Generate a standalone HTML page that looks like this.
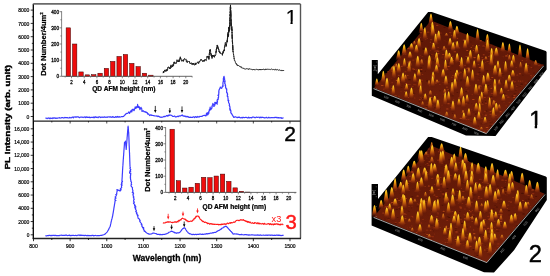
<!DOCTYPE html>
<html><head><meta charset="utf-8"><style>
html,body{margin:0;padding:0;background:#fff;}
svg{display:block;font-family:'Liberation Sans', Arial, sans-serif;}
</style></head><body>
<svg width="550" height="276" viewBox="0 0 550 276">
<rect x="0" y="0" width="550" height="276" fill="#fff"/>
<polyline points="162.90,73.11 163.16,72.96 163.43,71.25 163.69,72.94 163.95,71.06 164.21,71.36 164.47,71.06 164.74,69.90 165.00,71.46 165.50,71.29 166.00,69.70 166.50,71.24 166.68,69.42 166.87,70.21 167.05,70.91 167.23,70.66 167.42,69.99 167.60,69.98 167.78,67.45 167.97,67.40 168.15,67.61 168.33,66.90 168.52,66.76 168.70,66.92 169.02,68.08 169.35,68.47 169.68,68.95 170.00,67.12 170.20,68.81 170.40,67.38 170.60,66.05 170.80,66.59 171.00,64.86 171.50,67.44 172.00,67.11 172.50,65.59 172.68,66.82 172.86,64.55 173.05,64.17 173.23,64.53 173.41,65.84 173.59,65.51 173.77,62.73 173.95,62.23 174.14,62.82 174.32,61.79 174.50,63.26 174.88,63.79 175.25,62.58 175.62,63.25 176.00,63.75 176.17,63.40 176.33,62.68 176.50,62.82 176.67,61.32 176.83,61.47 177.00,59.73 177.38,61.46 177.75,61.80 178.12,60.61 178.50,61.91 178.68,61.22 178.86,61.82 179.04,59.66 179.22,61.60 179.40,59.89 179.58,59.13 179.76,58.71 179.94,59.05 180.12,58.08 180.30,56.77 180.45,58.99 180.60,58.03 180.75,58.45 180.90,59.33 181.05,58.84 181.20,59.82 181.35,60.46 181.50,60.14 181.93,61.37 182.35,60.82 182.77,59.94 183.20,60.10 183.46,61.40 183.72,59.56 183.98,60.13 184.24,58.98 184.50,58.46 184.90,58.66 185.30,59.28 185.70,59.51 186.10,59.11 186.33,61.49 186.57,61.93 186.80,62.17 187.03,60.61 187.27,62.54 187.50,62.05 188.00,61.69 188.50,61.08 189.00,61.75 189.38,61.27 189.75,63.10 190.12,63.78 190.50,63.10 190.88,63.69 191.25,62.68 191.62,63.41 192.00,64.64 192.40,63.20 192.80,64.67 193.20,64.58 193.60,63.17 194.00,64.90 194.40,64.94 194.80,65.10 195.24,62.86 195.68,64.92 196.12,63.23 196.56,63.73 197.00,63.43 197.40,62.00 197.80,62.13 198.20,61.78 198.60,63.62 199.00,62.51 199.25,61.64 199.50,62.13 199.75,61.01 200.00,60.55 200.32,60.79 200.65,59.99 200.98,59.11 201.30,59.87 201.60,59.64 201.90,60.62 202.20,60.32 202.50,61.53 202.93,61.50 203.37,60.34 203.80,61.51 204.10,60.43 204.40,61.24 204.70,59.55 205.00,60.26 205.43,59.44 205.87,60.38 206.30,60.61 206.43,59.64 206.57,58.97 206.70,58.63 206.83,57.07 206.97,56.42 207.10,56.16 207.23,55.97 207.37,57.29 207.50,56.89 207.73,57.27 207.97,57.01 208.20,55.99 208.43,57.63 208.67,56.98 208.90,59.53 208.94,57.54 208.99,58.45 209.03,56.37 209.07,57.10 209.12,56.12 209.16,55.73 209.21,55.39 209.25,55.20 209.29,54.57 209.34,53.52 209.38,54.67 209.43,53.64 209.47,53.57 209.51,51.89 209.56,53.05 209.60,52.04 209.70,52.15 209.80,50.56 209.90,50.97 210.00,49.64 210.10,51.10 210.20,50.03 210.27,50.83 210.35,49.71 210.42,49.49 210.49,50.83 210.56,51.18 210.64,52.67 210.71,53.64 210.78,53.03 210.85,54.05 210.93,53.74 211.00,54.57 211.11,54.13 211.22,55.97 211.33,54.46 211.44,56.12 211.56,57.14 211.67,55.66 211.78,56.09 211.89,57.64 212.00,58.54 212.20,58.03 212.40,56.47 212.60,55.17 212.80,56.70 213.00,55.04 213.20,55.46 213.36,54.99 213.52,55.80 213.68,56.48 213.84,56.40 214.00,56.11 214.25,57.13 214.50,57.31 214.75,54.85 215.00,55.17 215.35,55.72 215.70,55.06 215.76,55.00 215.81,54.46 215.87,53.85 215.93,51.99 215.99,52.22 216.04,52.66 216.10,50.97 216.16,51.74 216.21,52.01 216.27,49.62 216.33,49.27 216.39,50.37 216.44,49.54 216.50,48.89 216.59,47.74 216.68,48.72 216.77,47.85 216.86,46.95 216.94,46.59 217.03,45.28 217.12,45.39 217.21,45.24 217.30,44.95 217.40,46.31 217.50,46.90 217.60,45.80 217.70,45.79 217.80,47.79 217.90,46.79 218.00,48.63 218.14,49.05 218.29,47.88 218.43,48.40 218.57,49.78 218.71,49.35 218.86,49.18 219.00,51.82 219.25,50.86 219.50,51.75 219.75,53.14 220.00,51.75 220.25,52.59 220.50,53.59 220.80,53.97 221.10,53.51 221.40,53.70 221.70,54.14 222.00,54.33 222.30,54.45 222.45,55.36 222.60,52.79 222.75,53.62 222.90,52.50 223.05,51.34 223.20,53.12 223.50,52.56 223.80,50.25 224.10,51.06 224.16,50.96 224.22,49.59 224.28,50.72 224.33,49.04 224.39,48.76 224.45,47.21 224.51,47.22 224.57,47.59 224.62,47.30 224.68,47.19 224.74,46.31 224.80,45.74 224.89,46.62 224.97,44.83 225.06,44.83 225.14,43.62 225.23,43.17 225.31,42.59 225.40,42.31 225.49,42.66 225.57,43.07 225.66,43.33 225.74,44.73 225.83,43.93 225.91,45.35 226.00,44.83 226.15,45.33 226.30,46.41 226.45,43.75 226.60,43.53 226.67,43.60 226.75,42.43 226.82,42.62 226.89,42.71 226.96,41.88 227.04,41.39 227.11,41.94 227.18,40.14 227.25,42.02 227.33,39.11 227.40,38.94 227.43,38.38 227.46,39.58 227.49,37.99 227.52,38.29 227.55,39.03 227.58,36.32 227.61,37.40 227.64,35.63 227.66,37.20 227.69,35.60 227.72,35.94 227.75,34.21 227.78,35.26 227.81,34.37 227.84,33.47 227.87,32.71 227.90,32.95 227.99,32.57 228.07,34.13 228.16,33.99 228.24,33.81 228.33,33.90 228.41,36.24 228.50,34.95 228.52,36.48 228.55,36.17 228.57,34.64 228.59,34.97 228.61,33.62 228.64,33.28 228.66,32.11 228.68,31.71 228.70,32.71 228.73,30.74 228.75,31.88 228.77,29.82 228.80,31.90 228.82,30.44 228.84,30.59 228.86,30.21 228.89,28.23 228.91,27.54 228.93,27.22 228.95,29.03 228.98,28.43 229.00,26.91 229.04,28.26 229.08,28.17 229.12,29.17 229.16,28.87 229.20,27.99 229.24,29.65 229.28,29.04 229.32,30.11 229.36,29.50 229.40,30.96 229.42,30.73 229.43,29.98 229.45,30.04 229.46,28.97 229.48,28.51 229.49,27.45 229.51,27.25 229.52,28.30 229.54,28.56 229.55,28.01 229.57,26.26 229.58,27.11 229.60,25.61 229.62,25.00 229.63,25.92 229.65,25.54 229.66,22.95 229.68,23.06 229.69,23.54 229.71,23.41 229.72,22.18 229.74,22.58 229.75,20.98 229.77,20.60 229.78,19.61 229.80,20.98 229.82,21.12 229.84,20.45 229.86,18.17 229.88,18.54 229.90,18.33 229.92,18.73 229.94,17.30 229.96,17.78 229.98,15.90 230.00,14.88 230.02,15.82 230.04,14.45 230.06,14.14 230.08,14.40 230.10,14.82 230.12,12.45 230.14,11.98 230.16,12.41 230.18,12.53 230.20,11.51 230.22,12.37 230.24,10.55 230.25,10.58 230.27,10.81 230.29,10.74 230.31,8.58 230.32,9.87 230.34,9.57 230.36,7.72 230.38,6.63 230.39,8.50 230.41,6.97 230.43,7.76 230.45,6.50 230.46,5.87 230.48,4.59 230.50,6.28 230.51,5.17 230.53,5.70 230.54,6.10 230.55,5.74 230.57,7.10 230.58,8.37 230.60,8.99 230.61,7.05 230.62,8.81 230.64,8.52 230.65,10.57 230.66,10.35 230.68,10.36 230.69,11.92 230.70,10.34 230.72,10.72 230.73,12.81 230.75,11.77 230.76,13.93 230.77,12.90 230.79,12.63 230.80,15.25 230.81,13.70 230.82,13.72 230.83,15.85 230.84,15.97 230.86,14.75 230.87,17.64 230.88,16.25 230.89,16.66 230.90,16.49 230.91,19.26 230.92,19.54 230.93,20.17 230.94,19.68 230.96,18.55 230.97,19.27 230.98,21.36 230.99,19.75 231.00,21.42 231.01,20.72 231.02,23.42 231.03,21.60 231.04,21.99 231.06,24.45 231.07,22.98 231.08,25.48 231.09,23.93 231.10,26.17 231.13,25.95 231.17,24.59 231.20,26.90 231.23,26.85 231.27,27.18 231.30,27.59 231.33,27.14 231.37,29.46 231.40,27.92 231.43,30.05 231.47,28.97 231.50,28.84 231.56,29.34 231.61,28.14 231.67,29.68 231.73,29.56 231.79,27.92 231.84,26.37 231.90,26.85 231.91,27.67 231.92,27.83 231.93,27.75 231.94,28.89 231.96,30.17 231.97,30.32 231.98,31.09 231.99,29.28 232.00,31.27 232.01,31.45 232.02,32.70 232.03,31.83 232.04,33.27 232.06,32.78 232.07,33.42 232.08,33.32 232.09,34.65 232.10,35.25 232.11,35.99 232.12,34.41 232.13,36.55 232.14,36.92 232.16,36.01 232.17,36.79 232.18,36.85 232.19,38.57 232.20,37.08 232.22,38.06 232.25,37.86 232.27,38.73 232.30,38.38 232.32,41.10 232.35,41.02 232.38,41.68 232.40,41.05 232.42,40.61 232.45,41.68 232.47,43.41 232.50,41.99 232.53,43.46 232.55,42.37 232.57,42.72 232.60,43.58 232.62,44.51 232.65,45.02 232.67,46.02 232.70,44.95 232.72,46.90 232.75,46.65 232.78,48.48 232.80,46.32 232.82,47.80 232.85,49.25 232.88,48.59 232.90,50.20 232.93,49.32 232.95,50.37 232.97,51.53 233.00,50.88 233.06,50.91 233.12,51.99 233.18,51.76 233.24,52.58 233.30,52.47 233.35,53.64 233.41,53.63 233.47,53.84 233.53,54.85 233.59,55.06 233.65,54.72 233.71,55.39 233.77,56.41 233.83,56.76 233.89,56.38 233.95,57.09 234.00,57.26 234.06,58.00 234.12,58.79 234.18,58.31 234.24,59.08 234.30,59.33 234.47,60.23 234.64,60.00 234.81,60.78 234.99,60.98 235.16,61.36 235.33,62.21 235.50,62.78 235.72,62.91 235.93,63.37 236.15,63.11 236.37,64.36 236.58,64.42 236.80,65.14 237.16,64.59 237.51,65.63 237.87,65.85 238.22,65.15 238.58,65.52 238.93,65.99 239.29,66.13 239.64,66.28 240.00,66.90 240.36,66.69 240.73,67.26 241.09,66.65 241.45,67.36 241.82,67.93 242.18,67.75 242.55,68.27 242.91,67.87 243.27,68.50 243.64,68.34 244.00,68.77 244.40,68.95 244.80,68.64 245.20,68.86 245.60,69.09 246.00,68.76 246.40,68.81 246.80,68.51 247.20,68.96 247.60,69.02 248.00,68.61 248.40,69.55 248.80,69.14 249.20,68.68 249.60,68.99 250.00,68.80 250.40,69.23 250.80,69.03 251.20,68.98 251.60,69.38 252.00,69.10 252.41,69.73 252.82,69.86 253.23,69.65 253.63,69.13 254.04,69.97 254.45,69.74 254.86,69.64 255.27,69.48 255.68,69.89 256.09,69.49 256.50,69.42 256.90,69.24 257.31,69.61 257.72,69.02 258.13,69.68 258.54,69.82 258.95,70.05 259.36,69.81 259.77,69.06 260.17,69.84 260.58,69.26 260.99,70.12 261.40,69.58 261.81,69.21 262.22,69.77 262.64,69.21 263.05,69.71 263.46,69.17 263.88,69.10 264.29,69.44 264.70,70.09 265.11,69.28 265.52,68.99 265.94,69.75 266.35,69.01 266.76,69.33 267.18,69.07 267.59,69.38 268.00,69.44 268.42,69.31 268.83,69.46 269.25,69.35 269.66,69.43 270.08,69.32 270.49,69.58 270.91,69.31 271.33,69.02 271.74,69.21 272.16,69.29 272.57,69.67 272.99,69.82 273.41,69.49 273.82,69.09 274.24,69.58 274.65,70.05 275.07,69.73 275.48,69.18 275.90,69.23 276.31,70.19 276.72,69.68 277.13,69.44 277.54,69.67 277.95,69.77 278.36,70.07 278.77,70.33 279.18,70.11 279.59,69.93 280.00,69.79 280.40,70.24 280.80,70.71 281.20,70.81 281.60,69.94 282.00,70.53 282.40,70.61 282.80,70.24 283.20,70.81 283.60,70.36 284.00,71.00" fill="none" stroke="#1a1a1a" stroke-width="1.0" stroke-linejoin="round" />
<polyline points="45.40,118.04 46.01,118.07 46.62,118.28 47.23,118.62 47.83,118.08 48.44,118.12 49.05,117.95 49.66,118.67 50.27,118.54 50.88,117.97 51.48,118.35 52.09,118.54 52.70,117.83 53.31,118.34 53.92,117.88 54.52,117.78 55.13,118.46 55.74,117.94 56.35,118.17 56.96,118.40 57.57,117.99 58.17,117.99 58.78,117.86 59.39,117.61 60.00,118.11 60.61,118.00 61.21,117.80 61.82,117.64 62.43,117.62 63.04,117.66 63.64,118.05 64.25,117.85 64.86,117.41 65.46,117.50 66.07,117.82 66.68,117.53 67.29,117.62 67.89,117.81 68.50,118.01 69.11,117.99 69.71,117.35 70.32,117.76 70.93,117.88 71.54,117.74 72.14,117.15 72.75,117.07 73.36,117.79 73.96,116.90 74.57,117.02 75.18,117.16 75.79,116.89 76.39,117.16 77.00,116.80 77.61,116.90 78.21,116.89 78.82,117.20 79.42,117.66 80.03,117.24 80.63,117.13 81.24,117.20 81.84,117.14 82.45,117.15 83.05,117.58 83.66,117.23 84.26,117.01 84.87,116.97 85.47,117.57 86.08,116.84 86.68,117.30 87.29,117.16 87.89,117.39 88.50,117.47 89.11,116.89 89.71,117.59 90.32,117.64 90.92,117.40 91.53,117.39 92.13,117.29 92.74,117.44 93.34,117.65 93.95,116.89 94.55,117.69 95.16,116.87 95.76,116.95 96.37,117.43 96.97,116.99 97.58,117.35 98.18,117.68 98.79,116.85 99.39,116.86 100.00,116.95 100.60,117.54 101.20,117.32 101.80,117.00 102.40,117.10 103.00,117.49 103.60,117.25 104.20,116.80 104.80,117.19 105.40,117.29 106.00,117.06 106.60,117.19 107.20,117.46 107.80,116.77 108.40,117.02 109.00,116.95 109.60,117.09 110.20,116.73 110.80,117.19 111.40,117.08 112.00,117.38 112.60,116.66 113.20,116.76 113.80,117.32 114.40,117.28 115.00,117.33 115.60,116.67 116.20,116.83 116.80,117.32 117.40,116.50 118.00,116.98 118.60,117.12 119.20,116.53 119.80,117.21 120.40,117.00 121.00,116.73 121.60,116.57 122.20,116.70 122.80,116.56 123.40,116.37 124.00,116.00 124.60,115.20 125.20,114.84 125.80,113.95 126.40,113.60 127.00,113.29 127.62,113.32 128.25,112.87 128.88,111.91 129.50,113.36 130.05,112.44 130.60,111.36 131.15,110.44 131.70,111.93 131.96,111.32 132.22,109.33 132.48,109.51 132.74,109.92 133.00,109.43 133.33,109.23 133.67,109.94 134.00,110.63 134.30,110.24 134.60,108.92 134.90,108.55 135.20,106.91 135.50,107.18 135.83,108.28 136.17,107.68 136.50,107.92 136.72,106.69 136.94,107.21 137.16,106.73 137.38,106.83 137.60,104.44 137.83,106.98 138.07,107.59 138.30,106.99 138.65,106.37 139.00,107.34 139.25,107.64 139.50,107.07 139.75,109.26 140.00,109.54 140.50,108.50 141.00,107.38 141.25,107.77 141.50,108.12 141.75,108.94 142.00,111.48 143.00,110.76 143.47,110.83 143.93,111.73 144.40,111.63 144.87,111.99 145.33,112.10 145.80,111.64 146.33,112.73 146.87,112.40 147.40,112.96 147.93,114.27 148.47,113.86 149.00,114.43 149.65,115.55 150.30,115.25 150.95,114.64 151.60,115.36 152.25,115.23 152.90,115.50 153.55,115.69 154.20,115.69 154.85,115.99 155.50,116.01 156.10,115.93 156.70,116.12 157.30,115.99 157.90,116.68 158.50,116.06 159.10,116.41 159.70,116.93 160.30,117.30 160.90,116.96 161.58,117.34 162.27,117.21 162.95,116.93 163.63,116.66 164.32,116.38 165.00,116.59 165.60,116.29 166.20,115.87 166.80,115.56 167.40,116.17 168.00,115.31 168.60,115.79 169.20,114.90 169.80,115.31 170.53,115.03 171.27,115.31 172.00,115.68 172.67,116.45 173.33,116.48 174.00,116.20 174.67,115.98 175.33,116.93 176.00,116.93 176.60,116.69 177.20,116.62 177.80,116.07 178.40,116.63 179.00,116.00 179.64,115.92 180.28,116.11 180.92,115.71 181.56,115.41 182.20,114.99 182.90,115.82 183.60,115.93 184.30,116.39 185.00,115.83 185.64,116.75 186.28,116.87 186.92,116.33 187.56,116.80 188.20,116.70 188.84,117.32 189.49,117.45 190.13,117.09 190.78,117.41 191.42,117.37 192.07,117.26 192.71,117.32 193.36,116.82 194.00,116.94 194.64,117.50 195.28,116.90 195.91,116.69 196.55,117.36 197.19,117.08 197.82,116.48 198.46,117.02 199.10,117.11 199.75,116.38 200.40,116.48 201.05,116.39 201.70,116.42 202.35,116.28 203.00,115.59 203.60,115.52 204.20,115.35 204.80,115.34 205.29,115.80 206.36,114.52 206.23,115.76 206.47,113.16 206.80,114.42 207.59,114.16 207.60,112.86 207.64,115.02 207.91,114.41 208.07,114.49 208.22,113.82 208.21,112.27 208.89,113.18 208.77,111.19 208.84,111.53 209.52,110.72 209.78,110.18 209.34,109.73 209.88,109.06 210.18,107.15 210.28,109.53 210.38,108.53 210.75,109.73 211.11,109.16 211.44,108.21 211.38,108.69 211.70,108.68 212.18,106.50 211.87,106.48 212.34,105.37 212.89,104.27 212.88,103.36 213.54,105.08 213.96,104.75 214.07,106.41 213.76,106.34 214.64,104.16 214.91,105.15 214.86,104.06 214.81,102.43 215.43,103.66 215.67,102.24 216.23,103.17 217.27,104.05 216.86,102.38 216.77,102.00 217.58,102.06 217.09,100.52 217.23,99.87 218.03,98.92 218.11,99.72 218.22,97.38 218.43,98.28 218.63,95.59 217.97,95.52 218.51,95.13 218.25,95.01 218.79,94.39 218.75,93.61 218.97,91.94 218.85,91.50 218.66,92.28 218.92,90.75 218.96,90.69 218.91,90.21 218.96,90.30 219.43,89.22 220.14,87.80 220.34,86.99 221.11,88.15 221.33,88.34 221.70,87.53 221.89,87.93 222.19,87.20 222.46,85.78 223.02,86.28 223.08,86.30 222.94,84.28 222.90,83.58 222.97,82.93 222.98,82.64 223.12,81.73 223.50,80.96 223.74,81.37 223.39,80.79 223.34,78.51 224.10,77.77 223.40,79.01 223.50,77.94 224.04,76.39 223.90,77.43 224.08,76.50 224.19,78.24 224.13,77.50 224.60,78.18 224.08,78.64 224.89,80.26 224.79,81.25 225.08,81.50 224.68,82.98 224.50,83.00 225.27,84.13 225.23,85.59 225.35,85.81 225.48,85.06 225.64,86.00 225.52,86.83 225.77,87.87 226.42,89.20 226.71,88.90 226.70,90.82 226.65,91.54 226.58,92.23 227.31,92.97 227.38,92.99 227.17,93.62 227.63,93.93 227.54,95.31 227.37,94.63 227.28,96.44 227.87,96.60 227.66,96.14 227.96,98.28 227.97,97.90 228.13,99.44 228.00,100.10 228.02,100.33 228.72,100.42 228.81,100.60 228.44,101.37 228.65,102.74 228.99,103.21 229.43,104.05 229.39,105.08 229.60,105.17 229.24,105.25 229.68,106.46 229.90,106.95 229.82,106.47 229.89,106.92 230.02,107.49 229.67,109.21 230.52,109.22 230.02,110.29 230.76,110.29 230.95,111.50 230.92,111.60 230.67,112.01 231.13,113.20 231.45,113.35 231.74,113.81 231.97,114.41 232.27,114.92 232.65,115.45 233.03,116.18 233.42,116.77 233.80,117.39 234.50,117.09 235.20,116.94 235.90,116.96 236.60,117.21 237.30,117.74 237.94,117.15 238.58,117.42 239.23,117.06 239.87,117.59 240.51,117.79 241.15,117.79 241.79,117.45 242.43,117.91 243.07,117.23 243.72,117.53 244.36,117.61 245.00,117.48 245.61,117.36 246.23,117.38 246.84,117.48 247.45,117.91 248.07,117.94 248.68,117.24 249.29,117.93 249.90,117.70 250.52,117.56 251.13,117.61 251.74,117.85 252.36,117.11 252.97,117.11 253.58,117.11 254.20,117.27 254.81,117.70 255.42,117.73 256.03,117.24 256.65,116.99 257.26,117.51 257.87,117.41 258.49,117.27 259.10,117.12 259.71,117.83 260.31,117.67 260.92,117.03 261.52,117.67 262.13,117.51 262.73,117.20 263.34,117.53 263.94,117.49 264.55,117.92 265.16,117.80 265.76,117.57 266.37,117.25 266.97,117.84 267.58,118.01 268.18,117.64 268.79,117.29 269.39,117.72 270.00,117.80 270.62,117.72 271.24,117.62 271.85,117.58 272.47,117.66 273.09,117.74 273.71,117.60 274.33,117.74 274.95,117.39 275.56,117.42 276.18,117.56 276.80,117.43 277.42,117.64 278.04,118.12 278.65,117.49 279.27,117.83 279.89,117.78 280.51,118.00 281.13,117.61 281.75,118.40 282.36,118.17 282.98,117.94 283.60,118.00" fill="none" stroke="#3c3cff" stroke-width="1.2" stroke-linejoin="round" />
<polyline points="45.40,235.72 46.13,235.81 46.86,235.79 47.59,235.55 48.32,235.63 49.05,235.36 49.78,235.41 50.51,235.57 51.24,235.38 51.97,235.72 52.70,235.33 53.43,235.31 54.16,235.29 54.89,235.66 55.62,235.32 56.35,235.64 57.08,235.67 57.81,235.52 58.54,235.64 59.27,235.64 60.00,235.30 60.71,235.23 61.43,235.18 62.14,235.44 62.86,235.47 63.57,235.29 64.29,235.37 65.00,235.37 65.71,235.15 66.43,235.13 67.14,235.54 67.86,235.50 68.57,235.40 69.29,235.13 70.00,235.58 70.71,235.47 71.43,235.56 72.14,235.27 72.86,235.47 73.57,235.46 74.29,235.51 75.00,235.55 75.71,235.24 76.43,235.53 77.14,235.53 77.86,235.22 78.57,235.15 79.29,235.13 80.00,235.55 80.71,235.09 81.43,235.35 82.14,235.21 82.86,235.52 83.57,235.33 84.29,235.59 85.00,235.40 85.71,235.23 86.43,235.65 87.14,235.59 87.86,235.42 88.57,235.64 89.29,235.46 90.00,235.68 90.71,235.49 91.43,235.64 92.14,235.44 92.86,235.38 93.57,235.82 94.29,235.65 95.00,235.52 95.71,235.47 96.43,235.76 97.14,235.70 97.86,235.64 98.57,235.66 99.29,235.62 100.00,235.49 100.75,235.47 101.50,235.47 102.25,235.17 103.00,235.02 103.67,234.75 104.33,234.49 105.00,234.15 105.50,233.57 106.00,233.16 106.50,232.67 107.00,232.09 107.40,231.60 107.80,230.76 108.20,230.29 108.60,229.49 108.97,228.86 109.35,227.84 109.72,227.29 110.10,226.46 110.26,225.96 110.42,225.25 110.59,224.29 110.75,223.85 110.91,223.19 111.08,222.18 111.24,221.59 111.40,220.87 111.56,220.21 111.72,219.46 111.89,218.95 112.05,218.37 112.21,217.85 112.38,216.92 112.54,216.24 112.70,215.77 112.81,214.68 112.93,214.02 113.04,213.45 113.15,213.07 113.27,212.11 113.38,211.53 113.50,210.58 113.61,210.10 113.72,209.62 113.84,208.62 113.95,207.75 114.06,207.34 114.18,206.44 114.29,206.12 114.40,205.20 114.52,204.44 114.63,203.79 114.75,203.37 114.86,202.35 114.97,201.78 114.97,200.87 115.88,200.39 115.02,199.68 114.91,199.16 115.48,198.08 116.07,198.03 115.11,196.98 115.59,196.78 116.42,195.26 115.82,194.46 116.95,193.93 116.53,193.46 116.70,192.92 117.02,191.54 117.21,190.96 117.07,190.20 116.92,189.64 118.15,190.13 119.49,190.76 119.45,190.70 120.29,190.78 121.14,189.62 120.17,189.18 121.00,188.22 121.64,187.58 121.57,187.19 121.48,185.87 122.18,184.93 121.44,184.99 121.16,184.29 122.08,183.10 121.56,182.82 122.47,181.35 121.91,181.13 121.98,180.17 122.02,179.77 122.07,178.45 122.11,178.65 122.15,177.76 122.19,177.12 122.24,176.75 122.28,174.91 122.32,174.41 122.36,174.59 122.41,172.90 122.45,173.14 122.49,172.07 122.53,170.83 122.58,169.98 122.62,169.68 122.66,168.59 122.70,168.71 122.75,167.28 122.79,166.79 122.83,166.30 122.87,165.46 122.92,165.14 122.96,164.36 123.00,163.99 123.05,162.95 123.10,162.16 123.16,161.70 123.21,160.26 123.26,159.85 123.31,158.92 123.36,158.79 123.41,158.10 123.47,156.75 123.52,156.19 123.57,155.78 123.62,155.46 123.67,154.67 123.72,153.28 123.78,153.22 123.83,151.84 123.88,151.80 123.93,150.47 123.98,150.03 124.03,149.30 124.09,148.62 124.14,147.66 124.19,147.58 124.24,146.62 124.29,146.02 124.34,145.39 124.40,144.47 124.45,143.34 124.50,142.65 124.95,142.43 125.40,141.10 125.48,142.90 125.56,143.07 125.64,143.41 125.72,144.21 125.80,145.21 125.88,145.66 125.96,146.54 126.04,147.28 126.12,148.25 126.20,149.51 126.26,148.80 126.32,147.76 126.38,147.36 126.44,146.30 126.50,145.58 126.56,144.25 126.62,143.35 126.68,142.69 126.74,143.04 126.80,141.52 126.86,140.76 126.92,140.56 126.98,139.26 127.04,139.38 127.10,138.04 127.16,136.81 127.22,137.01 127.28,135.40 127.34,135.81 127.40,134.32 127.46,133.25 127.53,133.02 127.59,131.76 127.65,131.02 127.72,130.29 127.78,129.97 127.85,128.81 127.91,129.18 127.97,127.88 128.04,127.17 128.10,126.18 128.17,127.18 128.23,127.98 128.30,128.26 128.37,129.38 128.43,130.15 128.50,130.95 128.57,132.03 128.63,132.21 128.70,132.67 128.73,133.50 128.76,134.78 128.79,134.96 128.81,135.41 128.84,136.14 128.87,137.46 128.90,137.57 128.93,138.29 128.96,139.30 128.99,139.80 129.01,140.79 129.04,141.81 129.07,142.66 129.10,143.29 129.13,144.31 129.16,145.20 129.19,145.62 129.22,146.47 129.25,146.38 129.28,147.15 129.31,148.49 129.34,148.48 129.37,149.79 129.40,149.91 129.43,151.00 129.46,152.44 129.49,152.30 129.52,153.18 129.55,153.49 129.58,155.19 129.61,155.04 129.64,155.86 129.67,156.91 129.70,158.05 129.72,158.20 129.75,159.09 129.77,159.79 129.80,161.11 129.82,161.87 129.85,161.55 129.88,162.65 129.90,164.04 129.93,164.28 129.95,165.37 129.97,165.29 130.00,165.99 130.11,166.90 130.40,167.48 129.87,168.21 130.78,169.64 130.61,170.10 130.01,170.25 130.64,171.38 129.55,171.72 129.66,173.10 130.81,173.20 130.69,174.07 130.56,175.44 130.56,176.09 130.30,175.87 130.58,177.30 130.21,177.79 130.48,178.09 130.56,179.25 130.88,180.36 130.86,181.43 131.53,182.09 131.44,182.52 131.31,183.40 131.16,183.89 131.69,184.53 131.22,184.73 131.03,185.80 131.81,187.01 132.13,187.19 132.55,187.88 132.38,188.36 132.55,189.80 132.96,190.80 132.71,191.46 132.91,191.91 132.29,192.52 133.38,192.91 133.61,194.00 132.93,194.08 133.05,195.01 133.50,196.60 133.94,196.97 133.29,197.08 133.80,198.33 133.92,198.83 134.24,199.36 133.51,200.14 134.04,201.61 133.48,202.01 134.41,202.24 133.50,203.36 134.66,204.45 134.74,204.57 134.53,205.37 135.42,205.76 134.76,206.79 135.94,206.96 134.84,207.54 135.76,208.84 135.40,209.06 136.15,210.32 136.45,211.13 135.74,211.55 137.00,212.83 136.45,213.42 137.23,214.26 136.97,214.74 138.15,215.22 137.44,215.63 137.76,216.19 137.99,217.50 138.17,218.35 139.29,219.10 139.63,219.66 140.12,220.60 140.03,221.26 139.62,220.87 139.89,221.65 140.76,222.75 141.62,223.89 141.22,224.28 142.10,224.97 141.74,225.96 142.34,226.78 142.75,227.84 143.62,227.49 143.69,228.97 143.36,228.94 143.95,229.92 144.30,231.30 144.93,231.10 145.55,232.00 146.18,232.49 146.80,232.92 147.45,233.33 148.10,233.61 148.75,234.06 149.40,234.19 150.10,234.12 150.80,233.99 151.50,234.02 152.23,233.49 152.97,233.09 153.70,233.03 154.47,233.21 155.23,233.51 156.00,233.58 157.00,234.34 158.00,234.39 158.73,234.34 159.47,234.59 160.20,234.33 160.93,234.74 161.67,234.70 162.40,234.77 163.10,234.30 163.80,234.50 164.50,234.39 165.27,234.14 166.03,233.92 166.80,233.60 167.53,233.21 168.27,232.97 169.00,232.26 169.70,231.99 170.40,231.69 171.10,231.31 171.80,231.18 172.65,231.54 173.50,232.19 174.15,232.11 174.80,232.93 175.65,232.72 176.50,233.31 177.45,232.82 178.40,232.96 179.20,232.63 180.00,232.14 180.65,231.26 181.30,230.60 181.80,229.67 182.30,229.17 182.80,228.59 183.50,228.33 184.20,227.63 184.75,228.12 185.30,228.42 185.67,229.34 186.03,230.00 186.40,230.50 186.93,231.32 187.45,231.85 187.97,232.47 188.50,232.96 189.23,233.41 189.97,233.88 190.70,233.92 191.43,234.35 192.17,234.61 192.90,234.43 193.62,234.36 194.35,234.67 195.08,234.47 195.80,234.40 196.53,234.64 197.25,234.38 197.97,234.46 198.70,234.38 199.43,234.17 200.15,234.17 200.88,234.21 201.60,234.44 202.32,234.16 203.05,234.31 203.78,234.29 204.50,234.08 205.29,234.07 206.07,233.84 206.86,233.68 207.64,233.83 208.43,233.47 209.21,233.60 210.00,233.27 210.69,233.16 211.38,233.26 212.06,232.91 212.75,232.71 213.44,232.84 214.12,232.38 214.81,232.52 215.50,232.41 216.20,232.01 216.90,231.39 217.60,231.10 218.30,230.61 219.00,230.51 219.66,230.02 220.32,229.44 220.98,229.34 221.64,228.45 222.30,227.99 223.00,227.82 223.70,227.16 224.40,226.88 225.10,226.41 225.80,226.21 226.37,226.38 226.93,227.02 227.50,227.53 228.03,228.13 228.57,229.00 229.10,229.30 229.61,229.97 230.12,230.46 230.64,231.18 231.15,231.46 231.66,232.11 232.17,232.79 232.69,233.30 233.20,234.04 233.96,233.96 234.71,233.86 235.47,233.98 236.22,233.94 236.98,234.20 237.73,234.11 238.49,234.26 239.24,234.66 240.00,234.60 240.79,234.59 241.57,234.42 242.36,234.58 243.14,234.72 243.93,234.97 244.71,234.57 245.50,234.61 246.22,234.61 246.95,234.85 247.68,234.73 248.40,235.10 249.12,234.73 249.85,235.10 250.57,234.97 251.30,234.83 252.03,234.95 252.75,234.73 253.47,234.95 254.20,235.19 254.93,235.00 255.65,235.13 256.38,235.01 257.10,235.09 257.82,234.91 258.55,235.18 259.27,235.33 260.00,234.93 260.72,235.08 261.43,235.30 262.15,235.23 262.86,235.18 263.58,235.07 264.29,235.26 265.01,235.30 265.72,235.22 266.44,235.18 267.15,235.40 267.87,235.12 268.58,235.03 269.30,235.18 270.01,235.04 270.73,235.36 271.44,235.00 272.16,235.16 272.87,235.34 273.59,235.44 274.30,235.20 275.02,235.29 275.73,235.36 276.45,235.14 277.16,235.07 277.88,235.46 278.59,235.11 279.31,235.33 280.02,235.21 280.74,235.54 281.45,235.54 282.17,235.32 282.88,235.26 283.60,235.40" fill="none" stroke="#3c3cff" stroke-width="1.2" stroke-linejoin="round" />
<polyline points="163.10,223.59 163.58,222.75 164.07,223.06 164.55,223.01 165.03,222.86 165.52,222.73 166.00,222.10 166.50,222.37 167.00,222.16 167.50,221.77 168.00,222.22 168.50,221.75 169.00,222.26 169.56,221.93 170.12,221.74 170.68,221.95 171.24,222.41 171.80,222.59 172.35,222.79 172.90,222.17 173.45,222.26 174.00,222.47 174.50,221.83 175.00,221.87 175.50,221.71 176.00,222.33 176.50,222.32 177.00,221.59 177.50,221.34 178.00,222.04 178.50,220.67 179.00,220.32 179.50,221.04 180.00,219.97 180.50,219.63 181.00,219.93 181.50,218.81 182.00,218.51 182.50,218.06 183.00,218.57 183.50,218.83 184.00,219.03 184.50,218.92 184.88,219.50 185.25,219.10 185.62,219.67 186.00,220.64 186.50,219.99 187.00,220.94 187.50,220.81 188.00,221.74 188.50,221.24 189.00,221.61 189.50,221.57 190.13,221.07 190.77,221.17 191.40,221.09 191.93,221.50 192.47,220.42 193.00,219.98 193.36,219.81 193.72,219.96 194.08,218.47 194.44,218.15 194.80,218.63 195.15,218.09 195.50,217.88 195.85,216.35 196.20,216.94 196.75,215.96 197.30,216.08 197.90,216.06 198.50,216.33 198.80,217.07 199.10,216.91 199.40,217.28 199.70,218.35 200.00,219.08 200.38,219.21 200.77,219.73 201.15,219.84 201.53,220.56 201.92,220.38 202.30,221.15 202.75,221.60 203.20,221.26 203.65,221.54 204.10,222.12 204.55,222.49 205.00,222.14 205.50,222.10 206.00,222.54 206.50,222.92 207.00,222.64 207.50,223.78 208.00,223.56 208.50,223.25 209.00,223.22 209.50,224.20 210.00,224.24 210.50,223.54 211.00,223.64 211.50,224.11 212.00,223.69 212.50,224.27 213.00,224.33 213.50,224.09 214.00,224.48 214.53,224.07 215.06,224.48 215.59,224.30 216.12,224.18 216.65,224.49 217.18,224.48 217.72,224.19 218.25,224.33 218.78,225.00 219.31,224.59 219.84,224.57 220.37,224.25 220.90,224.97 221.41,224.50 221.92,223.77 222.43,224.56 222.94,224.45 223.45,223.99 223.96,224.15 224.47,223.72 224.98,224.51 225.49,223.92 226.00,224.34 226.53,223.98 227.05,223.22 227.58,223.03 228.11,223.76 228.64,223.63 229.16,222.99 229.69,222.78 230.22,223.36 230.75,222.57 231.27,222.52 231.80,222.99 232.33,222.77 232.85,222.68 233.38,222.29 233.90,221.84 234.43,222.36 234.95,222.16 235.47,221.40 236.00,220.76 236.50,220.53 237.00,220.34 237.50,220.26 238.00,220.29 238.50,220.29 239.00,220.77 239.60,220.19 240.20,220.10 240.80,219.55 241.40,220.17 241.92,219.74 242.44,219.99 242.96,220.37 243.48,219.64 244.00,220.17 244.47,220.46 244.93,221.02 245.40,221.28 245.87,220.67 246.33,221.75 246.80,221.34 247.27,221.31 247.73,222.40 248.20,221.61 248.73,221.78 249.27,222.68 249.80,221.94 250.33,222.06 250.87,222.99 251.40,223.21 251.93,223.08 252.47,222.66 253.00,223.31 253.51,223.38 254.02,223.34 254.53,222.58 255.03,223.19 255.54,222.69 256.05,222.69 256.56,223.53 257.07,223.81 257.58,222.82 258.08,222.91 258.59,223.86 259.10,223.02 259.64,223.87 260.17,223.42 260.71,223.65 261.25,223.91 261.78,223.86 262.32,223.77 262.85,223.38 263.39,224.15 263.93,224.32 264.46,223.24 265.00,224.07 265.50,223.98 266.00,224.26 266.50,224.29 267.00,224.12 267.50,223.84 268.00,224.02 268.50,223.53 269.00,223.45 269.50,224.63 270.00,224.08 270.50,223.67 271.00,224.50 271.50,224.61 272.00,223.91 272.50,224.04 273.00,224.71 273.50,224.85 274.00,223.75 274.50,224.52 275.00,223.75 275.50,224.37 276.00,224.00 276.53,223.82 277.06,224.18 277.59,223.89 278.11,224.67 278.64,224.10 279.17,224.56 279.70,224.90 280.23,224.08 280.76,224.97 281.29,224.33 281.81,224.31 282.34,223.99 282.87,224.59 283.40,224.50" fill="none" stroke="#ff1a1a" stroke-width="1.1" stroke-linejoin="round" />
<line x1="155.30" y1="105.90" x2="155.30" y2="110.90" stroke="#000" stroke-width="0.8"/>
<path d="M154.05,109.90 L156.55,109.90 L155.30,112.90Z" fill="#000"/>
<line x1="169.80" y1="108.00" x2="169.80" y2="111.50" stroke="#000" stroke-width="0.8"/>
<path d="M168.55,110.50 L171.05,110.50 L169.80,113.50Z" fill="#000"/>
<line x1="182.00" y1="106.40" x2="182.00" y2="110.90" stroke="#000" stroke-width="0.8"/>
<path d="M180.75,109.90 L183.25,109.90 L182.00,112.90Z" fill="#000"/>
<line x1="154.00" y1="226.10" x2="154.00" y2="229.20" stroke="#000" stroke-width="0.8"/>
<path d="M152.75,228.20 L155.25,228.20 L154.00,231.20Z" fill="#000"/>
<line x1="171.60" y1="224.70" x2="171.60" y2="227.80" stroke="#000" stroke-width="0.8"/>
<path d="M170.35,226.80 L172.85,226.80 L171.60,229.80Z" fill="#000"/>
<line x1="184.20" y1="221.50" x2="184.20" y2="225.30" stroke="#000" stroke-width="0.8"/>
<path d="M182.95,224.30 L185.45,224.30 L184.20,227.30Z" fill="#000"/>
<line x1="168.20" y1="213.80" x2="168.20" y2="217.60" stroke="#ff1a1a" stroke-width="0.8"/>
<path d="M166.95,216.60 L169.45,216.60 L168.20,219.60Z" fill="#ff1a1a"/>
<line x1="183.00" y1="211.60" x2="183.00" y2="214.60" stroke="#ff1a1a" stroke-width="0.8"/>
<path d="M181.75,213.60 L184.25,213.60 L183.00,216.60Z" fill="#ff1a1a"/>
<line x1="197.50" y1="208.40" x2="197.50" y2="211.60" stroke="#ff1a1a" stroke-width="0.8"/>
<path d="M196.25,210.60 L198.75,210.60 L197.50,213.60Z" fill="#ff1a1a"/>
<line x1="33.30" y1="3.80" x2="33.30" y2="239.00" stroke="#000" stroke-width="1.3"/>
<line x1="33.30" y1="3.90" x2="300.40" y2="3.90" stroke="#6a6a6a" stroke-width="1.7"/>
<line x1="300.50" y1="3.90" x2="300.50" y2="238.40" stroke="#555" stroke-width="1.4"/>
<line x1="33.30" y1="121.10" x2="300.40" y2="121.10" stroke="#222" stroke-width="1.2"/>
<line x1="32.70" y1="238.40" x2="301.00" y2="238.40" stroke="#222" stroke-width="1.5"/>
<line x1="30.70" y1="116.50" x2="33.30" y2="116.50" stroke="#000" stroke-width="0.8"/>
<line x1="31.80" y1="109.85" x2="33.30" y2="109.85" stroke="#000" stroke-width="0.8"/>
<line x1="30.70" y1="103.20" x2="33.30" y2="103.20" stroke="#000" stroke-width="0.8"/>
<line x1="31.80" y1="96.55" x2="33.30" y2="96.55" stroke="#000" stroke-width="0.8"/>
<line x1="30.70" y1="89.90" x2="33.30" y2="89.90" stroke="#000" stroke-width="0.8"/>
<line x1="31.80" y1="83.25" x2="33.30" y2="83.25" stroke="#000" stroke-width="0.8"/>
<line x1="30.70" y1="76.60" x2="33.30" y2="76.60" stroke="#000" stroke-width="0.8"/>
<line x1="31.80" y1="69.95" x2="33.30" y2="69.95" stroke="#000" stroke-width="0.8"/>
<line x1="30.70" y1="63.30" x2="33.30" y2="63.30" stroke="#000" stroke-width="0.8"/>
<line x1="31.80" y1="56.65" x2="33.30" y2="56.65" stroke="#000" stroke-width="0.8"/>
<line x1="30.70" y1="50.00" x2="33.30" y2="50.00" stroke="#000" stroke-width="0.8"/>
<line x1="31.80" y1="43.35" x2="33.30" y2="43.35" stroke="#000" stroke-width="0.8"/>
<line x1="30.70" y1="36.70" x2="33.30" y2="36.70" stroke="#000" stroke-width="0.8"/>
<line x1="31.80" y1="30.05" x2="33.30" y2="30.05" stroke="#000" stroke-width="0.8"/>
<line x1="30.70" y1="23.40" x2="33.30" y2="23.40" stroke="#000" stroke-width="0.8"/>
<line x1="31.80" y1="16.75" x2="33.30" y2="16.75" stroke="#000" stroke-width="0.8"/>
<line x1="30.70" y1="10.10" x2="33.30" y2="10.10" stroke="#000" stroke-width="0.8"/>
<text x="29.40" y="118.60" font-size="6.0" text-anchor="end" textLength="2.8" lengthAdjust="spacingAndGlyphs" stroke="#000" stroke-width="0.22">0</text>
<text x="29.40" y="105.30" font-size="6.0" text-anchor="end" textLength="11.2" lengthAdjust="spacingAndGlyphs" stroke="#000" stroke-width="0.22">1000</text>
<text x="29.40" y="92.00" font-size="6.0" text-anchor="end" textLength="11.2" lengthAdjust="spacingAndGlyphs" stroke="#000" stroke-width="0.22">2000</text>
<text x="29.40" y="78.70" font-size="6.0" text-anchor="end" textLength="11.2" lengthAdjust="spacingAndGlyphs" stroke="#000" stroke-width="0.22">3000</text>
<text x="29.40" y="65.40" font-size="6.0" text-anchor="end" textLength="11.2" lengthAdjust="spacingAndGlyphs" stroke="#000" stroke-width="0.22">4000</text>
<text x="29.40" y="52.10" font-size="6.0" text-anchor="end" textLength="11.2" lengthAdjust="spacingAndGlyphs" stroke="#000" stroke-width="0.22">5000</text>
<text x="29.40" y="38.80" font-size="6.0" text-anchor="end" textLength="11.2" lengthAdjust="spacingAndGlyphs" stroke="#000" stroke-width="0.22">6000</text>
<text x="29.40" y="25.50" font-size="6.0" text-anchor="end" textLength="11.2" lengthAdjust="spacingAndGlyphs" stroke="#000" stroke-width="0.22">7000</text>
<text x="29.40" y="12.20" font-size="6.0" text-anchor="end" textLength="11.2" lengthAdjust="spacingAndGlyphs" stroke="#000" stroke-width="0.22">8000</text>
<line x1="30.70" y1="234.80" x2="33.30" y2="234.80" stroke="#000" stroke-width="0.8"/>
<line x1="31.80" y1="228.18" x2="33.30" y2="228.18" stroke="#000" stroke-width="0.8"/>
<line x1="30.70" y1="221.55" x2="33.30" y2="221.55" stroke="#000" stroke-width="0.8"/>
<line x1="31.80" y1="214.93" x2="33.30" y2="214.93" stroke="#000" stroke-width="0.8"/>
<line x1="30.70" y1="208.30" x2="33.30" y2="208.30" stroke="#000" stroke-width="0.8"/>
<line x1="31.80" y1="201.68" x2="33.30" y2="201.68" stroke="#000" stroke-width="0.8"/>
<line x1="30.70" y1="195.05" x2="33.30" y2="195.05" stroke="#000" stroke-width="0.8"/>
<line x1="31.80" y1="188.43" x2="33.30" y2="188.43" stroke="#000" stroke-width="0.8"/>
<line x1="30.70" y1="181.80" x2="33.30" y2="181.80" stroke="#000" stroke-width="0.8"/>
<line x1="31.80" y1="175.18" x2="33.30" y2="175.18" stroke="#000" stroke-width="0.8"/>
<line x1="30.70" y1="168.55" x2="33.30" y2="168.55" stroke="#000" stroke-width="0.8"/>
<line x1="31.80" y1="161.93" x2="33.30" y2="161.93" stroke="#000" stroke-width="0.8"/>
<line x1="30.70" y1="155.30" x2="33.30" y2="155.30" stroke="#000" stroke-width="0.8"/>
<line x1="31.80" y1="148.68" x2="33.30" y2="148.68" stroke="#000" stroke-width="0.8"/>
<line x1="30.70" y1="142.05" x2="33.30" y2="142.05" stroke="#000" stroke-width="0.8"/>
<line x1="31.80" y1="135.43" x2="33.30" y2="135.43" stroke="#000" stroke-width="0.8"/>
<line x1="30.70" y1="128.80" x2="33.30" y2="128.80" stroke="#000" stroke-width="0.8"/>
<text x="29.40" y="236.90" font-size="6.0" text-anchor="end" textLength="2.65" lengthAdjust="spacingAndGlyphs" stroke="#000" stroke-width="0.22">0</text>
<text x="29.40" y="223.65" font-size="6.0" text-anchor="end" textLength="11.200000000000001" lengthAdjust="spacingAndGlyphs" stroke="#000" stroke-width="0.22">2000</text>
<text x="29.40" y="210.40" font-size="6.0" text-anchor="end" textLength="11.200000000000001" lengthAdjust="spacingAndGlyphs" stroke="#000" stroke-width="0.22">4000</text>
<text x="29.40" y="197.15" font-size="6.0" text-anchor="end" textLength="11.200000000000001" lengthAdjust="spacingAndGlyphs" stroke="#000" stroke-width="0.22">6000</text>
<text x="29.40" y="183.90" font-size="6.0" text-anchor="end" textLength="11.200000000000001" lengthAdjust="spacingAndGlyphs" stroke="#000" stroke-width="0.22">8000</text>
<text x="29.40" y="170.65" font-size="6.0" text-anchor="end" textLength="15.25" lengthAdjust="spacingAndGlyphs" stroke="#000" stroke-width="0.22">10,000</text>
<text x="29.40" y="157.40" font-size="6.0" text-anchor="end" textLength="15.25" lengthAdjust="spacingAndGlyphs" stroke="#000" stroke-width="0.22">12,000</text>
<text x="29.40" y="144.15" font-size="6.0" text-anchor="end" textLength="15.25" lengthAdjust="spacingAndGlyphs" stroke="#000" stroke-width="0.22">14,000</text>
<text x="29.40" y="130.90" font-size="6.0" text-anchor="end" textLength="15.25" lengthAdjust="spacingAndGlyphs" stroke="#000" stroke-width="0.22">16,000</text>
<line x1="33.50" y1="238.40" x2="33.50" y2="241.20" stroke="#000" stroke-width="0.8"/>
<line x1="33.50" y1="121.10" x2="33.50" y2="123.50" stroke="#000" stroke-width="0.7"/>
<line x1="51.82" y1="238.40" x2="51.82" y2="240.00" stroke="#000" stroke-width="0.8"/>
<line x1="51.82" y1="121.10" x2="51.82" y2="122.50" stroke="#000" stroke-width="0.7"/>
<line x1="70.14" y1="238.40" x2="70.14" y2="241.20" stroke="#000" stroke-width="0.8"/>
<line x1="70.14" y1="121.10" x2="70.14" y2="123.50" stroke="#000" stroke-width="0.7"/>
<line x1="88.46" y1="238.40" x2="88.46" y2="240.00" stroke="#000" stroke-width="0.8"/>
<line x1="88.46" y1="121.10" x2="88.46" y2="122.50" stroke="#000" stroke-width="0.7"/>
<line x1="106.78" y1="238.40" x2="106.78" y2="241.20" stroke="#000" stroke-width="0.8"/>
<line x1="106.78" y1="121.10" x2="106.78" y2="123.50" stroke="#000" stroke-width="0.7"/>
<line x1="125.10" y1="238.40" x2="125.10" y2="240.00" stroke="#000" stroke-width="0.8"/>
<line x1="125.10" y1="121.10" x2="125.10" y2="122.50" stroke="#000" stroke-width="0.7"/>
<line x1="143.42" y1="238.40" x2="143.42" y2="241.20" stroke="#000" stroke-width="0.8"/>
<line x1="143.42" y1="121.10" x2="143.42" y2="123.50" stroke="#000" stroke-width="0.7"/>
<line x1="161.74" y1="238.40" x2="161.74" y2="240.00" stroke="#000" stroke-width="0.8"/>
<line x1="161.74" y1="121.10" x2="161.74" y2="122.50" stroke="#000" stroke-width="0.7"/>
<line x1="180.06" y1="238.40" x2="180.06" y2="241.20" stroke="#000" stroke-width="0.8"/>
<line x1="180.06" y1="121.10" x2="180.06" y2="123.50" stroke="#000" stroke-width="0.7"/>
<line x1="198.38" y1="238.40" x2="198.38" y2="240.00" stroke="#000" stroke-width="0.8"/>
<line x1="198.38" y1="121.10" x2="198.38" y2="122.50" stroke="#000" stroke-width="0.7"/>
<line x1="216.70" y1="238.40" x2="216.70" y2="241.20" stroke="#000" stroke-width="0.8"/>
<line x1="216.70" y1="121.10" x2="216.70" y2="123.50" stroke="#000" stroke-width="0.7"/>
<line x1="235.02" y1="238.40" x2="235.02" y2="240.00" stroke="#000" stroke-width="0.8"/>
<line x1="235.02" y1="121.10" x2="235.02" y2="122.50" stroke="#000" stroke-width="0.7"/>
<line x1="253.34" y1="238.40" x2="253.34" y2="241.20" stroke="#000" stroke-width="0.8"/>
<line x1="253.34" y1="121.10" x2="253.34" y2="123.50" stroke="#000" stroke-width="0.7"/>
<line x1="271.66" y1="238.40" x2="271.66" y2="240.00" stroke="#000" stroke-width="0.8"/>
<line x1="271.66" y1="121.10" x2="271.66" y2="122.50" stroke="#000" stroke-width="0.7"/>
<line x1="289.98" y1="238.40" x2="289.98" y2="241.20" stroke="#000" stroke-width="0.8"/>
<line x1="289.98" y1="121.10" x2="289.98" y2="123.50" stroke="#000" stroke-width="0.7"/>
<text x="33.50" y="247.60" font-size="6.0" text-anchor="middle" textLength="8.399999999999999" lengthAdjust="spacingAndGlyphs" stroke="#000" stroke-width="0.22">800</text>
<text x="70.14" y="247.60" font-size="6.0" text-anchor="middle" textLength="8.399999999999999" lengthAdjust="spacingAndGlyphs" stroke="#000" stroke-width="0.22">900</text>
<text x="106.78" y="247.60" font-size="6.0" text-anchor="middle" textLength="11.2" lengthAdjust="spacingAndGlyphs" stroke="#000" stroke-width="0.22">1000</text>
<text x="143.42" y="247.60" font-size="6.0" text-anchor="middle" textLength="11.2" lengthAdjust="spacingAndGlyphs" stroke="#000" stroke-width="0.22">1100</text>
<text x="180.06" y="247.60" font-size="6.0" text-anchor="middle" textLength="11.2" lengthAdjust="spacingAndGlyphs" stroke="#000" stroke-width="0.22">1200</text>
<text x="216.70" y="247.60" font-size="6.0" text-anchor="middle" textLength="11.2" lengthAdjust="spacingAndGlyphs" stroke="#000" stroke-width="0.22">1300</text>
<text x="253.34" y="247.60" font-size="6.0" text-anchor="middle" textLength="11.2" lengthAdjust="spacingAndGlyphs" stroke="#000" stroke-width="0.22">1400</text>
<text x="289.98" y="247.60" font-size="6.0" text-anchor="middle" textLength="11.2" lengthAdjust="spacingAndGlyphs" stroke="#000" stroke-width="0.22">1500</text>
<text x="167.00" y="260.80" font-size="9.3" text-anchor="middle" font-weight="bold" textLength="68.6" lengthAdjust="spacingAndGlyphs" stroke="#000" stroke-width="0.3">Wavelength (nm)</text>
<text transform="translate(9.7,117.3) rotate(-90)" font-size="8.1" font-weight="bold" stroke="#000" stroke-width="0.42" text-anchor="middle" textLength="104.5" lengthAdjust="spacingAndGlyphs">PL Intensity (arb. unit)</text>
<text x="291.30" y="23.60" font-size="20.3" text-anchor="middle" stroke="#000" stroke-width="0.2">1</text>
<rect x="285.21" y="21.37" width="5.24" height="3.93" fill="#fff"/>
<rect x="292.66" y="21.37" width="4.73" height="3.93" fill="#fff"/>
<text x="290.10" y="141.40" font-size="21.0" text-anchor="middle" stroke="#000" stroke-width="0.45">2</text>
<text x="291.20" y="229.10" font-size="20.3" text-anchor="middle" fill="#ff1a1a" stroke="#ff1a1a" stroke-width="0.45">3</text>
<text x="276.40" y="221.60" font-size="9.2" text-anchor="middle" fill="#ff1a1a" >x3</text>
<rect x="66.12" y="27.85" width="4.4" height="48.45" fill="#ee0c0c" stroke="#3a0000" stroke-width="0.5"/>
<rect x="72.47" y="44.00" width="4.4" height="32.30" fill="#ee0c0c" stroke="#3a0000" stroke-width="0.5"/>
<rect x="78.82" y="71.94" width="4.4" height="4.36" fill="#ee0c0c" stroke="#3a0000" stroke-width="0.5"/>
<rect x="85.17" y="74.85" width="4.4" height="1.45" fill="#ee0c0c" stroke="#3a0000" stroke-width="0.5"/>
<rect x="91.52" y="74.69" width="4.4" height="1.61" fill="#ee0c0c" stroke="#3a0000" stroke-width="0.5"/>
<rect x="97.87" y="73.23" width="4.4" height="3.07" fill="#ee0c0c" stroke="#3a0000" stroke-width="0.5"/>
<rect x="104.22" y="68.39" width="4.4" height="7.91" fill="#ee0c0c" stroke="#3a0000" stroke-width="0.5"/>
<rect x="110.57" y="61.44" width="4.4" height="14.86" fill="#ee0c0c" stroke="#3a0000" stroke-width="0.5"/>
<rect x="116.92" y="56.44" width="4.4" height="19.86" fill="#ee0c0c" stroke="#3a0000" stroke-width="0.5"/>
<rect x="123.27" y="54.50" width="4.4" height="21.80" fill="#ee0c0c" stroke="#3a0000" stroke-width="0.5"/>
<rect x="129.62" y="63.38" width="4.4" height="12.92" fill="#ee0c0c" stroke="#3a0000" stroke-width="0.5"/>
<rect x="135.98" y="66.61" width="4.4" height="9.69" fill="#ee0c0c" stroke="#3a0000" stroke-width="0.5"/>
<rect x="142.32" y="73.23" width="4.4" height="3.07" fill="#ee0c0c" stroke="#3a0000" stroke-width="0.5"/>
<rect x="148.68" y="75.17" width="4.4" height="1.13" fill="#ee0c0c" stroke="#3a0000" stroke-width="0.5"/>
<line x1="61.60" y1="76.30" x2="61.60" y2="11.20" stroke="#777" stroke-width="0.9"/>
<line x1="61.60" y1="76.30" x2="192.20" y2="76.30" stroke="#555" stroke-width="0.9"/>
<line x1="59.40" y1="76.30" x2="61.60" y2="76.30" stroke="#555" stroke-width="0.7"/>
<line x1="60.40" y1="68.22" x2="61.60" y2="68.22" stroke="#555" stroke-width="0.7"/>
<line x1="59.40" y1="60.15" x2="61.60" y2="60.15" stroke="#555" stroke-width="0.7"/>
<line x1="60.40" y1="52.07" x2="61.60" y2="52.07" stroke="#555" stroke-width="0.7"/>
<line x1="59.40" y1="44.00" x2="61.60" y2="44.00" stroke="#555" stroke-width="0.7"/>
<line x1="60.40" y1="35.92" x2="61.60" y2="35.92" stroke="#555" stroke-width="0.7"/>
<line x1="59.40" y1="27.85" x2="61.60" y2="27.85" stroke="#555" stroke-width="0.7"/>
<line x1="60.40" y1="19.77" x2="61.60" y2="19.77" stroke="#555" stroke-width="0.7"/>
<line x1="59.40" y1="11.70" x2="61.60" y2="11.70" stroke="#555" stroke-width="0.7"/>
<text x="59.00" y="78.30" font-size="5.8" text-anchor="end" textLength="2.6" lengthAdjust="spacingAndGlyphs" stroke="#000" stroke-width="0.3">0</text>
<text x="59.00" y="62.15" font-size="5.8" text-anchor="end" textLength="7.800000000000001" lengthAdjust="spacingAndGlyphs" stroke="#000" stroke-width="0.3">100</text>
<text x="59.00" y="46.00" font-size="5.8" text-anchor="end" textLength="7.800000000000001" lengthAdjust="spacingAndGlyphs" stroke="#000" stroke-width="0.3">200</text>
<text x="59.00" y="29.85" font-size="5.8" text-anchor="end" textLength="7.800000000000001" lengthAdjust="spacingAndGlyphs" stroke="#000" stroke-width="0.3">300</text>
<text x="59.00" y="13.70" font-size="5.8" text-anchor="end" textLength="7.800000000000001" lengthAdjust="spacingAndGlyphs" stroke="#000" stroke-width="0.3">400</text>
<line x1="65.15" y1="76.30" x2="65.15" y2="77.50" stroke="#555" stroke-width="0.7"/>
<line x1="71.50" y1="76.30" x2="71.50" y2="78.30" stroke="#555" stroke-width="0.7"/>
<line x1="77.85" y1="76.30" x2="77.85" y2="77.50" stroke="#555" stroke-width="0.7"/>
<line x1="84.20" y1="76.30" x2="84.20" y2="78.30" stroke="#555" stroke-width="0.7"/>
<line x1="90.55" y1="76.30" x2="90.55" y2="77.50" stroke="#555" stroke-width="0.7"/>
<line x1="96.90" y1="76.30" x2="96.90" y2="78.30" stroke="#555" stroke-width="0.7"/>
<line x1="103.25" y1="76.30" x2="103.25" y2="77.50" stroke="#555" stroke-width="0.7"/>
<line x1="109.60" y1="76.30" x2="109.60" y2="78.30" stroke="#555" stroke-width="0.7"/>
<line x1="115.95" y1="76.30" x2="115.95" y2="77.50" stroke="#555" stroke-width="0.7"/>
<line x1="122.30" y1="76.30" x2="122.30" y2="78.30" stroke="#555" stroke-width="0.7"/>
<line x1="128.65" y1="76.30" x2="128.65" y2="77.50" stroke="#555" stroke-width="0.7"/>
<line x1="135.00" y1="76.30" x2="135.00" y2="78.30" stroke="#555" stroke-width="0.7"/>
<line x1="141.35" y1="76.30" x2="141.35" y2="77.50" stroke="#555" stroke-width="0.7"/>
<line x1="147.70" y1="76.30" x2="147.70" y2="78.30" stroke="#555" stroke-width="0.7"/>
<line x1="154.05" y1="76.30" x2="154.05" y2="77.50" stroke="#555" stroke-width="0.7"/>
<line x1="160.40" y1="76.30" x2="160.40" y2="78.30" stroke="#555" stroke-width="0.7"/>
<line x1="166.75" y1="76.30" x2="166.75" y2="77.50" stroke="#555" stroke-width="0.7"/>
<line x1="173.10" y1="76.30" x2="173.10" y2="78.30" stroke="#555" stroke-width="0.7"/>
<line x1="179.45" y1="76.30" x2="179.45" y2="77.50" stroke="#555" stroke-width="0.7"/>
<line x1="185.80" y1="76.30" x2="185.80" y2="78.30" stroke="#555" stroke-width="0.7"/>
<line x1="192.15" y1="76.30" x2="192.15" y2="77.50" stroke="#555" stroke-width="0.7"/>
<text x="71.50" y="84.00" font-size="5.8" text-anchor="middle" textLength="2.5" lengthAdjust="spacingAndGlyphs" stroke="#000" stroke-width="0.3">2</text>
<text x="84.20" y="84.00" font-size="5.8" text-anchor="middle" textLength="2.5" lengthAdjust="spacingAndGlyphs" stroke="#000" stroke-width="0.3">4</text>
<text x="96.90" y="84.00" font-size="5.8" text-anchor="middle" textLength="2.5" lengthAdjust="spacingAndGlyphs" stroke="#000" stroke-width="0.3">6</text>
<text x="109.60" y="84.00" font-size="5.8" text-anchor="middle" textLength="2.5" lengthAdjust="spacingAndGlyphs" stroke="#000" stroke-width="0.3">8</text>
<text x="122.30" y="84.00" font-size="5.8" text-anchor="middle" textLength="5.0" lengthAdjust="spacingAndGlyphs" stroke="#000" stroke-width="0.3">10</text>
<text x="135.00" y="84.00" font-size="5.8" text-anchor="middle" textLength="5.0" lengthAdjust="spacingAndGlyphs" stroke="#000" stroke-width="0.3">12</text>
<text x="147.70" y="84.00" font-size="5.8" text-anchor="middle" textLength="5.0" lengthAdjust="spacingAndGlyphs" stroke="#000" stroke-width="0.3">14</text>
<text x="160.40" y="84.00" font-size="5.8" text-anchor="middle" textLength="5.0" lengthAdjust="spacingAndGlyphs" stroke="#000" stroke-width="0.3">16</text>
<text x="173.10" y="84.00" font-size="5.8" text-anchor="middle" textLength="5.0" lengthAdjust="spacingAndGlyphs" stroke="#000" stroke-width="0.3">18</text>
<text x="185.80" y="84.00" font-size="5.8" text-anchor="middle" textLength="5.0" lengthAdjust="spacingAndGlyphs" stroke="#000" stroke-width="0.3">20</text>
<text x="123.90" y="91.40" font-size="6.6" text-anchor="middle" font-weight="bold" textLength="63.3" lengthAdjust="spacingAndGlyphs" stroke="#000" stroke-width="0.22">QD AFM height (nm)</text>
<text transform="translate(46.1,44.0) rotate(-90)" font-size="7.6" font-weight="bold" stroke="#000" stroke-width="0.25" text-anchor="middle">Dot Number/4um<tspan font-size="4.4" dy="-2.7">2</tspan></text>
<rect x="169.95" y="129.22" width="4.4" height="63.18" fill="#ee0c0c" stroke="#3a0000" stroke-width="0.5"/>
<rect x="176.25" y="180.74" width="4.4" height="11.66" fill="#ee0c0c" stroke="#3a0000" stroke-width="0.5"/>
<rect x="182.55" y="188.03" width="4.4" height="4.37" fill="#ee0c0c" stroke="#3a0000" stroke-width="0.5"/>
<rect x="188.85" y="187.22" width="4.4" height="5.18" fill="#ee0c0c" stroke="#3a0000" stroke-width="0.5"/>
<rect x="195.15" y="183.33" width="4.4" height="9.07" fill="#ee0c0c" stroke="#3a0000" stroke-width="0.5"/>
<rect x="201.45" y="177.33" width="4.4" height="15.07" fill="#ee0c0c" stroke="#3a0000" stroke-width="0.5"/>
<rect x="207.75" y="177.66" width="4.4" height="14.74" fill="#ee0c0c" stroke="#3a0000" stroke-width="0.5"/>
<rect x="214.05" y="176.04" width="4.4" height="16.36" fill="#ee0c0c" stroke="#3a0000" stroke-width="0.5"/>
<rect x="220.35" y="174.09" width="4.4" height="18.31" fill="#ee0c0c" stroke="#3a0000" stroke-width="0.5"/>
<rect x="226.65" y="181.38" width="4.4" height="11.02" fill="#ee0c0c" stroke="#3a0000" stroke-width="0.5"/>
<rect x="232.95" y="187.86" width="4.4" height="4.54" fill="#ee0c0c" stroke="#3a0000" stroke-width="0.5"/>
<rect x="239.25" y="191.27" width="4.4" height="1.13" fill="#ee0c0c" stroke="#3a0000" stroke-width="0.5"/>
<rect x="245.55" y="192.08" width="4.4" height="0.32" fill="#ee0c0c" stroke="#3a0000" stroke-width="0.5"/>
<line x1="165.60" y1="192.40" x2="165.60" y2="127.10" stroke="#777" stroke-width="0.9"/>
<line x1="165.60" y1="192.40" x2="296.40" y2="192.40" stroke="#555" stroke-width="0.9"/>
<line x1="163.40" y1="192.40" x2="165.60" y2="192.40" stroke="#555" stroke-width="0.7"/>
<line x1="164.40" y1="184.30" x2="165.60" y2="184.30" stroke="#555" stroke-width="0.7"/>
<line x1="163.40" y1="176.20" x2="165.60" y2="176.20" stroke="#555" stroke-width="0.7"/>
<line x1="164.40" y1="168.10" x2="165.60" y2="168.10" stroke="#555" stroke-width="0.7"/>
<line x1="163.40" y1="160.00" x2="165.60" y2="160.00" stroke="#555" stroke-width="0.7"/>
<line x1="164.40" y1="151.90" x2="165.60" y2="151.90" stroke="#555" stroke-width="0.7"/>
<line x1="163.40" y1="143.80" x2="165.60" y2="143.80" stroke="#555" stroke-width="0.7"/>
<line x1="164.40" y1="135.70" x2="165.60" y2="135.70" stroke="#555" stroke-width="0.7"/>
<line x1="163.40" y1="127.60" x2="165.60" y2="127.60" stroke="#555" stroke-width="0.7"/>
<text x="163.00" y="194.40" font-size="5.8" text-anchor="end" textLength="2.6" lengthAdjust="spacingAndGlyphs" stroke="#000" stroke-width="0.3">0</text>
<text x="163.00" y="178.20" font-size="5.8" text-anchor="end" textLength="7.800000000000001" lengthAdjust="spacingAndGlyphs" stroke="#000" stroke-width="0.3">100</text>
<text x="163.00" y="162.00" font-size="5.8" text-anchor="end" textLength="7.800000000000001" lengthAdjust="spacingAndGlyphs" stroke="#000" stroke-width="0.3">200</text>
<text x="163.00" y="145.80" font-size="5.8" text-anchor="end" textLength="7.800000000000001" lengthAdjust="spacingAndGlyphs" stroke="#000" stroke-width="0.3">300</text>
<text x="163.00" y="129.60" font-size="5.8" text-anchor="end" textLength="7.800000000000001" lengthAdjust="spacingAndGlyphs" stroke="#000" stroke-width="0.3">400</text>
<line x1="169.00" y1="192.40" x2="169.00" y2="193.60" stroke="#555" stroke-width="0.7"/>
<line x1="175.30" y1="192.40" x2="175.30" y2="194.40" stroke="#555" stroke-width="0.7"/>
<line x1="181.60" y1="192.40" x2="181.60" y2="193.60" stroke="#555" stroke-width="0.7"/>
<line x1="187.90" y1="192.40" x2="187.90" y2="194.40" stroke="#555" stroke-width="0.7"/>
<line x1="194.20" y1="192.40" x2="194.20" y2="193.60" stroke="#555" stroke-width="0.7"/>
<line x1="200.50" y1="192.40" x2="200.50" y2="194.40" stroke="#555" stroke-width="0.7"/>
<line x1="206.80" y1="192.40" x2="206.80" y2="193.60" stroke="#555" stroke-width="0.7"/>
<line x1="213.10" y1="192.40" x2="213.10" y2="194.40" stroke="#555" stroke-width="0.7"/>
<line x1="219.40" y1="192.40" x2="219.40" y2="193.60" stroke="#555" stroke-width="0.7"/>
<line x1="225.70" y1="192.40" x2="225.70" y2="194.40" stroke="#555" stroke-width="0.7"/>
<line x1="232.00" y1="192.40" x2="232.00" y2="193.60" stroke="#555" stroke-width="0.7"/>
<line x1="238.30" y1="192.40" x2="238.30" y2="194.40" stroke="#555" stroke-width="0.7"/>
<line x1="244.60" y1="192.40" x2="244.60" y2="193.60" stroke="#555" stroke-width="0.7"/>
<line x1="250.90" y1="192.40" x2="250.90" y2="194.40" stroke="#555" stroke-width="0.7"/>
<line x1="257.20" y1="192.40" x2="257.20" y2="193.60" stroke="#555" stroke-width="0.7"/>
<line x1="263.50" y1="192.40" x2="263.50" y2="194.40" stroke="#555" stroke-width="0.7"/>
<line x1="269.80" y1="192.40" x2="269.80" y2="193.60" stroke="#555" stroke-width="0.7"/>
<line x1="276.10" y1="192.40" x2="276.10" y2="194.40" stroke="#555" stroke-width="0.7"/>
<line x1="282.40" y1="192.40" x2="282.40" y2="193.60" stroke="#555" stroke-width="0.7"/>
<line x1="288.70" y1="192.40" x2="288.70" y2="194.40" stroke="#555" stroke-width="0.7"/>
<line x1="295.00" y1="192.40" x2="295.00" y2="193.60" stroke="#555" stroke-width="0.7"/>
<text x="175.30" y="200.40" font-size="5.8" text-anchor="middle" textLength="2.5" lengthAdjust="spacingAndGlyphs" stroke="#000" stroke-width="0.3">2</text>
<text x="187.90" y="200.40" font-size="5.8" text-anchor="middle" textLength="2.5" lengthAdjust="spacingAndGlyphs" stroke="#000" stroke-width="0.3">4</text>
<text x="200.50" y="200.40" font-size="5.8" text-anchor="middle" textLength="2.5" lengthAdjust="spacingAndGlyphs" stroke="#000" stroke-width="0.3">6</text>
<text x="213.10" y="200.40" font-size="5.8" text-anchor="middle" textLength="2.5" lengthAdjust="spacingAndGlyphs" stroke="#000" stroke-width="0.3">8</text>
<text x="225.70" y="200.40" font-size="5.8" text-anchor="middle" textLength="5.0" lengthAdjust="spacingAndGlyphs" stroke="#000" stroke-width="0.3">10</text>
<text x="238.30" y="200.40" font-size="5.8" text-anchor="middle" textLength="5.0" lengthAdjust="spacingAndGlyphs" stroke="#000" stroke-width="0.3">12</text>
<text x="250.90" y="200.40" font-size="5.8" text-anchor="middle" textLength="5.0" lengthAdjust="spacingAndGlyphs" stroke="#000" stroke-width="0.3">14</text>
<text x="263.50" y="200.40" font-size="5.8" text-anchor="middle" textLength="5.0" lengthAdjust="spacingAndGlyphs" stroke="#000" stroke-width="0.3">16</text>
<text x="276.10" y="200.40" font-size="5.8" text-anchor="middle" textLength="5.0" lengthAdjust="spacingAndGlyphs" stroke="#000" stroke-width="0.3">18</text>
<text x="288.70" y="200.40" font-size="5.8" text-anchor="middle" textLength="5.0" lengthAdjust="spacingAndGlyphs" stroke="#000" stroke-width="0.3">20</text>
<text x="234.30" y="209.30" font-size="6.6" text-anchor="middle" font-weight="bold" textLength="63.6" lengthAdjust="spacingAndGlyphs" stroke="#000" stroke-width="0.22">QD AFM height (nm)</text>
<text transform="translate(150.0,159.9) rotate(-90)" font-size="7.6" font-weight="bold" stroke="#000" stroke-width="0.25" text-anchor="middle">Dot Number/4um<tspan font-size="4.4" dy="-2.7">2</tspan></text>
<polygon points="371.80,60.00 377.80,60.00 377.80,74.30 428.10,11.90 431.70,11.90 545.80,50.90 546.60,52.00 546.60,69.50 495.50,135.90 466.00,135.60 371.80,95.80" fill="#000"/>
<defs><linearGradient id="g11s" x1="0" y1="0" x2="0" y2="1"><stop offset="0" stop-color="#5c1606"/><stop offset="1" stop-color="#72200a"/></linearGradient><radialGradient id="g11p" cx="0.5" cy="0.12" r="0.95" fx="0.46" fy="0.08"><stop offset="0" stop-color="#ffd432"/><stop offset="0.18" stop-color="#f2aa12"/><stop offset="0.37" stop-color="#cc6c0c"/><stop offset="0.56" stop-color="#98380c"/><stop offset="0.78" stop-color="#661a08" stop-opacity="0.6"/><stop offset="1" stop-color="#661a08" stop-opacity="0"/></radialGradient><radialGradient id="g11q" cx="0.5" cy="0.15" r="0.95"><stop offset="0" stop-color="#d8801a"/><stop offset="0.45" stop-color="#a8440e"/><stop offset="0.85" stop-color="#6e1e08" stop-opacity="0.4"/><stop offset="1" stop-color="#6e1e08" stop-opacity="0"/></radialGradient><clipPath id="g11c"><polygon points="371.80,60.00 377.80,60.00 377.80,74.30 428.10,11.90 431.70,11.90 545.80,50.90 546.60,52.00 546.60,69.50 495.50,135.90 466.00,135.60 371.80,95.80"/></clipPath></defs>
<polygon points="374.00,88.00 431.00,20.50 543.30,65.00 486.30,133.20" fill="url(#g11s)"/>
<g clip-path="url(#g11c)">
<ellipse cx="456.7" cy="70.5" rx="1.4" ry="0.6" fill="#5a1606"/>
<ellipse cx="473.5" cy="50.4" rx="0.8" ry="0.3" fill="#b04416"/>
<ellipse cx="467.4" cy="68.4" rx="1.3" ry="0.6" fill="#8e2c10"/>
<ellipse cx="432.2" cy="98.6" rx="1.1" ry="0.5" fill="#661a08"/>
<ellipse cx="479.2" cy="76.2" rx="1.0" ry="0.4" fill="#5a1606"/>
<ellipse cx="482.5" cy="75.7" rx="0.8" ry="0.3" fill="#8e2c10"/>
<ellipse cx="471.0" cy="121.3" rx="0.7" ry="0.3" fill="#4a1004"/>
<ellipse cx="485.7" cy="62.3" rx="0.9" ry="0.4" fill="#862a0c"/>
<ellipse cx="498.2" cy="90.7" rx="1.2" ry="0.5" fill="#5a1606"/>
<ellipse cx="379.4" cy="82.5" rx="1.2" ry="0.5" fill="#5a1606"/>
<ellipse cx="542.8" cy="65.2" rx="1.3" ry="0.6" fill="#661a08"/>
<ellipse cx="445.7" cy="48.2" rx="1.1" ry="0.5" fill="#8e2c10"/>
<ellipse cx="425.6" cy="39.4" rx="1.0" ry="0.4" fill="#b04416"/>
<ellipse cx="410.5" cy="96.6" rx="0.7" ry="0.3" fill="#661a08"/>
<ellipse cx="386.0" cy="73.9" rx="1.4" ry="0.6" fill="#5a1606"/>
<ellipse cx="456.6" cy="56.9" rx="1.0" ry="0.4" fill="#862a0c"/>
<ellipse cx="489.1" cy="63.6" rx="0.9" ry="0.4" fill="#8e2c10"/>
<ellipse cx="409.8" cy="101.0" rx="1.0" ry="0.4" fill="#8e2c10"/>
<ellipse cx="429.4" cy="46.3" rx="0.6" ry="0.3" fill="#5a1606"/>
<ellipse cx="473.6" cy="111.9" rx="1.1" ry="0.5" fill="#5a1606"/>
<ellipse cx="487.3" cy="44.1" rx="1.3" ry="0.5" fill="#5a1606"/>
<ellipse cx="452.9" cy="109.2" rx="1.0" ry="0.4" fill="#4a1004"/>
<ellipse cx="423.3" cy="29.7" rx="1.4" ry="0.6" fill="#862a0c"/>
<ellipse cx="458.6" cy="41.8" rx="0.8" ry="0.4" fill="#5a1606"/>
<ellipse cx="520.1" cy="92.0" rx="1.1" ry="0.5" fill="#8e2c10"/>
<ellipse cx="497.3" cy="118.2" rx="0.8" ry="0.4" fill="#b04416"/>
<ellipse cx="489.9" cy="59.2" rx="0.9" ry="0.4" fill="#8e2c10"/>
<ellipse cx="417.3" cy="52.7" rx="0.8" ry="0.4" fill="#862a0c"/>
<ellipse cx="450.9" cy="62.5" rx="0.7" ry="0.3" fill="#862a0c"/>
<ellipse cx="461.1" cy="70.9" rx="1.3" ry="0.6" fill="#4a1004"/>
<ellipse cx="462.2" cy="95.2" rx="0.8" ry="0.4" fill="#862a0c"/>
<ellipse cx="412.8" cy="86.4" rx="1.2" ry="0.5" fill="#862a0c"/>
<ellipse cx="450.2" cy="32.6" rx="1.3" ry="0.6" fill="#862a0c"/>
<ellipse cx="385.5" cy="88.3" rx="0.7" ry="0.3" fill="#862a0c"/>
<ellipse cx="495.7" cy="115.3" rx="1.2" ry="0.5" fill="#a03816"/>
<ellipse cx="472.8" cy="45.7" rx="1.0" ry="0.5" fill="#862a0c"/>
<ellipse cx="434.8" cy="47.2" rx="0.7" ry="0.3" fill="#4a1004"/>
<ellipse cx="465.1" cy="65.3" rx="1.1" ry="0.5" fill="#8e2c10"/>
<ellipse cx="457.8" cy="38.6" rx="0.8" ry="0.4" fill="#8e2c10"/>
<ellipse cx="405.2" cy="63.3" rx="0.8" ry="0.4" fill="#8e2c10"/>
<ellipse cx="414.8" cy="71.0" rx="1.1" ry="0.5" fill="#4a1004"/>
<ellipse cx="392.2" cy="82.8" rx="1.0" ry="0.4" fill="#a03816"/>
<ellipse cx="487.2" cy="70.7" rx="1.1" ry="0.5" fill="#4a1004"/>
<ellipse cx="492.9" cy="51.9" rx="1.0" ry="0.4" fill="#a03816"/>
<ellipse cx="507.6" cy="54.2" rx="0.7" ry="0.3" fill="#661a08"/>
<ellipse cx="386.2" cy="86.8" rx="0.9" ry="0.4" fill="#4a1004"/>
<ellipse cx="490.5" cy="128.0" rx="1.1" ry="0.5" fill="#661a08"/>
<ellipse cx="432.4" cy="26.8" rx="1.2" ry="0.5" fill="#4a1004"/>
<ellipse cx="515.2" cy="61.6" rx="0.9" ry="0.4" fill="#661a08"/>
<ellipse cx="431.6" cy="104.1" rx="1.3" ry="0.6" fill="#b04416"/>
<ellipse cx="405.9" cy="55.6" rx="0.7" ry="0.3" fill="#661a08"/>
<ellipse cx="450.1" cy="65.8" rx="1.1" ry="0.5" fill="#8e2c10"/>
<ellipse cx="390.8" cy="84.3" rx="0.8" ry="0.4" fill="#5a1606"/>
<ellipse cx="477.9" cy="94.5" rx="1.2" ry="0.5" fill="#862a0c"/>
<ellipse cx="451.8" cy="77.3" rx="1.1" ry="0.5" fill="#862a0c"/>
<ellipse cx="459.9" cy="119.9" rx="1.1" ry="0.5" fill="#5a1606"/>
<ellipse cx="431.1" cy="24.4" rx="0.7" ry="0.3" fill="#b04416"/>
<ellipse cx="495.5" cy="53.2" rx="0.8" ry="0.4" fill="#8e2c10"/>
<ellipse cx="423.5" cy="94.9" rx="1.1" ry="0.5" fill="#862a0c"/>
<ellipse cx="444.7" cy="34.4" rx="1.2" ry="0.5" fill="#5a1606"/>
<ellipse cx="443.7" cy="94.1" rx="1.0" ry="0.4" fill="#a03816"/>
<ellipse cx="420.9" cy="67.8" rx="1.3" ry="0.6" fill="#4a1004"/>
<ellipse cx="494.8" cy="101.6" rx="1.1" ry="0.5" fill="#a03816"/>
<ellipse cx="405.2" cy="88.4" rx="0.9" ry="0.4" fill="#b04416"/>
<ellipse cx="382.2" cy="85.5" rx="1.4" ry="0.6" fill="#b04416"/>
<ellipse cx="418.7" cy="65.2" rx="0.9" ry="0.4" fill="#4a1004"/>
<ellipse cx="489.1" cy="99.5" rx="1.1" ry="0.5" fill="#661a08"/>
<ellipse cx="457.2" cy="45.4" rx="1.4" ry="0.6" fill="#5a1606"/>
<ellipse cx="457.2" cy="46.4" rx="0.9" ry="0.4" fill="#862a0c"/>
<ellipse cx="419.1" cy="42.0" rx="1.1" ry="0.5" fill="#a03816"/>
<ellipse cx="479.1" cy="79.0" rx="1.2" ry="0.5" fill="#5a1606"/>
<ellipse cx="426.5" cy="106.9" rx="1.3" ry="0.6" fill="#4a1004"/>
<ellipse cx="506.9" cy="69.0" rx="1.4" ry="0.6" fill="#8e2c10"/>
<ellipse cx="460.0" cy="65.5" rx="1.2" ry="0.5" fill="#b04416"/>
<ellipse cx="419.8" cy="99.4" rx="0.8" ry="0.3" fill="#b04416"/>
<ellipse cx="437.5" cy="97.4" rx="0.6" ry="0.3" fill="#5a1606"/>
<ellipse cx="436.1" cy="109.7" rx="0.8" ry="0.4" fill="#b04416"/>
<ellipse cx="452.6" cy="56.4" rx="1.1" ry="0.5" fill="#862a0c"/>
<ellipse cx="495.0" cy="122.2" rx="1.3" ry="0.6" fill="#661a08"/>
<ellipse cx="480.7" cy="123.0" rx="1.4" ry="0.6" fill="#661a08"/>
<ellipse cx="443.2" cy="75.0" rx="0.8" ry="0.3" fill="#8e2c10"/>
<ellipse cx="448.7" cy="66.5" rx="1.3" ry="0.6" fill="#b04416"/>
<ellipse cx="485.6" cy="101.7" rx="0.9" ry="0.4" fill="#4a1004"/>
<ellipse cx="434.5" cy="33.9" rx="1.3" ry="0.6" fill="#661a08"/>
<ellipse cx="401.7" cy="77.2" rx="1.0" ry="0.4" fill="#8e2c10"/>
<ellipse cx="514.4" cy="95.6" rx="1.3" ry="0.6" fill="#a03816"/>
<ellipse cx="444.4" cy="51.2" rx="0.7" ry="0.3" fill="#862a0c"/>
<ellipse cx="408.4" cy="62.0" rx="1.1" ry="0.5" fill="#b04416"/>
<ellipse cx="457.3" cy="38.2" rx="0.8" ry="0.4" fill="#b04416"/>
<ellipse cx="426.8" cy="36.9" rx="0.8" ry="0.3" fill="#a03816"/>
<ellipse cx="503.3" cy="56.8" rx="1.0" ry="0.4" fill="#862a0c"/>
<ellipse cx="504.7" cy="93.4" rx="1.2" ry="0.5" fill="#5a1606"/>
<ellipse cx="508.3" cy="97.2" rx="1.4" ry="0.6" fill="#8e2c10"/>
<ellipse cx="484.2" cy="92.4" rx="1.1" ry="0.5" fill="#b04416"/>
<ellipse cx="492.3" cy="77.5" rx="1.1" ry="0.5" fill="#b04416"/>
<ellipse cx="490.5" cy="111.5" rx="1.2" ry="0.5" fill="#b04416"/>
<ellipse cx="506.4" cy="85.8" rx="0.9" ry="0.4" fill="#4a1004"/>
<ellipse cx="512.6" cy="96.0" rx="1.1" ry="0.5" fill="#4a1004"/>
<ellipse cx="426.7" cy="98.8" rx="0.6" ry="0.3" fill="#5a1606"/>
<ellipse cx="432.4" cy="23.8" rx="1.1" ry="0.5" fill="#5a1606"/>
<ellipse cx="491.5" cy="45.4" rx="0.7" ry="0.3" fill="#8e2c10"/>
<ellipse cx="455.4" cy="114.8" rx="1.1" ry="0.5" fill="#5a1606"/>
<ellipse cx="523.0" cy="75.1" rx="1.0" ry="0.4" fill="#4a1004"/>
<ellipse cx="434.4" cy="100.8" rx="1.0" ry="0.4" fill="#b04416"/>
<ellipse cx="531.5" cy="67.6" rx="1.1" ry="0.5" fill="#8e2c10"/>
<ellipse cx="430.7" cy="54.9" rx="1.4" ry="0.6" fill="#4a1004"/>
<ellipse cx="508.6" cy="53.3" rx="0.7" ry="0.3" fill="#4a1004"/>
<ellipse cx="438.7" cy="51.8" rx="0.9" ry="0.4" fill="#a03816"/>
<ellipse cx="429.9" cy="65.3" rx="1.0" ry="0.5" fill="#862a0c"/>
<ellipse cx="416.9" cy="59.0" rx="0.8" ry="0.4" fill="#4a1004"/>
<ellipse cx="502.9" cy="60.0" rx="0.7" ry="0.3" fill="#661a08"/>
<ellipse cx="450.6" cy="70.8" rx="0.8" ry="0.3" fill="#4a1004"/>
<ellipse cx="501.4" cy="90.7" rx="0.8" ry="0.4" fill="#4a1004"/>
<ellipse cx="504.5" cy="84.8" rx="1.3" ry="0.6" fill="#4a1004"/>
<ellipse cx="512.5" cy="86.6" rx="0.9" ry="0.4" fill="#4a1004"/>
<ellipse cx="427.4" cy="80.9" rx="1.4" ry="0.6" fill="#4a1004"/>
<ellipse cx="472.5" cy="109.9" rx="0.7" ry="0.3" fill="#4a1004"/>
<ellipse cx="393.9" cy="88.0" rx="1.0" ry="0.4" fill="#5a1606"/>
<ellipse cx="491.5" cy="96.9" rx="1.3" ry="0.6" fill="#4a1004"/>
<ellipse cx="432.3" cy="54.6" rx="1.3" ry="0.6" fill="#8e2c10"/>
<ellipse cx="435.5" cy="50.9" rx="1.4" ry="0.6" fill="#a03816"/>
<ellipse cx="415.8" cy="59.0" rx="1.2" ry="0.5" fill="#862a0c"/>
<ellipse cx="533.6" cy="76.3" rx="1.3" ry="0.6" fill="#5a1606"/>
<ellipse cx="388.1" cy="90.3" rx="1.1" ry="0.5" fill="#862a0c"/>
<ellipse cx="503.1" cy="96.1" rx="0.8" ry="0.3" fill="#8e2c10"/>
<ellipse cx="444.8" cy="40.4" rx="1.4" ry="0.6" fill="#661a08"/>
<ellipse cx="388.2" cy="88.1" rx="1.4" ry="0.6" fill="#5a1606"/>
<ellipse cx="388.2" cy="85.0" rx="1.0" ry="0.4" fill="#5a1606"/>
<ellipse cx="456.4" cy="82.1" rx="1.1" ry="0.5" fill="#8e2c10"/>
<ellipse cx="447.5" cy="113.9" rx="0.8" ry="0.4" fill="#5a1606"/>
<ellipse cx="467.1" cy="58.4" rx="1.0" ry="0.4" fill="#4a1004"/>
<ellipse cx="447.3" cy="108.9" rx="1.3" ry="0.6" fill="#a03816"/>
<ellipse cx="520.0" cy="73.8" rx="1.2" ry="0.5" fill="#b04416"/>
<ellipse cx="529.6" cy="65.1" rx="1.1" ry="0.5" fill="#4a1004"/>
<ellipse cx="486.6" cy="44.1" rx="1.3" ry="0.6" fill="#a03816"/>
<ellipse cx="412.0" cy="92.8" rx="1.2" ry="0.5" fill="#4a1004"/>
<ellipse cx="488.6" cy="97.2" rx="1.4" ry="0.6" fill="#862a0c"/>
<ellipse cx="495.8" cy="67.2" rx="1.3" ry="0.5" fill="#5a1606"/>
<ellipse cx="407.8" cy="84.8" rx="1.3" ry="0.6" fill="#a03816"/>
<ellipse cx="427.3" cy="108.5" rx="0.9" ry="0.4" fill="#661a08"/>
<ellipse cx="478.2" cy="125.4" rx="0.9" ry="0.4" fill="#661a08"/>
<ellipse cx="419.9" cy="86.9" rx="1.0" ry="0.4" fill="#4a1004"/>
<ellipse cx="456.1" cy="85.7" rx="1.4" ry="0.6" fill="#661a08"/>
<ellipse cx="404.8" cy="89.5" rx="1.0" ry="0.4" fill="#862a0c"/>
<ellipse cx="411.6" cy="47.5" rx="1.2" ry="0.5" fill="#a03816"/>
<ellipse cx="452.6" cy="73.8" rx="1.2" ry="0.5" fill="#661a08"/>
<ellipse cx="421.8" cy="98.3" rx="0.8" ry="0.4" fill="#a03816"/>
<ellipse cx="464.7" cy="78.4" rx="1.4" ry="0.6" fill="#862a0c"/>
<ellipse cx="474.7" cy="119.5" rx="1.0" ry="0.4" fill="#661a08"/>
<ellipse cx="416.6" cy="51.1" rx="1.2" ry="0.5" fill="#8e2c10"/>
<ellipse cx="470.9" cy="41.9" rx="0.9" ry="0.4" fill="#4a1004"/>
<ellipse cx="501.0" cy="89.8" rx="1.1" ry="0.5" fill="#5a1606"/>
<ellipse cx="504.1" cy="102.1" rx="1.1" ry="0.5" fill="#862a0c"/>
<ellipse cx="439.3" cy="66.2" rx="1.0" ry="0.4" fill="#a03816"/>
<ellipse cx="453.1" cy="94.1" rx="1.2" ry="0.5" fill="#a03816"/>
<ellipse cx="421.0" cy="37.1" rx="1.1" ry="0.5" fill="#661a08"/>
<ellipse cx="434.6" cy="44.1" rx="1.0" ry="0.4" fill="#a03816"/>
<ellipse cx="460.9" cy="118.4" rx="1.4" ry="0.6" fill="#a03816"/>
<ellipse cx="433.9" cy="30.2" rx="1.0" ry="0.4" fill="#5a1606"/>
<ellipse cx="445.2" cy="48.2" rx="0.7" ry="0.3" fill="#8e2c10"/>
<ellipse cx="520.5" cy="81.1" rx="1.0" ry="0.4" fill="#b04416"/>
<ellipse cx="441.8" cy="51.3" rx="0.7" ry="0.3" fill="#5a1606"/>
<ellipse cx="436.8" cy="94.8" rx="0.7" ry="0.3" fill="#862a0c"/>
<ellipse cx="412.1" cy="70.4" rx="0.8" ry="0.3" fill="#5a1606"/>
<ellipse cx="440.1" cy="90.8" rx="1.1" ry="0.5" fill="#5a1606"/>
<ellipse cx="457.3" cy="54.1" rx="1.3" ry="0.6" fill="#4a1004"/>
<ellipse cx="522.8" cy="81.0" rx="0.8" ry="0.4" fill="#8e2c10"/>
<ellipse cx="448.1" cy="89.8" rx="1.0" ry="0.5" fill="#b04416"/>
<ellipse cx="429.8" cy="85.8" rx="1.2" ry="0.5" fill="#862a0c"/>
<ellipse cx="463.3" cy="106.7" rx="0.9" ry="0.4" fill="#4a1004"/>
<ellipse cx="409.5" cy="79.7" rx="1.4" ry="0.6" fill="#4a1004"/>
<ellipse cx="474.9" cy="125.0" rx="0.7" ry="0.3" fill="#a03816"/>
<ellipse cx="404.7" cy="97.9" rx="0.7" ry="0.3" fill="#4a1004"/>
<ellipse cx="439.0" cy="107.6" rx="0.7" ry="0.3" fill="#661a08"/>
<ellipse cx="405.4" cy="79.4" rx="1.4" ry="0.6" fill="#5a1606"/>
<ellipse cx="439.7" cy="95.3" rx="0.9" ry="0.4" fill="#661a08"/>
<ellipse cx="438.5" cy="35.2" rx="1.3" ry="0.6" fill="#5a1606"/>
<ellipse cx="500.4" cy="82.1" rx="1.3" ry="0.5" fill="#4a1004"/>
<ellipse cx="466.5" cy="57.4" rx="1.0" ry="0.4" fill="#4a1004"/>
<ellipse cx="452.7" cy="60.4" rx="1.4" ry="0.6" fill="#a03816"/>
<ellipse cx="449.9" cy="49.8" rx="1.3" ry="0.6" fill="#4a1004"/>
<ellipse cx="443.1" cy="82.3" rx="0.7" ry="0.3" fill="#a03816"/>
<ellipse cx="387.5" cy="85.9" rx="1.1" ry="0.5" fill="#5a1606"/>
<ellipse cx="492.0" cy="93.3" rx="1.3" ry="0.6" fill="#8e2c10"/>
<ellipse cx="394.7" cy="77.0" rx="1.2" ry="0.5" fill="#8e2c10"/>
<ellipse cx="480.3" cy="85.8" rx="1.3" ry="0.5" fill="#a03816"/>
<ellipse cx="413.9" cy="91.1" rx="0.9" ry="0.4" fill="#661a08"/>
<ellipse cx="462.4" cy="41.4" rx="0.9" ry="0.4" fill="#5a1606"/>
<ellipse cx="490.3" cy="51.4" rx="1.4" ry="0.6" fill="#a03816"/>
<ellipse cx="469.0" cy="53.3" rx="0.9" ry="0.4" fill="#a03816"/>
<ellipse cx="454.0" cy="32.5" rx="1.2" ry="0.5" fill="#862a0c"/>
<ellipse cx="422.5" cy="74.7" rx="0.9" ry="0.4" fill="#a03816"/>
<ellipse cx="483.4" cy="78.8" rx="1.3" ry="0.6" fill="#661a08"/>
<ellipse cx="482.7" cy="59.4" rx="1.1" ry="0.5" fill="#b04416"/>
<ellipse cx="450.5" cy="102.7" rx="0.7" ry="0.3" fill="#5a1606"/>
<ellipse cx="489.0" cy="108.6" rx="0.7" ry="0.3" fill="#862a0c"/>
<ellipse cx="389.5" cy="79.9" rx="0.9" ry="0.4" fill="#8e2c10"/>
<ellipse cx="493.0" cy="62.8" rx="0.7" ry="0.3" fill="#862a0c"/>
<ellipse cx="439.4" cy="64.9" rx="0.9" ry="0.4" fill="#a03816"/>
<ellipse cx="508.0" cy="60.2" rx="0.7" ry="0.3" fill="#661a08"/>
<ellipse cx="452.9" cy="110.9" rx="1.3" ry="0.6" fill="#5a1606"/>
<ellipse cx="414.1" cy="84.2" rx="1.3" ry="0.5" fill="#862a0c"/>
<ellipse cx="438.1" cy="72.2" rx="0.9" ry="0.4" fill="#b04416"/>
<ellipse cx="521.1" cy="85.9" rx="1.0" ry="0.5" fill="#862a0c"/>
<ellipse cx="468.5" cy="119.4" rx="1.1" ry="0.5" fill="#8e2c10"/>
<ellipse cx="467.2" cy="50.6" rx="1.2" ry="0.5" fill="#b04416"/>
<ellipse cx="396.0" cy="62.7" rx="0.7" ry="0.3" fill="#5a1606"/>
<ellipse cx="518.1" cy="87.6" rx="1.1" ry="0.5" fill="#661a08"/>
<ellipse cx="381.4" cy="81.0" rx="1.4" ry="0.6" fill="#4a1004"/>
<ellipse cx="410.8" cy="88.1" rx="1.1" ry="0.5" fill="#661a08"/>
<ellipse cx="404.5" cy="81.8" rx="1.0" ry="0.4" fill="#a03816"/>
<ellipse cx="455.3" cy="40.4" rx="1.0" ry="0.4" fill="#661a08"/>
<ellipse cx="423.8" cy="49.4" rx="1.3" ry="0.6" fill="#4a1004"/>
<ellipse cx="519.4" cy="77.9" rx="0.7" ry="0.3" fill="#5a1606"/>
<ellipse cx="478.2" cy="126.6" rx="0.7" ry="0.3" fill="#4a1004"/>
<ellipse cx="447.9" cy="64.4" rx="1.1" ry="0.5" fill="#5a1606"/>
<ellipse cx="453.6" cy="99.7" rx="0.8" ry="0.3" fill="#a03816"/>
<ellipse cx="471.1" cy="44.5" rx="1.4" ry="0.6" fill="#661a08"/>
<ellipse cx="482.1" cy="57.3" rx="1.0" ry="0.4" fill="#a03816"/>
<ellipse cx="451.4" cy="82.6" rx="1.4" ry="0.6" fill="#661a08"/>
<ellipse cx="490.0" cy="47.8" rx="1.0" ry="0.4" fill="#4a1004"/>
<ellipse cx="431.2" cy="91.3" rx="0.7" ry="0.3" fill="#b04416"/>
<ellipse cx="447.3" cy="69.6" rx="1.1" ry="0.5" fill="#a03816"/>
<ellipse cx="465.8" cy="119.7" rx="1.4" ry="0.6" fill="#8e2c10"/>
<ellipse cx="523.8" cy="65.9" rx="1.0" ry="0.4" fill="#4a1004"/>
<ellipse cx="488.6" cy="79.0" rx="0.8" ry="0.3" fill="#4a1004"/>
<ellipse cx="468.9" cy="113.0" rx="1.4" ry="0.6" fill="#b04416"/>
<ellipse cx="468.3" cy="68.1" rx="1.4" ry="0.6" fill="#a03816"/>
<ellipse cx="435.0" cy="107.7" rx="1.1" ry="0.5" fill="#4a1004"/>
<ellipse cx="421.0" cy="32.6" rx="1.3" ry="0.6" fill="#b04416"/>
<ellipse cx="408.5" cy="70.0" rx="1.1" ry="0.5" fill="#862a0c"/>
<ellipse cx="412.3" cy="60.0" rx="1.0" ry="0.4" fill="#661a08"/>
<ellipse cx="488.7" cy="56.3" rx="0.9" ry="0.4" fill="#b04416"/>
<ellipse cx="406.1" cy="83.4" rx="1.2" ry="0.5" fill="#b04416"/>
<ellipse cx="478.7" cy="111.2" rx="1.1" ry="0.5" fill="#862a0c"/>
<ellipse cx="483.5" cy="46.1" rx="1.4" ry="0.6" fill="#a03816"/>
<ellipse cx="413.2" cy="96.9" rx="0.9" ry="0.4" fill="#5a1606"/>
<ellipse cx="452.7" cy="113.6" rx="0.7" ry="0.3" fill="#4a1004"/>
<ellipse cx="408.3" cy="66.1" rx="1.0" ry="0.4" fill="#b04416"/>
<ellipse cx="504.5" cy="81.0" rx="0.6" ry="0.3" fill="#5a1606"/>
<ellipse cx="481.0" cy="87.9" rx="0.9" ry="0.4" fill="#8e2c10"/>
<ellipse cx="426.0" cy="108.0" rx="1.4" ry="0.6" fill="#b04416"/>
<ellipse cx="506.2" cy="59.2" rx="0.8" ry="0.3" fill="#661a08"/>
<ellipse cx="447.0" cy="68.4" rx="0.9" ry="0.4" fill="#a03816"/>
<ellipse cx="490.4" cy="84.3" rx="0.7" ry="0.3" fill="#4a1004"/>
<ellipse cx="438.1" cy="47.6" rx="0.9" ry="0.4" fill="#a03816"/>
<ellipse cx="478.5" cy="64.3" rx="0.9" ry="0.4" fill="#b04416"/>
<ellipse cx="422.8" cy="98.4" rx="1.1" ry="0.5" fill="#4a1004"/>
<ellipse cx="490.5" cy="70.5" rx="0.8" ry="0.3" fill="#5a1606"/>
<ellipse cx="404.5" cy="58.4" rx="1.2" ry="0.5" fill="#8e2c10"/>
<ellipse cx="408.4" cy="87.6" rx="0.7" ry="0.3" fill="#5a1606"/>
<ellipse cx="480.1" cy="99.6" rx="1.3" ry="0.6" fill="#862a0c"/>
<ellipse cx="401.3" cy="80.4" rx="0.8" ry="0.3" fill="#661a08"/>
<ellipse cx="436.2" cy="83.0" rx="1.0" ry="0.4" fill="#8e2c10"/>
<ellipse cx="490.6" cy="79.2" rx="0.9" ry="0.4" fill="#b04416"/>
<ellipse cx="500.3" cy="78.8" rx="1.1" ry="0.5" fill="#8e2c10"/>
<ellipse cx="414.0" cy="87.0" rx="0.9" ry="0.4" fill="#5a1606"/>
<ellipse cx="407.5" cy="67.3" rx="1.0" ry="0.5" fill="#b04416"/>
<ellipse cx="412.8" cy="94.3" rx="1.2" ry="0.5" fill="#a03816"/>
<ellipse cx="511.6" cy="61.2" rx="1.1" ry="0.5" fill="#a03816"/>
<ellipse cx="472.0" cy="80.8" rx="1.1" ry="0.5" fill="#4a1004"/>
<ellipse cx="514.2" cy="97.4" rx="1.2" ry="0.5" fill="#b04416"/>
<ellipse cx="511.4" cy="91.6" rx="0.7" ry="0.3" fill="#661a08"/>
<ellipse cx="401.0" cy="91.3" rx="0.8" ry="0.4" fill="#862a0c"/>
<ellipse cx="439.9" cy="84.3" rx="0.7" ry="0.3" fill="#b04416"/>
<ellipse cx="441.0" cy="73.0" rx="0.7" ry="0.3" fill="#661a08"/>
<ellipse cx="440.8" cy="33.0" rx="1.1" ry="0.5" fill="#862a0c"/>
<ellipse cx="433.3" cy="29.1" rx="0.8" ry="0.3" fill="#661a08"/>
<ellipse cx="532.0" cy="77.1" rx="1.1" ry="0.5" fill="#8e2c10"/>
<ellipse cx="479.1" cy="130.0" rx="1.2" ry="0.5" fill="#a03816"/>
<ellipse cx="433.7" cy="60.1" rx="1.3" ry="0.6" fill="#4a1004"/>
<ellipse cx="487.3" cy="59.9" rx="1.0" ry="0.4" fill="#5a1606"/>
<ellipse cx="450.5" cy="29.4" rx="1.4" ry="0.6" fill="#661a08"/>
<ellipse cx="432.6" cy="43.1" rx="1.3" ry="0.6" fill="#5a1606"/>
<ellipse cx="479.6" cy="72.3" rx="1.3" ry="0.5" fill="#4a1004"/>
<ellipse cx="423.1" cy="65.4" rx="0.8" ry="0.3" fill="#5a1606"/>
<ellipse cx="410.4" cy="65.9" rx="0.9" ry="0.4" fill="#4a1004"/>
<ellipse cx="436.0" cy="61.5" rx="0.9" ry="0.4" fill="#661a08"/>
<ellipse cx="503.2" cy="74.3" rx="1.3" ry="0.6" fill="#5a1606"/>
<ellipse cx="515.9" cy="90.5" rx="1.0" ry="0.4" fill="#5a1606"/>
<ellipse cx="526.7" cy="66.3" rx="1.1" ry="0.5" fill="#5a1606"/>
<ellipse cx="486.1" cy="88.9" rx="1.4" ry="0.6" fill="#b04416"/>
<ellipse cx="515.0" cy="81.9" rx="1.3" ry="0.6" fill="#8e2c10"/>
<ellipse cx="489.2" cy="52.1" rx="1.1" ry="0.5" fill="#862a0c"/>
<ellipse cx="456.4" cy="83.0" rx="0.7" ry="0.3" fill="#8e2c10"/>
<ellipse cx="442.4" cy="59.7" rx="1.0" ry="0.4" fill="#5a1606"/>
<ellipse cx="484.0" cy="63.9" rx="0.9" ry="0.4" fill="#862a0c"/>
<ellipse cx="486.4" cy="111.0" rx="1.3" ry="0.6" fill="#4a1004"/>
<ellipse cx="453.1" cy="83.8" rx="0.7" ry="0.3" fill="#661a08"/>
<ellipse cx="437.7" cy="31.3" rx="1.1" ry="0.5" fill="#661a08"/>
<ellipse cx="431.9" cy="89.9" rx="0.7" ry="0.3" fill="#661a08"/>
<ellipse cx="520.5" cy="86.3" rx="1.3" ry="0.6" fill="#5a1606"/>
<ellipse cx="446.7" cy="102.3" rx="1.2" ry="0.5" fill="#5a1606"/>
<ellipse cx="489.1" cy="52.3" rx="0.7" ry="0.3" fill="#b04416"/>
<ellipse cx="438.9" cy="34.2" rx="1.1" ry="0.5" fill="#5a1606"/>
<ellipse cx="388.0" cy="71.6" rx="0.9" ry="0.4" fill="#a03816"/>
<ellipse cx="418.4" cy="66.0" rx="1.0" ry="0.4" fill="#862a0c"/>
<ellipse cx="438.9" cy="81.8" rx="1.1" ry="0.5" fill="#8e2c10"/>
<ellipse cx="434.3" cy="71.0" rx="0.9" ry="0.4" fill="#a03816"/>
<ellipse cx="483.2" cy="47.2" rx="1.4" ry="0.6" fill="#5a1606"/>
<ellipse cx="484.2" cy="113.9" rx="1.3" ry="0.6" fill="#661a08"/>
<ellipse cx="485.9" cy="115.2" rx="1.3" ry="0.6" fill="#a03816"/>
<ellipse cx="475.9" cy="127.6" rx="1.1" ry="0.5" fill="#661a08"/>
<ellipse cx="497.3" cy="119.2" rx="1.1" ry="0.5" fill="#4a1004"/>
<ellipse cx="536.3" cy="64.4" rx="1.2" ry="0.5" fill="#a03816"/>
<ellipse cx="473.3" cy="99.5" rx="1.4" ry="0.6" fill="#b04416"/>
<ellipse cx="471.3" cy="47.4" rx="0.9" ry="0.4" fill="#b04416"/>
<ellipse cx="428.5" cy="102.8" rx="0.8" ry="0.4" fill="#a03816"/>
<ellipse cx="426.9" cy="46.7" rx="0.9" ry="0.4" fill="#661a08"/>
<ellipse cx="438.3" cy="53.7" rx="1.3" ry="0.6" fill="#a03816"/>
<ellipse cx="494.1" cy="88.6" rx="0.7" ry="0.3" fill="#862a0c"/>
<ellipse cx="416.9" cy="78.0" rx="1.4" ry="0.6" fill="#661a08"/>
<ellipse cx="406.9" cy="89.2" rx="1.2" ry="0.5" fill="#5a1606"/>
<ellipse cx="509.5" cy="102.4" rx="1.1" ry="0.5" fill="#862a0c"/>
<ellipse cx="476.3" cy="128.5" rx="1.1" ry="0.5" fill="#862a0c"/>
<ellipse cx="448.0" cy="45.0" rx="0.7" ry="0.3" fill="#a03816"/>
<ellipse cx="495.8" cy="119.7" rx="0.8" ry="0.3" fill="#661a08"/>
<ellipse cx="446.2" cy="100.1" rx="1.4" ry="0.6" fill="#8e2c10"/>
<ellipse cx="496.1" cy="53.9" rx="1.1" ry="0.5" fill="#8e2c10"/>
<ellipse cx="506.9" cy="95.9" rx="0.8" ry="0.3" fill="#862a0c"/>
<ellipse cx="513.1" cy="61.2" rx="0.9" ry="0.4" fill="#5a1606"/>
<ellipse cx="491.4" cy="88.2" rx="1.0" ry="0.5" fill="#b04416"/>
<ellipse cx="501.3" cy="49.9" rx="1.2" ry="0.5" fill="#862a0c"/>
<ellipse cx="438.0" cy="43.1" rx="0.8" ry="0.3" fill="#862a0c"/>
<ellipse cx="461.0" cy="62.4" rx="1.1" ry="0.5" fill="#a03816"/>
<ellipse cx="507.4" cy="69.7" rx="0.8" ry="0.4" fill="#5a1606"/>
<ellipse cx="483.7" cy="54.7" rx="1.1" ry="0.5" fill="#a03816"/>
<ellipse cx="412.0" cy="49.3" rx="1.2" ry="0.5" fill="#862a0c"/>
<ellipse cx="474.5" cy="48.5" rx="0.9" ry="0.4" fill="#862a0c"/>
<ellipse cx="404.3" cy="55.3" rx="1.0" ry="0.4" fill="#5a1606"/>
<ellipse cx="504.0" cy="62.4" rx="0.7" ry="0.3" fill="#8e2c10"/>
<ellipse cx="508.3" cy="90.2" rx="1.1" ry="0.5" fill="#b04416"/>
<ellipse cx="490.6" cy="78.3" rx="0.7" ry="0.3" fill="#5a1606"/>
<ellipse cx="396.7" cy="68.7" rx="1.1" ry="0.5" fill="#862a0c"/>
<ellipse cx="505.3" cy="71.2" rx="1.0" ry="0.5" fill="#661a08"/>
<ellipse cx="475.9" cy="113.4" rx="0.8" ry="0.4" fill="#4a1004"/>
<ellipse cx="467.4" cy="65.7" rx="1.1" ry="0.5" fill="#5a1606"/>
<ellipse cx="404.3" cy="63.0" rx="0.9" ry="0.4" fill="#4a1004"/>
<ellipse cx="507.6" cy="54.7" rx="0.7" ry="0.3" fill="#b04416"/>
<ellipse cx="515.7" cy="55.3" rx="0.8" ry="0.3" fill="#5a1606"/>
<ellipse cx="488.8" cy="44.7" rx="0.6" ry="0.3" fill="#5a1606"/>
<ellipse cx="482.0" cy="118.6" rx="1.0" ry="0.4" fill="#a03816"/>
<ellipse cx="480.3" cy="45.9" rx="1.4" ry="0.6" fill="#661a08"/>
<ellipse cx="529.4" cy="81.0" rx="1.2" ry="0.5" fill="#4a1004"/>
<ellipse cx="414.0" cy="93.3" rx="1.3" ry="0.6" fill="#5a1606"/>
<ellipse cx="479.0" cy="45.6" rx="0.9" ry="0.4" fill="#a03816"/>
<ellipse cx="532.9" cy="67.9" rx="0.8" ry="0.4" fill="#4a1004"/>
<ellipse cx="456.3" cy="62.2" rx="0.7" ry="0.3" fill="#a03816"/>
<ellipse cx="489.7" cy="51.7" rx="1.3" ry="0.6" fill="#4a1004"/>
<ellipse cx="448.3" cy="82.3" rx="1.3" ry="0.6" fill="#5a1606"/>
<ellipse cx="419.3" cy="101.8" rx="1.0" ry="0.4" fill="#4a1004"/>
<ellipse cx="425.9" cy="59.1" rx="0.8" ry="0.3" fill="#4a1004"/>
<ellipse cx="452.8" cy="65.8" rx="1.2" ry="0.5" fill="#5a1606"/>
<ellipse cx="480.8" cy="40.8" rx="1.2" ry="0.5" fill="#b04416"/>
<ellipse cx="459.5" cy="73.4" rx="1.0" ry="0.4" fill="#8e2c10"/>
<ellipse cx="472.3" cy="94.6" rx="0.9" ry="0.4" fill="#8e2c10"/>
<ellipse cx="474.5" cy="61.1" rx="1.0" ry="0.5" fill="#862a0c"/>
<ellipse cx="518.5" cy="81.0" rx="0.9" ry="0.4" fill="#a03816"/>
<ellipse cx="421.9" cy="41.4" rx="1.3" ry="0.6" fill="#4a1004"/>
<ellipse cx="501.2" cy="73.4" rx="1.4" ry="0.6" fill="#8e2c10"/>
<ellipse cx="533.9" cy="75.9" rx="1.0" ry="0.4" fill="#b04416"/>
<ellipse cx="491.6" cy="105.7" rx="1.3" ry="0.5" fill="#862a0c"/>
<ellipse cx="466.4" cy="97.7" rx="1.1" ry="0.5" fill="#5a1606"/>
<ellipse cx="387.2" cy="79.7" rx="1.1" ry="0.5" fill="#8e2c10"/>
<ellipse cx="420.8" cy="69.6" rx="1.0" ry="0.4" fill="#661a08"/>
<ellipse cx="429.6" cy="46.4" rx="0.8" ry="0.4" fill="#661a08"/>
<ellipse cx="446.2" cy="82.9" rx="1.3" ry="0.6" fill="#b04416"/>
<ellipse cx="446.1" cy="52.4" rx="1.0" ry="0.4" fill="#5a1606"/>
<ellipse cx="452.3" cy="87.2" rx="0.7" ry="0.3" fill="#a03816"/>
<ellipse cx="425.0" cy="89.0" rx="0.7" ry="0.3" fill="#8e2c10"/>
<ellipse cx="485.4" cy="88.9" rx="0.6" ry="0.3" fill="#b04416"/>
<ellipse cx="500.6" cy="111.8" rx="1.2" ry="0.5" fill="#b04416"/>
<ellipse cx="437.6" cy="51.1" rx="1.2" ry="0.5" fill="#b04416"/>
<ellipse cx="484.9" cy="111.3" rx="1.1" ry="0.5" fill="#8e2c10"/>
<ellipse cx="470.6" cy="116.0" rx="1.0" ry="0.5" fill="#5a1606"/>
<ellipse cx="435.8" cy="83.1" rx="1.0" ry="0.5" fill="#a03816"/>
<ellipse cx="451.6" cy="35.4" rx="0.8" ry="0.4" fill="#b04416"/>
<ellipse cx="430.6" cy="50.6" rx="0.8" ry="0.4" fill="#8e2c10"/>
<ellipse cx="509.1" cy="59.8" rx="1.3" ry="0.6" fill="#5a1606"/>
<ellipse cx="479.4" cy="66.7" rx="1.1" ry="0.5" fill="#661a08"/>
<ellipse cx="528.1" cy="67.8" rx="0.7" ry="0.3" fill="#8e2c10"/>
<ellipse cx="492.0" cy="110.7" rx="0.9" ry="0.4" fill="#b04416"/>
<ellipse cx="466.5" cy="82.6" rx="0.9" ry="0.4" fill="#a03816"/>
<ellipse cx="384.1" cy="88.9" rx="0.9" ry="0.4" fill="#a03816"/>
<ellipse cx="452.5" cy="95.8" rx="1.2" ry="0.5" fill="#4a1004"/>
<ellipse cx="468.0" cy="90.9" rx="0.9" ry="0.4" fill="#a03816"/>
<ellipse cx="417.8" cy="41.6" rx="0.8" ry="0.4" fill="#8e2c10"/>
<ellipse cx="479.8" cy="74.2" rx="1.0" ry="0.4" fill="#5a1606"/>
<ellipse cx="385.0" cy="86.3" rx="1.0" ry="0.4" fill="#5a1606"/>
<ellipse cx="468.7" cy="43.6" rx="0.7" ry="0.3" fill="#4a1004"/>
<ellipse cx="466.3" cy="100.3" rx="1.0" ry="0.5" fill="#5a1606"/>
<ellipse cx="492.3" cy="121.9" rx="0.8" ry="0.3" fill="#4a1004"/>
<ellipse cx="415.5" cy="84.8" rx="1.1" ry="0.5" fill="#862a0c"/>
<ellipse cx="484.2" cy="132.0" rx="1.1" ry="0.5" fill="#b04416"/>
<ellipse cx="478.3" cy="80.1" rx="1.1" ry="0.5" fill="#862a0c"/>
<ellipse cx="512.7" cy="80.9" rx="1.3" ry="0.6" fill="#a03816"/>
<ellipse cx="463.5" cy="43.6" rx="0.9" ry="0.4" fill="#661a08"/>
<ellipse cx="419.9" cy="70.6" rx="0.8" ry="0.3" fill="#4a1004"/>
<ellipse cx="475.7" cy="114.4" rx="1.1" ry="0.5" fill="#5a1606"/>
<ellipse cx="481.1" cy="104.4" rx="1.0" ry="0.4" fill="#a03816"/>
<ellipse cx="488.5" cy="85.5" rx="0.8" ry="0.4" fill="#4a1004"/>
<ellipse cx="454.9" cy="56.5" rx="1.4" ry="0.6" fill="#661a08"/>
<ellipse cx="391.8" cy="89.4" rx="0.7" ry="0.3" fill="#8e2c10"/>
<ellipse cx="491.1" cy="106.9" rx="1.3" ry="0.6" fill="#862a0c"/>
<ellipse cx="488.1" cy="90.2" rx="0.8" ry="0.3" fill="#b04416"/>
<ellipse cx="447.8" cy="74.0" rx="0.9" ry="0.4" fill="#5a1606"/>
<ellipse cx="476.4" cy="56.9" rx="1.0" ry="0.4" fill="#661a08"/>
<ellipse cx="466.2" cy="91.7" rx="1.2" ry="0.5" fill="#4a1004"/>
<ellipse cx="454.8" cy="51.7" rx="1.3" ry="0.6" fill="#b04416"/>
<ellipse cx="444.6" cy="27.4" rx="1.2" ry="0.5" fill="#4a1004"/>
<ellipse cx="491.3" cy="59.7" rx="1.3" ry="0.6" fill="#4a1004"/>
<ellipse cx="432.0" cy="55.1" rx="0.9" ry="0.4" fill="#661a08"/>
<ellipse cx="395.5" cy="95.4" rx="1.1" ry="0.5" fill="#b04416"/>
<ellipse cx="490.6" cy="122.7" rx="1.2" ry="0.5" fill="#5a1606"/>
<ellipse cx="440.2" cy="54.3" rx="0.9" ry="0.4" fill="#661a08"/>
<ellipse cx="487.8" cy="129.4" rx="1.2" ry="0.5" fill="#8e2c10"/>
<ellipse cx="482.8" cy="114.2" rx="0.9" ry="0.4" fill="#862a0c"/>
<ellipse cx="492.4" cy="124.7" rx="0.9" ry="0.4" fill="#8e2c10"/>
<ellipse cx="516.3" cy="67.4" rx="0.8" ry="0.3" fill="#8e2c10"/>
<ellipse cx="454.4" cy="47.8" rx="1.3" ry="0.6" fill="#a03816"/>
<ellipse cx="440.3" cy="49.3" rx="1.0" ry="0.4" fill="#4a1004"/>
<ellipse cx="506.4" cy="105.8" rx="1.2" ry="0.5" fill="#862a0c"/>
<ellipse cx="455.1" cy="42.1" rx="1.0" ry="0.4" fill="#b04416"/>
<ellipse cx="439.2" cy="29.8" rx="0.8" ry="0.4" fill="#5a1606"/>
<ellipse cx="431.2" cy="97.3" rx="1.3" ry="0.6" fill="#a03816"/>
<ellipse cx="445.7" cy="103.8" rx="1.1" ry="0.5" fill="#a03816"/>
<ellipse cx="414.8" cy="97.1" rx="0.8" ry="0.4" fill="#862a0c"/>
<ellipse cx="406.1" cy="96.3" rx="0.7" ry="0.3" fill="#b04416"/>
<ellipse cx="413.2" cy="96.7" rx="0.8" ry="0.3" fill="#5a1606"/>
<ellipse cx="434.7" cy="41.0" rx="1.4" ry="0.6" fill="#5a1606"/>
<ellipse cx="452.0" cy="81.8" rx="1.3" ry="0.6" fill="#5a1606"/>
<ellipse cx="448.8" cy="98.6" rx="1.1" ry="0.5" fill="#b04416"/>
<ellipse cx="459.8" cy="97.3" rx="1.4" ry="0.6" fill="#b04416"/>
<ellipse cx="447.9" cy="44.8" rx="1.1" ry="0.5" fill="#661a08"/>
<ellipse cx="428.1" cy="32.2" rx="1.4" ry="0.6" fill="#862a0c"/>
<ellipse cx="391.6" cy="88.3" rx="0.9" ry="0.4" fill="#b04416"/>
<ellipse cx="440.0" cy="108.8" rx="1.0" ry="0.4" fill="#4a1004"/>
<ellipse cx="401.9" cy="66.3" rx="1.3" ry="0.5" fill="#a03816"/>
<ellipse cx="510.1" cy="70.7" rx="1.2" ry="0.5" fill="#5a1606"/>
<ellipse cx="438.9" cy="65.9" rx="1.2" ry="0.5" fill="#b04416"/>
<ellipse cx="490.5" cy="125.7" rx="1.4" ry="0.6" fill="#5a1606"/>
<ellipse cx="491.6" cy="98.1" rx="1.4" ry="0.6" fill="#862a0c"/>
<ellipse cx="409.5" cy="50.1" rx="0.8" ry="0.4" fill="#5a1606"/>
<ellipse cx="484.2" cy="86.3" rx="0.9" ry="0.4" fill="#a03816"/>
<ellipse cx="470.0" cy="85.8" rx="0.9" ry="0.4" fill="#8e2c10"/>
<ellipse cx="494.0" cy="107.0" rx="0.7" ry="0.3" fill="#a03816"/>
<ellipse cx="408.3" cy="85.5" rx="0.7" ry="0.3" fill="#4a1004"/>
<ellipse cx="474.1" cy="66.5" rx="0.8" ry="0.3" fill="#8e2c10"/>
<ellipse cx="412.7" cy="69.8" rx="0.8" ry="0.3" fill="#8e2c10"/>
<ellipse cx="403.7" cy="54.5" rx="1.0" ry="0.4" fill="#a03816"/>
<ellipse cx="528.6" cy="73.7" rx="1.2" ry="0.5" fill="#8e2c10"/>
<ellipse cx="491.2" cy="105.9" rx="1.2" ry="0.5" fill="#8e2c10"/>
<ellipse cx="457.3" cy="92.3" rx="1.0" ry="0.4" fill="#4a1004"/>
<ellipse cx="474.6" cy="57.6" rx="1.4" ry="0.6" fill="#b04416"/>
<ellipse cx="443.3" cy="54.5" rx="1.4" ry="0.6" fill="#a03816"/>
<ellipse cx="517.3" cy="74.9" rx="1.1" ry="0.5" fill="#8e2c10"/>
<ellipse cx="426.8" cy="51.8" rx="0.9" ry="0.4" fill="#661a08"/>
<ellipse cx="415.3" cy="48.9" rx="0.9" ry="0.4" fill="#5a1606"/>
<ellipse cx="506.0" cy="83.9" rx="1.0" ry="0.5" fill="#862a0c"/>
<ellipse cx="484.8" cy="121.5" rx="1.2" ry="0.5" fill="#661a08"/>
<ellipse cx="462.8" cy="63.4" rx="1.0" ry="0.4" fill="#5a1606"/>
<ellipse cx="451.7" cy="85.2" rx="1.1" ry="0.5" fill="#8e2c10"/>
<ellipse cx="433.7" cy="109.1" rx="1.1" ry="0.5" fill="#5a1606"/>
<ellipse cx="408.5" cy="97.7" rx="0.7" ry="0.3" fill="#a03816"/>
<ellipse cx="417.8" cy="63.2" rx="1.4" ry="0.6" fill="#661a08"/>
<ellipse cx="454.7" cy="103.4" rx="1.0" ry="0.4" fill="#862a0c"/>
<ellipse cx="468.6" cy="47.4" rx="0.7" ry="0.3" fill="#5a1606"/>
<ellipse cx="397.1" cy="80.4" rx="1.4" ry="0.6" fill="#b04416"/>
<ellipse cx="526.6" cy="73.9" rx="1.3" ry="0.6" fill="#862a0c"/>
<ellipse cx="417.2" cy="81.7" rx="0.8" ry="0.3" fill="#8e2c10"/>
<ellipse cx="468.2" cy="103.1" rx="1.3" ry="0.6" fill="#5a1606"/>
<ellipse cx="398.1" cy="96.4" rx="1.0" ry="0.4" fill="#5a1606"/>
<ellipse cx="442.1" cy="57.1" rx="0.7" ry="0.3" fill="#862a0c"/>
<ellipse cx="466.6" cy="56.6" rx="1.3" ry="0.6" fill="#8e2c10"/>
<ellipse cx="512.6" cy="66.0" rx="1.3" ry="0.5" fill="#862a0c"/>
<ellipse cx="487.0" cy="127.5" rx="1.4" ry="0.6" fill="#b04416"/>
<ellipse cx="420.8" cy="97.7" rx="0.7" ry="0.3" fill="#a03816"/>
<ellipse cx="493.8" cy="116.2" rx="0.9" ry="0.4" fill="#5a1606"/>
<ellipse cx="416.6" cy="69.9" rx="1.3" ry="0.6" fill="#862a0c"/>
<ellipse cx="454.2" cy="75.9" rx="0.7" ry="0.3" fill="#661a08"/>
<ellipse cx="433.1" cy="54.8" rx="1.3" ry="0.6" fill="#661a08"/>
<ellipse cx="514.9" cy="93.7" rx="1.4" ry="0.6" fill="#5a1606"/>
<ellipse cx="395.1" cy="65.8" rx="0.9" ry="0.4" fill="#661a08"/>
<ellipse cx="517.7" cy="85.9" rx="0.8" ry="0.4" fill="#4a1004"/>
<ellipse cx="401.6" cy="87.5" rx="1.2" ry="0.5" fill="#5a1606"/>
<ellipse cx="394.5" cy="71.1" rx="0.8" ry="0.4" fill="#a03816"/>
<ellipse cx="462.9" cy="91.3" rx="0.8" ry="0.3" fill="#8e2c10"/>
<ellipse cx="493.6" cy="69.2" rx="0.9" ry="0.4" fill="#a03816"/>
<ellipse cx="471.9" cy="109.2" rx="0.7" ry="0.3" fill="#a03816"/>
<ellipse cx="468.4" cy="51.6" rx="1.0" ry="0.4" fill="#5a1606"/>
<ellipse cx="396.1" cy="85.7" rx="0.7" ry="0.3" fill="#862a0c"/>
<ellipse cx="466.4" cy="103.8" rx="1.1" ry="0.5" fill="#a03816"/>
<ellipse cx="437.8" cy="34.3" rx="1.4" ry="0.6" fill="#8e2c10"/>
<ellipse cx="475.9" cy="87.7" rx="1.4" ry="0.6" fill="#5a1606"/>
<ellipse cx="419.9" cy="69.0" rx="0.8" ry="0.4" fill="#661a08"/>
<ellipse cx="405.1" cy="62.6" rx="0.9" ry="0.4" fill="#5a1606"/>
<ellipse cx="463.2" cy="99.6" rx="1.2" ry="0.5" fill="#8e2c10"/>
<ellipse cx="463.4" cy="101.7" rx="1.0" ry="0.4" fill="#4a1004"/>
<ellipse cx="490.0" cy="56.0" rx="1.0" ry="0.4" fill="#a03816"/>
<ellipse cx="459.1" cy="47.9" rx="1.3" ry="0.6" fill="#862a0c"/>
<ellipse cx="423.2" cy="48.3" rx="1.0" ry="0.4" fill="#4a1004"/>
<ellipse cx="404.6" cy="67.4" rx="0.9" ry="0.4" fill="#661a08"/>
<ellipse cx="480.0" cy="67.3" rx="1.4" ry="0.6" fill="#b04416"/>
<ellipse cx="482.0" cy="129.3" rx="1.1" ry="0.5" fill="#5a1606"/>
<ellipse cx="391.9" cy="79.8" rx="1.0" ry="0.5" fill="#5a1606"/>
<ellipse cx="483.9" cy="77.2" rx="1.4" ry="0.6" fill="#8e2c10"/>
<ellipse cx="508.0" cy="105.9" rx="1.3" ry="0.6" fill="#661a08"/>
<ellipse cx="441.1" cy="105.0" rx="0.7" ry="0.3" fill="#5a1606"/>
<ellipse cx="492.7" cy="64.0" rx="1.4" ry="0.6" fill="#862a0c"/>
<ellipse cx="497.1" cy="118.5" rx="0.9" ry="0.4" fill="#4a1004"/>
<ellipse cx="437.4" cy="104.8" rx="1.3" ry="0.6" fill="#8e2c10"/>
<ellipse cx="429.7" cy="51.7" rx="1.1" ry="0.5" fill="#661a08"/>
<ellipse cx="513.6" cy="83.8" rx="1.4" ry="0.6" fill="#5a1606"/>
<ellipse cx="468.0" cy="114.9" rx="1.0" ry="0.4" fill="#8e2c10"/>
<ellipse cx="436.5" cy="80.0" rx="1.3" ry="0.6" fill="#8e2c10"/>
<ellipse cx="409.8" cy="65.0" rx="1.1" ry="0.5" fill="#8e2c10"/>
<ellipse cx="466.5" cy="116.7" rx="1.4" ry="0.6" fill="#862a0c"/>
<ellipse cx="420.4" cy="55.3" rx="0.7" ry="0.3" fill="#8e2c10"/>
<ellipse cx="448.8" cy="90.1" rx="0.9" ry="0.4" fill="#4a1004"/>
<ellipse cx="425.3" cy="71.1" rx="0.7" ry="0.3" fill="#4a1004"/>
<ellipse cx="449.8" cy="103.1" rx="0.7" ry="0.3" fill="#4a1004"/>
<ellipse cx="475.5" cy="119.3" rx="1.3" ry="0.6" fill="#4a1004"/>
<ellipse cx="422.3" cy="56.4" rx="0.8" ry="0.3" fill="#862a0c"/>
<ellipse cx="492.0" cy="57.0" rx="1.4" ry="0.6" fill="#5a1606"/>
<ellipse cx="479.4" cy="109.6" rx="1.3" ry="0.6" fill="#8e2c10"/>
<ellipse cx="497.1" cy="72.7" rx="0.8" ry="0.3" fill="#862a0c"/>
<ellipse cx="466.6" cy="88.5" rx="1.0" ry="0.5" fill="#862a0c"/>
<ellipse cx="494.5" cy="59.5" rx="0.7" ry="0.3" fill="#5a1606"/>
<ellipse cx="419.9" cy="87.0" rx="1.1" ry="0.5" fill="#661a08"/>
<ellipse cx="495.9" cy="107.1" rx="1.0" ry="0.5" fill="#661a08"/>
<ellipse cx="517.5" cy="94.7" rx="0.8" ry="0.3" fill="#862a0c"/>
<ellipse cx="483.6" cy="123.3" rx="1.1" ry="0.5" fill="#a03816"/>
<ellipse cx="471.7" cy="103.8" rx="0.9" ry="0.4" fill="#5a1606"/>
<ellipse cx="484.8" cy="97.6" rx="1.2" ry="0.5" fill="#a03816"/>
<ellipse cx="427.5" cy="105.0" rx="1.3" ry="0.6" fill="#8e2c10"/>
<ellipse cx="414.1" cy="69.5" rx="0.9" ry="0.4" fill="#b04416"/>
<ellipse cx="404.7" cy="91.4" rx="0.9" ry="0.4" fill="#a03816"/>
<ellipse cx="468.6" cy="39.8" rx="1.1" ry="0.5" fill="#862a0c"/>
<ellipse cx="429.2" cy="109.4" rx="1.0" ry="0.4" fill="#8e2c10"/>
<ellipse cx="408.6" cy="48.3" rx="1.4" ry="0.6" fill="#a03816"/>
<ellipse cx="521.7" cy="84.2" rx="1.3" ry="0.6" fill="#4a1004"/>
<ellipse cx="476.0" cy="75.5" rx="0.9" ry="0.4" fill="#5a1606"/>
<ellipse cx="430.5" cy="42.1" rx="0.9" ry="0.4" fill="#b04416"/>
<ellipse cx="398.8" cy="75.2" rx="0.9" ry="0.4" fill="#b04416"/>
<ellipse cx="516.9" cy="86.5" rx="0.9" ry="0.4" fill="#8e2c10"/>
<ellipse cx="444.8" cy="54.9" rx="0.7" ry="0.3" fill="#4a1004"/>
<ellipse cx="486.1" cy="103.2" rx="0.9" ry="0.4" fill="#b04416"/>
<ellipse cx="407.8" cy="75.7" rx="0.9" ry="0.4" fill="#b04416"/>
<ellipse cx="451.6" cy="83.4" rx="0.7" ry="0.3" fill="#4a1004"/>
<ellipse cx="514.5" cy="86.4" rx="0.7" ry="0.3" fill="#661a08"/>
<ellipse cx="491.6" cy="82.6" rx="0.6" ry="0.3" fill="#661a08"/>
<ellipse cx="446.9" cy="86.9" rx="1.1" ry="0.5" fill="#b04416"/>
<ellipse cx="427.0" cy="38.6" rx="1.0" ry="0.4" fill="#b04416"/>
<ellipse cx="432.9" cy="43.2" rx="1.2" ry="0.5" fill="#b04416"/>
<ellipse cx="405.5" cy="71.7" rx="1.2" ry="0.5" fill="#8e2c10"/>
<ellipse cx="522.3" cy="60.6" rx="0.9" ry="0.4" fill="#b04416"/>
<ellipse cx="442.0" cy="105.1" rx="0.7" ry="0.3" fill="#a03816"/>
<ellipse cx="488.8" cy="74.9" rx="0.7" ry="0.3" fill="#b04416"/>
<ellipse cx="421.4" cy="69.5" rx="1.1" ry="0.5" fill="#b04416"/>
<ellipse cx="489.2" cy="120.3" rx="0.9" ry="0.4" fill="#5a1606"/>
<ellipse cx="402.1" cy="60.3" rx="0.9" ry="0.4" fill="#661a08"/>
<ellipse cx="481.1" cy="86.2" rx="1.0" ry="0.4" fill="#b04416"/>
<ellipse cx="462.0" cy="52.8" rx="0.7" ry="0.3" fill="#661a08"/>
<ellipse cx="514.1" cy="74.0" rx="0.9" ry="0.4" fill="#8e2c10"/>
<ellipse cx="422.2" cy="92.6" rx="0.9" ry="0.4" fill="#862a0c"/>
<ellipse cx="503.1" cy="77.8" rx="1.0" ry="0.4" fill="#862a0c"/>
<ellipse cx="489.0" cy="101.7" rx="1.1" ry="0.5" fill="#5a1606"/>
<ellipse cx="475.6" cy="92.9" rx="0.7" ry="0.3" fill="#5a1606"/>
<ellipse cx="415.1" cy="80.9" rx="1.2" ry="0.5" fill="#862a0c"/>
<ellipse cx="431.6" cy="27.8" rx="1.3" ry="0.6" fill="#a03816"/>
<ellipse cx="457.2" cy="56.5" rx="1.0" ry="0.4" fill="#862a0c"/>
<ellipse cx="391.6" cy="78.8" rx="1.0" ry="0.4" fill="#862a0c"/>
<ellipse cx="452.9" cy="75.6" rx="0.8" ry="0.4" fill="#b04416"/>
<ellipse cx="482.3" cy="69.9" rx="1.0" ry="0.5" fill="#4a1004"/>
<ellipse cx="417.8" cy="42.4" rx="1.1" ry="0.5" fill="#862a0c"/>
<ellipse cx="457.0" cy="76.9" rx="1.0" ry="0.4" fill="#b04416"/>
<ellipse cx="431.3" cy="83.6" rx="0.8" ry="0.4" fill="#4a1004"/>
<ellipse cx="409.9" cy="84.4" rx="1.1" ry="0.5" fill="#862a0c"/>
<ellipse cx="421.9" cy="92.5" rx="0.8" ry="0.3" fill="#4a1004"/>
<ellipse cx="527.7" cy="65.7" rx="1.2" ry="0.5" fill="#a03816"/>
<ellipse cx="431.1" cy="39.7" rx="1.3" ry="0.6" fill="#862a0c"/>
<ellipse cx="511.7" cy="77.3" rx="0.9" ry="0.4" fill="#4a1004"/>
<ellipse cx="424.0" cy="92.5" rx="1.4" ry="0.6" fill="#661a08"/>
<ellipse cx="421.3" cy="84.1" rx="0.7" ry="0.3" fill="#5a1606"/>
<ellipse cx="384.2" cy="89.5" rx="1.3" ry="0.6" fill="#862a0c"/>
<ellipse cx="413.3" cy="68.5" rx="1.3" ry="0.6" fill="#862a0c"/>
<ellipse cx="504.7" cy="85.1" rx="1.1" ry="0.5" fill="#661a08"/>
<ellipse cx="435.1" cy="44.6" rx="1.2" ry="0.5" fill="#862a0c"/>
<ellipse cx="475.9" cy="105.4" rx="0.7" ry="0.3" fill="#b04416"/>
<ellipse cx="459.6" cy="51.1" rx="0.8" ry="0.4" fill="#5a1606"/>
<ellipse cx="470.8" cy="95.5" rx="0.8" ry="0.4" fill="#661a08"/>
<ellipse cx="463.0" cy="72.4" rx="0.9" ry="0.4" fill="#4a1004"/>
<ellipse cx="413.8" cy="54.3" rx="1.1" ry="0.5" fill="#661a08"/>
<ellipse cx="474.6" cy="101.0" rx="0.6" ry="0.3" fill="#862a0c"/>
<ellipse cx="493.1" cy="118.1" rx="0.9" ry="0.4" fill="#a03816"/>
<ellipse cx="475.4" cy="123.2" rx="1.2" ry="0.5" fill="#8e2c10"/>
<ellipse cx="413.4" cy="66.4" rx="0.8" ry="0.3" fill="#661a08"/>
<ellipse cx="539.0" cy="65.6" rx="1.4" ry="0.6" fill="#862a0c"/>
<ellipse cx="412.7" cy="55.9" rx="0.8" ry="0.3" fill="#862a0c"/>
<ellipse cx="486.9" cy="77.8" rx="1.4" ry="0.6" fill="#661a08"/>
<ellipse cx="393.4" cy="83.2" rx="0.8" ry="0.3" fill="#661a08"/>
<ellipse cx="460.5" cy="72.2" rx="1.4" ry="0.6" fill="#862a0c"/>
<ellipse cx="435.3" cy="31.3" rx="0.8" ry="0.4" fill="#4a1004"/>
<ellipse cx="506.4" cy="55.9" rx="1.4" ry="0.6" fill="#b04416"/>
<ellipse cx="526.9" cy="71.3" rx="1.4" ry="0.6" fill="#8e2c10"/>
<ellipse cx="487.7" cy="61.5" rx="1.4" ry="0.6" fill="#862a0c"/>
<ellipse cx="477.8" cy="74.0" rx="1.4" ry="0.6" fill="#8e2c10"/>
<ellipse cx="469.3" cy="112.1" rx="1.4" ry="0.6" fill="#8e2c10"/>
<ellipse cx="436.1" cy="34.3" rx="1.4" ry="0.6" fill="#8e2c10"/>
<ellipse cx="429.0" cy="96.6" rx="0.8" ry="0.3" fill="#862a0c"/>
<ellipse cx="465.4" cy="72.1" rx="1.2" ry="0.5" fill="#b04416"/>
<ellipse cx="404.5" cy="66.7" rx="1.4" ry="0.6" fill="#4a1004"/>
<ellipse cx="531.0" cy="75.3" rx="1.0" ry="0.4" fill="#a03816"/>
<ellipse cx="421.0" cy="71.4" rx="1.4" ry="0.6" fill="#4a1004"/>
<ellipse cx="436.8" cy="60.2" rx="1.1" ry="0.5" fill="#a03816"/>
<ellipse cx="452.6" cy="87.7" rx="1.2" ry="0.5" fill="#5a1606"/>
<ellipse cx="402.3" cy="85.8" rx="0.8" ry="0.4" fill="#5a1606"/>
<ellipse cx="451.2" cy="35.8" rx="0.8" ry="0.3" fill="#661a08"/>
<ellipse cx="462.3" cy="99.9" rx="1.1" ry="0.5" fill="#a03816"/>
<ellipse cx="439.7" cy="112.4" rx="0.9" ry="0.4" fill="#8e2c10"/>
<ellipse cx="426.6" cy="79.3" rx="1.2" ry="0.5" fill="#661a08"/>
<ellipse cx="392.0" cy="72.8" rx="0.7" ry="0.3" fill="#661a08"/>
<ellipse cx="473.7" cy="105.9" rx="0.8" ry="0.4" fill="#5a1606"/>
<ellipse cx="444.4" cy="103.8" rx="1.2" ry="0.5" fill="#8e2c10"/>
<ellipse cx="532.8" cy="61.7" rx="0.9" ry="0.4" fill="#4a1004"/>
<ellipse cx="459.3" cy="61.5" rx="0.8" ry="0.4" fill="#b04416"/>
<ellipse cx="448.9" cy="36.0" rx="1.1" ry="0.5" fill="#661a08"/>
<ellipse cx="437.2" cy="25.3" rx="1.4" ry="0.6" fill="#8e2c10"/>
<ellipse cx="451.7" cy="84.7" rx="0.7" ry="0.3" fill="#4a1004"/>
<ellipse cx="401.8" cy="80.6" rx="1.3" ry="0.6" fill="#4a1004"/>
<ellipse cx="498.1" cy="106.8" rx="1.4" ry="0.6" fill="#4a1004"/>
<ellipse cx="482.5" cy="102.6" rx="0.7" ry="0.3" fill="#4a1004"/>
<ellipse cx="427.9" cy="48.3" rx="1.3" ry="0.6" fill="#661a08"/>
<ellipse cx="511.6" cy="82.5" rx="0.9" ry="0.4" fill="#661a08"/>
<ellipse cx="403.1" cy="75.0" rx="1.4" ry="0.6" fill="#8e2c10"/>
<ellipse cx="525.8" cy="83.0" rx="1.2" ry="0.5" fill="#8e2c10"/>
<ellipse cx="418.9" cy="89.5" rx="0.7" ry="0.3" fill="#862a0c"/>
<ellipse cx="479.1" cy="56.2" rx="1.0" ry="0.4" fill="#b04416"/>
<ellipse cx="487.1" cy="47.5" rx="0.7" ry="0.3" fill="#4a1004"/>
<ellipse cx="428.4" cy="26.5" rx="1.4" ry="0.6" fill="#661a08"/>
<ellipse cx="439.7" cy="99.9" rx="0.9" ry="0.4" fill="#862a0c"/>
<ellipse cx="413.3" cy="60.1" rx="1.4" ry="0.6" fill="#862a0c"/>
<ellipse cx="460.0" cy="67.9" rx="1.3" ry="0.6" fill="#5a1606"/>
<ellipse cx="386.8" cy="79.8" rx="1.0" ry="0.4" fill="#661a08"/>
<ellipse cx="420.2" cy="37.6" rx="1.0" ry="0.4" fill="#8e2c10"/>
<ellipse cx="408.2" cy="97.7" rx="1.0" ry="0.4" fill="#b04416"/>
<ellipse cx="398.9" cy="96.2" rx="0.8" ry="0.4" fill="#b04416"/>
<ellipse cx="516.9" cy="89.7" rx="0.7" ry="0.3" fill="#8e2c10"/>
<ellipse cx="395.4" cy="95.2" rx="0.9" ry="0.4" fill="#8e2c10"/>
<ellipse cx="460.1" cy="45.8" rx="1.1" ry="0.5" fill="#661a08"/>
<ellipse cx="462.7" cy="67.1" rx="0.9" ry="0.4" fill="#a03816"/>
<ellipse cx="423.2" cy="55.3" rx="1.1" ry="0.5" fill="#5a1606"/>
<ellipse cx="460.9" cy="81.2" rx="0.9" ry="0.4" fill="#5a1606"/>
<ellipse cx="453.5" cy="35.2" rx="1.3" ry="0.6" fill="#661a08"/>
<ellipse cx="421.3" cy="60.9" rx="1.4" ry="0.6" fill="#a03816"/>
<ellipse cx="513.2" cy="59.1" rx="0.9" ry="0.4" fill="#862a0c"/>
<ellipse cx="448.5" cy="103.7" rx="1.4" ry="0.6" fill="#a03816"/>
<ellipse cx="481.9" cy="73.8" rx="0.6" ry="0.3" fill="#5a1606"/>
<ellipse cx="465.2" cy="79.5" rx="1.4" ry="0.6" fill="#862a0c"/>
<ellipse cx="486.1" cy="70.8" rx="1.2" ry="0.5" fill="#5a1606"/>
<ellipse cx="436.9" cy="61.3" rx="1.1" ry="0.5" fill="#5a1606"/>
<ellipse cx="398.5" cy="69.0" rx="1.2" ry="0.5" fill="#8e2c10"/>
<ellipse cx="501.3" cy="51.1" rx="0.9" ry="0.4" fill="#5a1606"/>
<ellipse cx="395.6" cy="71.3" rx="0.7" ry="0.3" fill="#862a0c"/>
<ellipse cx="512.6" cy="71.1" rx="0.8" ry="0.4" fill="#661a08"/>
<ellipse cx="454.9" cy="81.9" rx="1.1" ry="0.5" fill="#8e2c10"/>
<ellipse cx="456.5" cy="77.4" rx="0.9" ry="0.4" fill="#b04416"/>
<ellipse cx="477.4" cy="83.9" rx="1.4" ry="0.6" fill="#661a08"/>
<ellipse cx="445.7" cy="41.3" rx="1.3" ry="0.6" fill="#661a08"/>
<ellipse cx="516.0" cy="82.8" rx="1.3" ry="0.6" fill="#661a08"/>
<ellipse cx="421.7" cy="80.2" rx="1.3" ry="0.6" fill="#8e2c10"/>
<ellipse cx="482.8" cy="104.2" rx="0.8" ry="0.4" fill="#b04416"/>
<ellipse cx="405.7" cy="54.5" rx="0.9" ry="0.4" fill="#b04416"/>
<ellipse cx="484.8" cy="71.2" rx="1.0" ry="0.4" fill="#661a08"/>
<ellipse cx="526.8" cy="60.6" rx="0.8" ry="0.3" fill="#a03816"/>
<ellipse cx="534.0" cy="73.0" rx="0.9" ry="0.4" fill="#4a1004"/>
<ellipse cx="486.7" cy="63.0" rx="0.8" ry="0.4" fill="#661a08"/>
<ellipse cx="451.1" cy="107.6" rx="1.2" ry="0.5" fill="#8e2c10"/>
<ellipse cx="446.2" cy="80.1" rx="1.0" ry="0.4" fill="#b04416"/>
<ellipse cx="504.5" cy="88.7" rx="1.4" ry="0.6" fill="#661a08"/>
<ellipse cx="490.6" cy="114.5" rx="1.2" ry="0.5" fill="#8e2c10"/>
<ellipse cx="385.7" cy="78.2" rx="1.3" ry="0.6" fill="#4a1004"/>
<ellipse cx="435.2" cy="56.6" rx="0.7" ry="0.3" fill="#4a1004"/>
<ellipse cx="449.9" cy="89.9" rx="0.9" ry="0.4" fill="#4a1004"/>
<ellipse cx="392.2" cy="71.2" rx="1.3" ry="0.6" fill="#8e2c10"/>
<ellipse cx="464.0" cy="40.1" rx="1.4" ry="0.6" fill="#a03816"/>
<ellipse cx="466.9" cy="72.7" rx="0.9" ry="0.4" fill="#5a1606"/>
<ellipse cx="479.9" cy="100.3" rx="0.9" ry="0.4" fill="#862a0c"/>
<ellipse cx="489.1" cy="128.3" rx="0.7" ry="0.3" fill="#661a08"/>
<ellipse cx="461.1" cy="80.1" rx="1.2" ry="0.5" fill="#4a1004"/>
<ellipse cx="459.5" cy="37.9" rx="0.9" ry="0.4" fill="#5a1606"/>
<ellipse cx="414.8" cy="98.1" rx="0.7" ry="0.3" fill="#a03816"/>
<ellipse cx="456.2" cy="43.1" rx="1.3" ry="0.6" fill="#862a0c"/>
<ellipse cx="443.7" cy="79.2" rx="0.8" ry="0.4" fill="#5a1606"/>
<ellipse cx="481.4" cy="124.0" rx="1.0" ry="0.4" fill="#5a1606"/>
<ellipse cx="494.5" cy="67.2" rx="1.1" ry="0.5" fill="#661a08"/>
<ellipse cx="506.3" cy="95.7" rx="1.4" ry="0.6" fill="#862a0c"/>
<ellipse cx="491.6" cy="44.8" rx="1.1" ry="0.5" fill="#4a1004"/>
<ellipse cx="450.7" cy="29.5" rx="1.1" ry="0.5" fill="#4a1004"/>
<ellipse cx="451.4" cy="94.4" rx="1.2" ry="0.5" fill="#661a08"/>
<path d="M427.0,25.8C429.6,24.0 429.6,13.4 431.0,13.4C432.4,13.4 432.4,24.0 434.9,25.8Z" fill="url(#g11p)"/>
<path d="M446.3,31.8C449.0,30.2 448.9,21.1 450.4,21.1C452.0,21.1 451.9,30.2 454.6,31.8Z" fill="url(#g11p)"/>
<path d="M428.6,33.7C431.1,31.9 431.0,21.8 432.4,21.8C433.8,21.8 433.8,31.9 436.2,33.7Z" fill="url(#g11p)"/>
<path d="M417.7,33.8C420.1,32.2 420.0,22.8 421.3,22.8C422.6,22.8 422.6,32.2 424.9,33.8Z" fill="url(#g11p)"/>
<path d="M452.6,36.3C455.4,34.8 455.4,25.8 456.9,25.8C458.5,25.8 458.5,34.8 461.3,36.3Z" fill="url(#g11p)"/>
<path d="M443.5,36.6C445.4,36.0 445.4,33.0 446.5,33.0C447.5,33.0 447.5,36.0 449.4,36.6Z" fill="url(#g11q)"/>
<path d="M464.7,39.0C466.5,38.1 466.4,33.2 467.4,33.2C468.4,33.2 468.4,38.1 470.1,39.0Z" fill="url(#g11q)"/>
<path d="M428.4,39.1C431.2,36.9 431.2,24.7 432.8,24.7C434.4,24.7 434.3,36.9 437.1,39.1Z" fill="url(#g11p)"/>
<path d="M450.8,41.9C453.2,40.1 453.2,30.1 454.5,30.1C455.9,30.1 455.8,40.1 458.3,41.9Z" fill="url(#g11p)"/>
<path d="M421.2,42.0C423.6,39.8 423.6,27.3 424.9,27.3C426.2,27.3 426.2,39.8 428.6,42.0Z" fill="url(#g11p)"/>
<path d="M473.9,42.9C476.3,40.8 476.3,28.9 477.6,28.9C478.9,28.9 478.9,40.8 481.3,42.9Z" fill="url(#g11p)"/>
<path d="M434.5,43.3C437.3,41.4 437.2,30.6 438.7,30.6C440.3,30.6 440.2,41.4 443.0,43.3Z" fill="url(#g11p)"/>
<path d="M411.8,45.0C413.5,44.4 413.5,40.9 414.5,40.9C415.4,40.9 415.4,44.4 417.1,45.0Z" fill="url(#g11q)"/>
<path d="M483.5,45.1C486.0,43.4 486.0,33.9 487.4,33.9C488.8,33.9 488.7,43.4 491.2,45.1Z" fill="url(#g11p)"/>
<path d="M432.0,46.9C434.4,44.9 434.3,33.5 435.7,33.5C437.0,33.5 437.0,44.9 439.4,46.9Z" fill="url(#g11p)"/>
<path d="M446.1,47.7C448.7,46.3 448.7,38.1 450.1,38.1C451.5,38.1 451.5,46.3 454.1,47.7Z" fill="url(#g11p)"/>
<path d="M464.1,47.8C466.3,45.6 466.3,32.9 467.5,32.9C468.8,32.9 468.7,45.6 471.0,47.8Z" fill="url(#g11p)"/>
<path d="M414.9,50.0C417.6,48.2 417.6,37.9 419.1,37.9C420.6,37.9 420.6,48.2 423.3,50.0Z" fill="url(#g11p)"/>
<path d="M461.3,50.5C463.8,48.9 463.7,39.6 465.1,39.6C466.5,39.6 466.4,48.9 468.9,50.5Z" fill="url(#g11p)"/>
<path d="M453.6,50.8C456.0,49.3 455.9,40.9 457.2,40.9C458.5,40.9 458.5,49.3 460.8,50.8Z" fill="url(#g11p)"/>
<path d="M441.0,51.3C443.0,50.5 443.0,45.8 444.1,45.8C445.2,45.8 445.2,50.5 447.2,51.3Z" fill="url(#g11q)"/>
<path d="M407.3,51.5C410.0,50.2 410.0,43.3 411.5,43.3C413.0,43.3 413.0,50.2 415.7,51.5Z" fill="url(#g11p)"/>
<path d="M429.6,52.0C432.2,50.6 432.2,42.8 433.6,42.8C435.0,42.8 435.0,50.6 437.6,52.0Z" fill="url(#g11p)"/>
<path d="M449.1,52.7C451.7,51.1 451.7,42.0 453.2,42.0C454.6,42.0 454.6,51.1 457.2,52.7Z" fill="url(#g11p)"/>
<path d="M499.0,53.7C501.5,52.0 501.5,42.1 502.9,42.1C504.3,42.1 504.3,52.0 506.9,53.7Z" fill="url(#g11p)"/>
<path d="M483.4,54.2C486.1,52.0 486.0,39.5 487.5,39.5C489.0,39.5 489.0,52.0 491.6,54.2Z" fill="url(#g11p)"/>
<path d="M412.4,54.6C415.1,53.1 415.0,44.8 416.5,44.8C417.9,44.8 417.9,53.1 420.6,54.6Z" fill="url(#g11p)"/>
<path d="M506.0,54.9C508.2,53.1 508.2,43.4 509.4,43.4C510.6,43.4 510.6,53.1 512.8,54.9Z" fill="url(#g11p)"/>
<path d="M472.7,56.0C475.3,54.3 475.2,44.7 476.6,44.7C478.0,44.7 478.0,54.3 480.5,56.0Z" fill="url(#g11p)"/>
<path d="M399.8,57.5C402.7,55.6 402.6,44.3 404.2,44.3C405.8,44.3 405.7,55.6 408.6,57.5Z" fill="url(#g11p)"/>
<path d="M421.8,57.6C424.5,56.0 424.4,47.3 425.9,47.3C427.3,47.3 427.3,56.0 429.9,57.6Z" fill="url(#g11p)"/>
<path d="M492.0,58.5C494.8,56.9 494.8,47.6 496.3,47.6C497.9,47.6 497.9,56.9 500.7,58.5Z" fill="url(#g11p)"/>
<path d="M516.4,59.2C518.8,57.0 518.7,44.5 520.0,44.5C521.3,44.5 521.3,57.0 523.6,59.2Z" fill="url(#g11p)"/>
<path d="M405.7,59.8C408.5,58.6 408.5,51.4 410.0,51.4C411.6,51.4 411.6,58.6 414.4,59.8Z" fill="url(#g11p)"/>
<path d="M483.1,60.3C484.9,59.7 484.9,56.2 485.9,56.2C487.0,56.2 486.9,59.7 488.8,60.3Z" fill="url(#g11q)"/>
<path d="M445.3,60.8C448.0,59.6 448.0,52.7 449.4,52.7C450.9,52.7 450.9,59.6 453.5,60.8Z" fill="url(#g11p)"/>
<path d="M394.6,60.9C397.2,59.3 397.2,50.3 398.7,50.3C400.2,50.3 400.1,59.3 402.8,60.9Z" fill="url(#g11p)"/>
<path d="M506.5,61.0C508.4,60.1 508.4,54.7 509.4,54.7C510.4,54.7 510.4,60.1 512.3,61.0Z" fill="url(#g11q)"/>
<path d="M466.2,62.2C468.9,60.4 468.9,49.9 470.4,49.9C471.9,49.9 471.8,60.4 474.5,62.2Z" fill="url(#g11p)"/>
<path d="M523.9,62.3C526.3,60.2 526.3,48.3 527.6,48.3C529.0,48.3 528.9,60.2 531.4,62.3Z" fill="url(#g11p)"/>
<path d="M487.9,62.8C490.3,60.6 490.3,48.1 491.7,48.1C493.1,48.1 493.0,60.6 495.5,62.8Z" fill="url(#g11p)"/>
<path d="M432.5,63.0C435.1,61.4 435.1,52.2 436.6,52.2C438.0,52.2 438.0,61.4 440.6,63.0Z" fill="url(#g11p)"/>
<path d="M453.4,64.3C455.9,62.6 455.8,53.1 457.2,53.1C458.6,53.1 458.6,62.6 461.0,64.3Z" fill="url(#g11p)"/>
<path d="M442.2,64.3C445.0,62.1 444.9,49.4 446.4,49.4C448.0,49.4 447.9,62.1 450.6,64.3Z" fill="url(#g11p)"/>
<path d="M474.9,64.7C477.3,63.0 477.2,53.7 478.5,53.7C479.8,53.7 479.8,63.0 482.1,64.7Z" fill="url(#g11p)"/>
<path d="M418.9,65.3C420.8,64.4 420.7,59.1 421.8,59.1C422.8,59.1 422.8,64.4 424.7,65.3Z" fill="url(#g11q)"/>
<path d="M464.2,65.9C466.8,64.5 466.7,56.6 468.1,56.6C469.5,56.6 469.5,64.5 472.0,65.9Z" fill="url(#g11p)"/>
<path d="M509.5,65.9C512.1,64.2 512.0,54.7 513.4,54.7C514.9,54.7 514.8,64.2 517.4,65.9Z" fill="url(#g11p)"/>
<path d="M532.3,66.0C534.5,65.2 534.5,60.1 535.7,60.1C536.9,60.1 536.9,65.2 539.1,66.0Z" fill="url(#g11q)"/>
<path d="M407.0,66.6C409.0,65.7 408.9,60.5 410.0,60.5C411.1,60.5 411.1,65.7 413.1,66.6Z" fill="url(#g11q)"/>
<path d="M447.3,67.1C450.1,65.6 450.1,56.7 451.6,56.7C453.2,56.7 453.2,65.6 456.0,67.1Z" fill="url(#g11p)"/>
<path d="M425.0,67.4C427.9,65.6 427.9,55.3 429.4,55.3C431.0,55.3 431.0,65.6 433.8,67.4Z" fill="url(#g11p)"/>
<path d="M487.8,68.4C490.1,66.2 490.1,54.0 491.3,54.0C492.6,54.0 492.6,66.2 494.9,68.4Z" fill="url(#g11p)"/>
<path d="M518.0,68.5C519.7,67.5 519.7,61.7 520.6,61.7C521.6,61.7 521.5,67.5 523.3,68.5Z" fill="url(#g11q)"/>
<path d="M393.6,68.5C395.4,67.8 395.3,63.6 396.3,63.6C397.3,63.6 397.2,67.8 399.0,68.5Z" fill="url(#g11q)"/>
<path d="M401.0,69.3C403.3,67.6 403.2,58.3 404.5,58.3C405.7,58.3 405.7,67.6 408.0,69.3Z" fill="url(#g11p)"/>
<path d="M413.5,69.5C416.3,67.4 416.2,55.8 417.8,55.8C419.3,55.8 419.3,67.4 422.1,69.5Z" fill="url(#g11p)"/>
<path d="M508.1,69.7C510.5,68.4 510.4,60.5 511.8,60.5C513.1,60.5 513.1,68.4 515.5,69.7Z" fill="url(#g11p)"/>
<path d="M470.7,70.2C473.0,68.7 473.0,60.5 474.2,60.5C475.4,60.5 475.4,68.7 477.7,70.2Z" fill="url(#g11p)"/>
<path d="M433.2,70.2C436.0,68.3 435.9,57.2 437.4,57.2C438.9,57.2 438.9,68.3 441.6,70.2Z" fill="url(#g11p)"/>
<path d="M389.0,71.5C391.2,70.7 391.2,66.2 392.4,66.2C393.6,66.2 393.6,70.7 395.8,71.5Z" fill="url(#g11q)"/>
<path d="M457.8,71.7C460.3,69.5 460.3,57.0 461.6,57.0C463.0,57.0 462.9,69.5 465.4,71.7Z" fill="url(#g11p)"/>
<path d="M494.5,72.0C496.8,70.3 496.7,60.6 498.0,60.6C499.3,60.6 499.2,70.3 501.5,72.0Z" fill="url(#g11p)"/>
<path d="M425.4,72.1C427.8,70.1 427.8,59.1 429.1,59.1C430.4,59.1 430.3,70.1 432.7,72.1Z" fill="url(#g11p)"/>
<path d="M441.9,73.8C444.3,71.6 444.2,59.5 445.5,59.5C446.8,59.5 446.8,71.6 449.2,73.8Z" fill="url(#g11p)"/>
<path d="M466.0,74.1C467.9,73.1 467.9,67.4 469.0,67.4C470.0,67.4 470.0,73.1 471.9,74.1Z" fill="url(#g11q)"/>
<path d="M432.3,74.3C435.0,72.9 435.0,65.0 436.5,65.0C438.0,65.0 438.0,72.9 440.7,74.3Z" fill="url(#g11p)"/>
<path d="M405.5,74.5C407.9,72.6 407.9,61.9 409.2,61.9C410.6,61.9 410.5,72.6 412.9,74.5Z" fill="url(#g11p)"/>
<path d="M478.6,75.0C481.0,72.7 481.0,60.1 482.3,60.1C483.7,60.1 483.6,72.7 486.1,75.0Z" fill="url(#g11p)"/>
<path d="M394.7,75.2C397.4,73.4 397.4,63.1 398.8,63.1C400.3,63.1 400.3,73.4 403.0,75.2Z" fill="url(#g11p)"/>
<path d="M502.0,75.2C504.3,73.1 504.3,60.9 505.6,60.9C506.9,60.9 506.8,73.1 509.2,75.2Z" fill="url(#g11p)"/>
<path d="M522.1,76.5C524.7,74.5 524.7,62.7 526.2,62.7C527.6,62.7 527.6,74.5 530.2,76.5Z" fill="url(#g11p)"/>
<path d="M490.7,77.8C493.6,75.9 493.5,64.9 495.1,64.9C496.7,64.9 496.7,75.9 499.5,77.8Z" fill="url(#g11p)"/>
<path d="M414.9,78.2C417.5,76.8 417.5,68.9 418.9,68.9C420.3,68.9 420.3,76.8 422.8,78.2Z" fill="url(#g11p)"/>
<path d="M452.8,78.4C455.5,77.1 455.5,69.8 457.0,69.8C458.5,69.8 458.4,77.1 461.1,78.4Z" fill="url(#g11p)"/>
<path d="M508.7,78.6C511.4,77.3 511.4,70.0 512.9,70.0C514.4,70.0 514.4,77.3 517.2,78.6Z" fill="url(#g11p)"/>
<path d="M439.0,79.6C441.7,78.0 441.7,69.0 443.2,69.0C444.8,69.0 444.7,78.0 447.5,79.6Z" fill="url(#g11p)"/>
<path d="M496.5,79.8C498.7,78.0 498.7,67.6 500.0,67.6C501.2,67.6 501.2,78.0 503.5,79.8Z" fill="url(#g11p)"/>
<path d="M403.0,80.4C404.7,79.5 404.7,74.6 405.6,74.6C406.5,74.6 406.5,79.5 408.2,80.4Z" fill="url(#g11q)"/>
<path d="M390.1,80.4C392.6,78.1 392.6,65.4 394.0,65.4C395.3,65.4 395.3,78.1 397.8,80.4Z" fill="url(#g11p)"/>
<path d="M429.5,81.7C431.9,80.2 431.8,71.5 433.1,71.5C434.4,71.5 434.4,80.2 436.7,81.7Z" fill="url(#g11p)"/>
<path d="M461.3,82.2C463.6,80.1 463.6,68.3 464.8,68.3C466.1,68.3 466.1,80.1 468.4,82.2Z" fill="url(#g11p)"/>
<path d="M451.9,82.4C454.4,80.9 454.4,72.8 455.8,72.8C457.2,72.8 457.1,80.9 459.7,82.4Z" fill="url(#g11p)"/>
<path d="M434.1,83.6C436.0,83.0 436.0,79.6 437.1,79.6C438.2,79.6 438.1,83.0 440.1,83.6Z" fill="url(#g11q)"/>
<path d="M505.1,84.1C507.9,82.7 507.8,74.8 509.3,74.8C510.8,74.8 510.8,82.7 513.5,84.1Z" fill="url(#g11p)"/>
<path d="M411.3,84.1C413.6,82.5 413.6,73.2 414.9,73.2C416.2,73.2 416.1,82.5 418.5,84.1Z" fill="url(#g11p)"/>
<path d="M468.9,84.3C471.3,82.1 471.3,69.5 472.6,69.5C473.9,69.5 473.9,82.1 476.3,84.3Z" fill="url(#g11p)"/>
<path d="M483.5,84.5C486.4,82.7 486.3,72.5 487.9,72.5C489.5,72.5 489.4,82.7 492.3,84.5Z" fill="url(#g11p)"/>
<path d="M398.9,84.9C401.6,83.1 401.6,72.5 403.1,72.5C404.6,72.5 404.6,83.1 407.4,84.9Z" fill="url(#g11p)"/>
<path d="M379.4,85.0C382.0,82.9 381.9,70.7 383.3,70.7C384.8,70.7 384.7,82.9 387.3,85.0Z" fill="url(#g11p)"/>
<path d="M496.6,85.5C498.3,84.6 498.3,79.3 499.3,79.3C500.2,79.3 500.2,84.6 502.0,85.5Z" fill="url(#g11q)"/>
<path d="M426.4,85.6C428.1,84.8 428.1,80.0 429.0,80.0C430.0,80.0 430.0,84.8 431.7,85.6Z" fill="url(#g11q)"/>
<path d="M373.4,87.0C375.6,85.7 375.6,78.6 376.8,78.6C378.1,78.6 378.1,85.7 380.3,87.0Z" fill="url(#g11p)"/>
<path d="M441.9,87.7C444.5,85.9 444.5,75.6 446.0,75.6C447.4,75.6 447.4,85.9 450.0,87.7Z" fill="url(#g11p)"/>
<path d="M480.1,87.8C482.4,85.8 482.4,74.9 483.7,74.9C484.9,74.9 484.9,85.8 487.2,87.8Z" fill="url(#g11p)"/>
<path d="M428.9,88.5C431.4,86.7 431.3,76.1 432.7,76.1C434.1,76.1 434.1,86.7 436.6,88.5Z" fill="url(#g11p)"/>
<path d="M394.5,88.9C397.1,87.1 397.1,76.9 398.5,76.9C399.9,76.9 399.8,87.1 402.4,88.9Z" fill="url(#g11p)"/>
<path d="M415.6,90.2C418.4,88.5 418.4,78.7 419.9,78.7C421.5,78.7 421.4,88.5 424.3,90.2Z" fill="url(#g11p)"/>
<path d="M463.4,90.2C466.1,88.1 466.0,76.1 467.5,76.1C469.0,76.1 469.0,88.1 471.7,90.2Z" fill="url(#g11p)"/>
<path d="M476.3,91.3C478.1,90.4 478.1,85.1 479.1,85.1C480.0,85.1 480.0,90.4 481.8,91.3Z" fill="url(#g11q)"/>
<path d="M502.4,91.7C504.8,89.9 504.8,79.4 506.1,79.4C507.5,79.4 507.4,89.9 509.9,91.7Z" fill="url(#g11p)"/>
<path d="M403.0,91.9C405.3,90.7 405.3,83.7 406.6,83.7C407.9,83.7 407.9,90.7 410.3,91.9Z" fill="url(#g11p)"/>
<path d="M450.7,92.0C453.5,89.9 453.5,78.2 455.1,78.2C456.6,78.2 456.6,89.9 459.4,92.0Z" fill="url(#g11p)"/>
<path d="M491.0,92.0C493.5,90.0 493.5,78.7 494.9,78.7C496.2,78.7 496.2,90.0 498.7,92.0Z" fill="url(#g11p)"/>
<path d="M382.7,92.4C385.5,90.2 385.5,77.8 387.0,77.8C388.6,77.8 388.5,90.2 391.3,92.4Z" fill="url(#g11p)"/>
<path d="M508.0,93.3C510.6,91.5 510.6,81.1 512.1,81.1C513.6,81.1 513.5,91.5 516.2,93.3Z" fill="url(#g11p)"/>
<path d="M441.9,93.5C443.8,92.8 443.8,88.8 444.8,88.8C445.8,88.8 445.8,92.8 447.6,93.5Z" fill="url(#g11q)"/>
<path d="M427.2,95.9C429.2,95.0 429.2,90.2 430.4,90.2C431.5,90.2 431.5,95.0 433.6,95.9Z" fill="url(#g11q)"/>
<path d="M497.8,96.3C500.2,95.0 500.1,87.7 501.4,87.7C502.7,87.7 502.7,95.0 505.1,96.3Z" fill="url(#g11p)"/>
<path d="M448.6,96.4C450.9,94.2 450.9,81.8 452.1,81.8C453.4,81.8 453.4,94.2 455.7,96.4Z" fill="url(#g11p)"/>
<path d="M389.8,96.8C392.1,95.1 392.0,85.0 393.3,85.0C394.6,85.0 394.6,95.1 396.9,96.8Z" fill="url(#g11p)"/>
<path d="M417.2,97.0C419.5,95.3 419.4,85.2 420.7,85.2C421.9,85.2 421.9,95.3 424.1,97.0Z" fill="url(#g11p)"/>
<path d="M471.8,97.3C474.6,95.3 474.5,83.7 476.0,83.7C477.5,83.7 477.5,95.3 480.2,97.3Z" fill="url(#g11p)"/>
<path d="M481.7,97.8C484.5,95.7 484.4,83.7 485.9,83.7C487.5,83.7 487.4,95.7 490.1,97.8Z" fill="url(#g11p)"/>
<path d="M402.6,99.6C404.9,98.3 404.9,91.3 406.2,91.3C407.5,91.3 407.4,98.3 409.7,99.6Z" fill="url(#g11p)"/>
<path d="M491.1,99.6C493.6,97.5 493.6,85.1 495.0,85.1C496.4,85.1 496.4,97.5 499.0,99.6Z" fill="url(#g11p)"/>
<path d="M407.3,100.6C410.0,98.7 410.0,87.6 411.5,87.6C413.0,87.6 412.9,98.7 415.6,100.6Z" fill="url(#g11p)"/>
<path d="M457.5,101.6C460.1,99.4 460.1,87.2 461.6,87.2C463.1,87.2 463.0,99.4 465.7,101.6Z" fill="url(#g11p)"/>
<path d="M421.5,102.2C424.0,100.9 423.9,93.4 425.3,93.4C426.6,93.4 426.6,100.9 429.0,102.2Z" fill="url(#g11p)"/>
<path d="M478.4,102.6C480.6,100.9 480.6,91.4 481.8,91.4C483.0,91.4 483.0,100.9 485.2,102.6Z" fill="url(#g11p)"/>
<path d="M499.4,102.8C502.0,101.5 502.0,94.1 503.4,94.1C504.9,94.1 504.8,101.5 507.4,102.8Z" fill="url(#g11p)"/>
<path d="M445.2,103.2C447.5,101.4 447.5,91.3 448.7,91.3C450.0,91.3 450.0,101.4 452.3,103.2Z" fill="url(#g11p)"/>
<path d="M463.6,104.2C465.9,102.7 465.9,94.5 467.1,94.5C468.4,94.5 468.4,102.7 470.6,104.2Z" fill="url(#g11p)"/>
<path d="M430.4,105.4C433.3,104.0 433.2,95.7 434.8,95.7C436.4,95.7 436.4,104.0 439.2,105.4Z" fill="url(#g11p)"/>
<path d="M420.0,105.9C421.7,105.2 421.7,101.3 422.6,101.3C423.6,101.3 423.6,105.2 425.3,105.9Z" fill="url(#g11q)"/>
<path d="M490.3,106.5C492.6,105.5 492.5,99.9 493.8,99.9C495.1,99.9 495.1,105.5 497.4,106.5Z" fill="url(#g11q)"/>
<path d="M441.7,106.8C444.0,104.6 443.9,92.1 445.2,92.1C446.5,92.1 446.4,104.6 448.7,106.8Z" fill="url(#g11p)"/>
<path d="M455.4,107.2C457.8,105.9 457.7,98.5 459.0,98.5C460.3,98.5 460.3,105.9 462.7,107.2Z" fill="url(#g11p)"/>
<path d="M476.1,108.0C478.5,106.2 478.4,95.7 479.8,95.7C481.1,95.7 481.1,106.2 483.5,108.0Z" fill="url(#g11p)"/>
<path d="M496.3,109.6C498.3,108.8 498.2,104.2 499.3,104.2C500.4,104.2 500.3,108.8 502.3,109.6Z" fill="url(#g11q)"/>
<path d="M459.6,109.8C462.1,107.8 462.1,95.9 463.5,95.9C464.9,95.9 464.8,107.8 467.4,109.8Z" fill="url(#g11p)"/>
<path d="M425.8,111.2C428.6,109.0 428.5,97.0 430.1,97.0C431.6,97.0 431.6,109.0 434.4,111.2Z" fill="url(#g11p)"/>
<path d="M486.2,111.9C488.5,109.7 488.4,97.2 489.7,97.2C490.9,97.2 490.9,109.7 493.1,111.9Z" fill="url(#g11p)"/>
<path d="M433.7,112.6C436.4,110.6 436.4,99.5 437.9,99.5C439.4,99.5 439.4,110.6 442.1,112.6Z" fill="url(#g11p)"/>
<path d="M472.2,113.1C474.9,111.5 474.8,102.7 476.3,102.7C477.7,102.7 477.7,111.5 480.3,113.1Z" fill="url(#g11p)"/>
<path d="M449.1,113.5C451.6,111.6 451.6,100.6 453.0,100.6C454.4,100.6 454.4,111.6 456.9,113.5Z" fill="url(#g11p)"/>
<path d="M460.3,114.1C462.1,113.5 462.0,109.9 463.0,109.9C464.0,109.9 463.9,113.5 465.7,114.1Z" fill="url(#g11q)"/>
<path d="M492.1,114.3C494.8,112.5 494.8,102.8 496.3,102.8C497.8,102.8 497.8,112.5 500.5,114.3Z" fill="url(#g11p)"/>
<path d="M443.2,117.4C445.5,116.5 445.5,111.5 446.7,111.5C448.0,111.5 448.0,116.5 450.3,117.4Z" fill="url(#g11q)"/>
<path d="M476.2,117.4C478.5,115.2 478.5,103.0 479.7,103.0C481.0,103.0 480.9,115.2 483.2,117.4Z" fill="url(#g11p)"/>
<path d="M465.4,118.1C467.7,116.6 467.7,108.3 469.0,108.3C470.3,108.3 470.2,116.6 472.5,118.1Z" fill="url(#g11p)"/>
<path d="M452.0,119.6C453.9,118.8 453.8,114.0 454.9,114.0C455.9,114.0 455.9,118.8 457.7,119.6Z" fill="url(#g11q)"/>
<path d="M489.6,121.2C492.0,119.1 492.0,107.2 493.4,107.2C494.8,107.2 494.7,119.1 497.2,121.2Z" fill="url(#g11p)"/>
<path d="M475.1,121.8C477.6,120.2 477.5,111.2 478.9,111.2C480.3,111.2 480.3,120.2 482.7,121.8Z" fill="url(#g11p)"/>
<path d="M460.0,122.2C462.5,120.8 462.5,112.5 463.8,112.5C465.2,112.5 465.2,120.8 467.7,122.2Z" fill="url(#g11p)"/>
<path d="M481.4,125.0C483.8,123.8 483.8,116.8 485.1,116.8C486.4,116.8 486.4,123.8 488.8,125.0Z" fill="url(#g11p)"/>
<path d="M470.7,127.8C473.4,126.1 473.3,116.7 474.8,116.7C476.3,116.7 476.2,126.1 478.9,127.8Z" fill="url(#g11p)"/>
<path d="M478.2,130.5C480.3,130.0 480.3,126.8 481.4,126.8C482.6,126.8 482.5,130.0 484.6,130.5Z" fill="url(#g11q)"/>
</g>
<polyline points="373.50,88.60 486.30,133.60 543.50,66.00" fill="none" stroke="#eeeeee" stroke-width="0.7"/>
<line x1="375.90" y1="62.00" x2="377.10" y2="62.00" stroke="#999" stroke-width="0.4"/>
<line x1="375.90" y1="70.93" x2="377.10" y2="70.93" stroke="#999" stroke-width="0.4"/>
<line x1="375.90" y1="79.87" x2="377.10" y2="79.87" stroke="#999" stroke-width="0.4"/>
<line x1="375.90" y1="88.80" x2="377.10" y2="88.80" stroke="#999" stroke-width="0.4"/>
<text x="375.5" y="68.0" font-size="2.6" fill="#aaa" text-anchor="middle" transform="rotate(-90 375.5 68.0)">[nm]</text>
<text x="385.8" y="98.3" font-size="3" fill="#aaa" text-anchor="middle" transform="rotate(22 385.8 98.3)">100</text>
<text x="397.1" y="102.8" font-size="3" fill="#aaa" text-anchor="middle" transform="rotate(22 397.1 102.8)">200</text>
<text x="408.3" y="107.3" font-size="3" fill="#aaa" text-anchor="middle" transform="rotate(22 408.3 107.3)">300</text>
<text x="419.6" y="111.8" font-size="3" fill="#aaa" text-anchor="middle" transform="rotate(22 419.6 111.8)">400</text>
<text x="430.9" y="116.3" font-size="3" fill="#aaa" text-anchor="middle" transform="rotate(22 430.9 116.3)">500</text>
<text x="442.2" y="120.8" font-size="3" fill="#aaa" text-anchor="middle" transform="rotate(22 442.2 120.8)">600</text>
<text x="453.5" y="125.3" font-size="3" fill="#aaa" text-anchor="middle" transform="rotate(22 453.5 125.3)">700</text>
<text x="464.7" y="129.8" font-size="3" fill="#aaa" text-anchor="middle" transform="rotate(22 464.7 129.8)">800</text>
<text x="476.0" y="134.3" font-size="3" fill="#aaa" text-anchor="middle" transform="rotate(22 476.0 134.3)">900</text>
<text x="496.6" y="129.2" font-size="3" fill="#aaa" text-anchor="middle" transform="rotate(-48 496.6 129.2)">100</text>
<text x="502.3" y="122.5" font-size="3" fill="#aaa" text-anchor="middle" transform="rotate(-48 502.3 122.5)">200</text>
<text x="508.1" y="115.7" font-size="3" fill="#aaa" text-anchor="middle" transform="rotate(-48 508.1 115.7)">300</text>
<text x="513.8" y="109.0" font-size="3" fill="#aaa" text-anchor="middle" transform="rotate(-48 513.8 109.0)">400</text>
<text x="519.5" y="102.2" font-size="3" fill="#aaa" text-anchor="middle" transform="rotate(-48 519.5 102.2)">500</text>
<text x="525.2" y="95.4" font-size="3" fill="#aaa" text-anchor="middle" transform="rotate(-48 525.2 95.4)">600</text>
<text x="530.9" y="88.7" font-size="3" fill="#aaa" text-anchor="middle" transform="rotate(-48 530.9 88.7)">700</text>
<text x="536.7" y="81.9" font-size="3" fill="#aaa" text-anchor="middle" transform="rotate(-48 536.7 81.9)">800</text>
<text x="542.4" y="75.2" font-size="3" fill="#aaa" text-anchor="middle" transform="rotate(-48 542.4 75.2)">900</text>
<text x="535.60" y="127.60" font-size="23.1" text-anchor="middle" stroke="#000" stroke-width="0.5">1</text>
<rect x="528.67" y="125.11" width="6.00" height="4.19" fill="#fff"/>
<rect x="537.11" y="125.11" width="5.42" height="4.19" fill="#fff"/>
<polygon points="371.60,184.00 378.00,184.00 378.00,199.00 428.10,136.90 431.70,136.90 545.80,176.40 546.80,177.50 546.80,200.00 514.20,250.10 494.00,272.40 484.00,272.20 371.60,225.50" fill="#000"/>
<defs><linearGradient id="g23s" x1="0" y1="0" x2="0" y2="1"><stop offset="0" stop-color="#5c1606"/><stop offset="1" stop-color="#72200a"/></linearGradient><radialGradient id="g23p" cx="0.5" cy="0.12" r="0.95" fx="0.46" fy="0.08"><stop offset="0" stop-color="#ffd432"/><stop offset="0.18" stop-color="#f2aa12"/><stop offset="0.37" stop-color="#cc6c0c"/><stop offset="0.56" stop-color="#98380c"/><stop offset="0.78" stop-color="#661a08" stop-opacity="0.6"/><stop offset="1" stop-color="#661a08" stop-opacity="0"/></radialGradient><radialGradient id="g23q" cx="0.5" cy="0.15" r="0.95"><stop offset="0" stop-color="#d8801a"/><stop offset="0.45" stop-color="#a8440e"/><stop offset="0.85" stop-color="#6e1e08" stop-opacity="0.4"/><stop offset="1" stop-color="#6e1e08" stop-opacity="0"/></radialGradient><clipPath id="g23c"><polygon points="371.60,184.00 378.00,184.00 378.00,199.00 428.10,136.90 431.70,136.90 545.80,176.40 546.80,177.50 546.80,200.00 514.20,250.10 494.00,272.40 484.00,272.20 371.60,225.50"/></clipPath></defs>
<polygon points="374.00,216.80 431.00,145.50 544.60,193.80 486.80,262.20" fill="url(#g23s)"/>
<g clip-path="url(#g23c)">
<ellipse cx="533.1" cy="193.7" rx="1.4" ry="0.6" fill="#8e2c10"/>
<ellipse cx="393.4" cy="195.7" rx="0.9" ry="0.4" fill="#a03816"/>
<ellipse cx="399.7" cy="209.1" rx="1.0" ry="0.4" fill="#4a1004"/>
<ellipse cx="495.8" cy="182.3" rx="0.7" ry="0.3" fill="#661a08"/>
<ellipse cx="431.3" cy="238.1" rx="1.1" ry="0.5" fill="#5a1606"/>
<ellipse cx="417.8" cy="229.1" rx="1.3" ry="0.6" fill="#862a0c"/>
<ellipse cx="425.5" cy="221.5" rx="0.8" ry="0.4" fill="#661a08"/>
<ellipse cx="458.5" cy="179.9" rx="0.9" ry="0.4" fill="#862a0c"/>
<ellipse cx="461.5" cy="160.9" rx="1.1" ry="0.5" fill="#b04416"/>
<ellipse cx="468.7" cy="188.1" rx="1.1" ry="0.5" fill="#5a1606"/>
<ellipse cx="459.6" cy="236.1" rx="1.3" ry="0.6" fill="#862a0c"/>
<ellipse cx="457.2" cy="174.1" rx="0.8" ry="0.3" fill="#8e2c10"/>
<ellipse cx="407.6" cy="190.3" rx="1.1" ry="0.5" fill="#862a0c"/>
<ellipse cx="439.4" cy="188.0" rx="0.7" ry="0.3" fill="#a03816"/>
<ellipse cx="486.5" cy="179.0" rx="1.0" ry="0.4" fill="#4a1004"/>
<ellipse cx="409.3" cy="221.0" rx="1.3" ry="0.6" fill="#661a08"/>
<ellipse cx="492.1" cy="218.9" rx="0.9" ry="0.4" fill="#4a1004"/>
<ellipse cx="511.9" cy="217.8" rx="1.4" ry="0.6" fill="#4a1004"/>
<ellipse cx="426.6" cy="234.8" rx="1.1" ry="0.5" fill="#5a1606"/>
<ellipse cx="422.8" cy="160.2" rx="1.2" ry="0.5" fill="#4a1004"/>
<ellipse cx="519.5" cy="187.9" rx="1.1" ry="0.5" fill="#5a1606"/>
<ellipse cx="478.4" cy="226.9" rx="1.4" ry="0.6" fill="#5a1606"/>
<ellipse cx="431.5" cy="236.5" rx="0.9" ry="0.4" fill="#862a0c"/>
<ellipse cx="449.5" cy="159.7" rx="1.4" ry="0.6" fill="#4a1004"/>
<ellipse cx="416.1" cy="181.4" rx="1.2" ry="0.5" fill="#661a08"/>
<ellipse cx="482.0" cy="184.8" rx="0.8" ry="0.4" fill="#5a1606"/>
<ellipse cx="393.3" cy="223.5" rx="1.2" ry="0.5" fill="#661a08"/>
<ellipse cx="521.6" cy="201.4" rx="1.4" ry="0.6" fill="#661a08"/>
<ellipse cx="469.4" cy="248.8" rx="1.4" ry="0.6" fill="#661a08"/>
<ellipse cx="489.6" cy="212.9" rx="1.0" ry="0.4" fill="#a03816"/>
<ellipse cx="493.1" cy="213.4" rx="1.1" ry="0.5" fill="#b04416"/>
<ellipse cx="407.6" cy="227.9" rx="0.8" ry="0.3" fill="#862a0c"/>
<ellipse cx="481.0" cy="220.1" rx="0.8" ry="0.3" fill="#661a08"/>
<ellipse cx="414.9" cy="180.4" rx="1.1" ry="0.5" fill="#4a1004"/>
<ellipse cx="529.3" cy="191.3" rx="1.3" ry="0.6" fill="#661a08"/>
<ellipse cx="424.0" cy="205.3" rx="0.7" ry="0.3" fill="#4a1004"/>
<ellipse cx="481.6" cy="223.0" rx="1.3" ry="0.6" fill="#8e2c10"/>
<ellipse cx="419.2" cy="192.9" rx="1.0" ry="0.4" fill="#8e2c10"/>
<ellipse cx="437.3" cy="216.4" rx="1.1" ry="0.5" fill="#862a0c"/>
<ellipse cx="465.5" cy="237.2" rx="1.1" ry="0.5" fill="#a03816"/>
<ellipse cx="480.4" cy="251.7" rx="1.3" ry="0.6" fill="#b04416"/>
<ellipse cx="496.2" cy="231.3" rx="0.7" ry="0.3" fill="#5a1606"/>
<ellipse cx="459.0" cy="224.0" rx="0.9" ry="0.4" fill="#a03816"/>
<ellipse cx="480.6" cy="234.5" rx="1.4" ry="0.6" fill="#4a1004"/>
<ellipse cx="441.8" cy="205.0" rx="1.3" ry="0.6" fill="#5a1606"/>
<ellipse cx="510.2" cy="190.1" rx="1.1" ry="0.5" fill="#661a08"/>
<ellipse cx="396.4" cy="205.4" rx="0.9" ry="0.4" fill="#b04416"/>
<ellipse cx="411.7" cy="197.1" rx="1.1" ry="0.5" fill="#8e2c10"/>
<ellipse cx="449.3" cy="175.1" rx="0.6" ry="0.3" fill="#8e2c10"/>
<ellipse cx="451.9" cy="168.5" rx="0.8" ry="0.4" fill="#862a0c"/>
<ellipse cx="448.0" cy="242.6" rx="1.3" ry="0.6" fill="#a03816"/>
<ellipse cx="428.9" cy="185.9" rx="1.1" ry="0.5" fill="#b04416"/>
<ellipse cx="426.3" cy="168.5" rx="1.0" ry="0.4" fill="#661a08"/>
<ellipse cx="471.2" cy="163.9" rx="1.1" ry="0.5" fill="#661a08"/>
<ellipse cx="457.6" cy="234.7" rx="1.4" ry="0.6" fill="#661a08"/>
<ellipse cx="395.7" cy="223.7" rx="1.1" ry="0.5" fill="#4a1004"/>
<ellipse cx="496.2" cy="238.9" rx="1.4" ry="0.6" fill="#a03816"/>
<ellipse cx="482.6" cy="189.0" rx="1.3" ry="0.6" fill="#862a0c"/>
<ellipse cx="465.6" cy="244.2" rx="0.7" ry="0.3" fill="#a03816"/>
<ellipse cx="433.3" cy="160.1" rx="0.8" ry="0.4" fill="#5a1606"/>
<ellipse cx="529.7" cy="210.0" rx="0.8" ry="0.4" fill="#862a0c"/>
<ellipse cx="496.1" cy="225.8" rx="0.9" ry="0.4" fill="#661a08"/>
<ellipse cx="430.8" cy="187.1" rx="1.2" ry="0.5" fill="#5a1606"/>
<ellipse cx="530.6" cy="189.6" rx="1.4" ry="0.6" fill="#4a1004"/>
<ellipse cx="470.5" cy="164.0" rx="0.9" ry="0.4" fill="#8e2c10"/>
<ellipse cx="449.5" cy="214.6" rx="0.8" ry="0.4" fill="#661a08"/>
<ellipse cx="446.5" cy="226.4" rx="1.0" ry="0.4" fill="#8e2c10"/>
<ellipse cx="420.6" cy="166.3" rx="1.0" ry="0.4" fill="#4a1004"/>
<ellipse cx="464.3" cy="214.7" rx="0.8" ry="0.4" fill="#a03816"/>
<ellipse cx="394.8" cy="197.3" rx="1.3" ry="0.6" fill="#5a1606"/>
<ellipse cx="499.9" cy="214.4" rx="1.4" ry="0.6" fill="#862a0c"/>
<ellipse cx="511.8" cy="214.2" rx="1.3" ry="0.6" fill="#4a1004"/>
<ellipse cx="534.3" cy="191.2" rx="1.2" ry="0.5" fill="#5a1606"/>
<ellipse cx="511.0" cy="230.1" rx="0.6" ry="0.3" fill="#661a08"/>
<ellipse cx="420.4" cy="230.2" rx="0.7" ry="0.3" fill="#5a1606"/>
<ellipse cx="467.5" cy="166.4" rx="1.2" ry="0.5" fill="#661a08"/>
<ellipse cx="514.1" cy="207.0" rx="0.8" ry="0.3" fill="#8e2c10"/>
<ellipse cx="505.5" cy="194.8" rx="1.0" ry="0.4" fill="#b04416"/>
<ellipse cx="391.5" cy="217.5" rx="1.0" ry="0.4" fill="#4a1004"/>
<ellipse cx="530.6" cy="206.6" rx="0.7" ry="0.3" fill="#8e2c10"/>
<ellipse cx="493.6" cy="208.9" rx="1.1" ry="0.5" fill="#4a1004"/>
<ellipse cx="515.3" cy="201.6" rx="0.9" ry="0.4" fill="#661a08"/>
<ellipse cx="434.3" cy="194.9" rx="1.1" ry="0.5" fill="#b04416"/>
<ellipse cx="454.5" cy="217.8" rx="1.2" ry="0.5" fill="#4a1004"/>
<ellipse cx="496.0" cy="213.4" rx="1.4" ry="0.6" fill="#4a1004"/>
<ellipse cx="425.7" cy="164.2" rx="0.8" ry="0.3" fill="#8e2c10"/>
<ellipse cx="470.4" cy="226.9" rx="0.8" ry="0.4" fill="#b04416"/>
<ellipse cx="487.4" cy="185.5" rx="1.4" ry="0.6" fill="#8e2c10"/>
<ellipse cx="510.3" cy="183.2" rx="1.1" ry="0.5" fill="#862a0c"/>
<ellipse cx="435.0" cy="190.4" rx="1.0" ry="0.4" fill="#661a08"/>
<ellipse cx="497.3" cy="185.4" rx="0.8" ry="0.3" fill="#661a08"/>
<ellipse cx="487.4" cy="199.8" rx="1.2" ry="0.5" fill="#4a1004"/>
<ellipse cx="406.3" cy="209.4" rx="0.7" ry="0.3" fill="#661a08"/>
<ellipse cx="490.3" cy="239.7" rx="1.4" ry="0.6" fill="#862a0c"/>
<ellipse cx="509.1" cy="201.2" rx="1.1" ry="0.5" fill="#862a0c"/>
<ellipse cx="424.1" cy="232.7" rx="0.7" ry="0.3" fill="#4a1004"/>
<ellipse cx="484.3" cy="228.6" rx="1.1" ry="0.5" fill="#862a0c"/>
<ellipse cx="493.0" cy="174.1" rx="0.6" ry="0.3" fill="#5a1606"/>
<ellipse cx="401.8" cy="197.3" rx="1.2" ry="0.5" fill="#862a0c"/>
<ellipse cx="387.4" cy="206.5" rx="0.9" ry="0.4" fill="#b04416"/>
<ellipse cx="472.0" cy="243.1" rx="0.8" ry="0.3" fill="#862a0c"/>
<ellipse cx="455.9" cy="239.5" rx="1.3" ry="0.6" fill="#b04416"/>
<ellipse cx="477.6" cy="183.3" rx="1.1" ry="0.5" fill="#862a0c"/>
<ellipse cx="481.5" cy="204.5" rx="1.4" ry="0.6" fill="#4a1004"/>
<ellipse cx="484.0" cy="236.6" rx="1.1" ry="0.5" fill="#b04416"/>
<ellipse cx="486.3" cy="187.1" rx="1.3" ry="0.6" fill="#b04416"/>
<ellipse cx="417.4" cy="186.5" rx="0.9" ry="0.4" fill="#4a1004"/>
<ellipse cx="472.2" cy="221.3" rx="0.9" ry="0.4" fill="#b04416"/>
<ellipse cx="399.3" cy="203.7" rx="0.9" ry="0.4" fill="#5a1606"/>
<ellipse cx="435.0" cy="226.5" rx="1.1" ry="0.5" fill="#4a1004"/>
<ellipse cx="444.1" cy="192.4" rx="1.4" ry="0.6" fill="#8e2c10"/>
<ellipse cx="503.9" cy="201.2" rx="0.8" ry="0.3" fill="#862a0c"/>
<ellipse cx="417.8" cy="231.5" rx="0.7" ry="0.3" fill="#b04416"/>
<ellipse cx="432.9" cy="153.2" rx="0.9" ry="0.4" fill="#661a08"/>
<ellipse cx="437.6" cy="176.3" rx="1.2" ry="0.5" fill="#a03816"/>
<ellipse cx="408.9" cy="190.6" rx="1.0" ry="0.4" fill="#b04416"/>
<ellipse cx="416.1" cy="183.8" rx="0.9" ry="0.4" fill="#661a08"/>
<ellipse cx="466.7" cy="238.0" rx="1.3" ry="0.6" fill="#8e2c10"/>
<ellipse cx="425.6" cy="156.7" rx="1.3" ry="0.6" fill="#661a08"/>
<ellipse cx="439.2" cy="163.1" rx="1.2" ry="0.5" fill="#661a08"/>
<ellipse cx="500.1" cy="178.3" rx="1.4" ry="0.6" fill="#661a08"/>
<ellipse cx="521.4" cy="211.9" rx="1.0" ry="0.4" fill="#4a1004"/>
<ellipse cx="463.8" cy="204.4" rx="1.4" ry="0.6" fill="#661a08"/>
<ellipse cx="498.4" cy="214.4" rx="1.1" ry="0.5" fill="#862a0c"/>
<ellipse cx="461.6" cy="183.1" rx="1.1" ry="0.5" fill="#5a1606"/>
<ellipse cx="497.6" cy="199.4" rx="1.3" ry="0.6" fill="#a03816"/>
<ellipse cx="494.4" cy="214.7" rx="1.3" ry="0.6" fill="#5a1606"/>
<ellipse cx="466.6" cy="167.6" rx="1.3" ry="0.6" fill="#661a08"/>
<ellipse cx="463.9" cy="245.7" rx="0.8" ry="0.3" fill="#8e2c10"/>
<ellipse cx="455.9" cy="228.7" rx="1.4" ry="0.6" fill="#5a1606"/>
<ellipse cx="523.0" cy="200.3" rx="1.1" ry="0.5" fill="#b04416"/>
<ellipse cx="484.6" cy="197.1" rx="0.8" ry="0.4" fill="#4a1004"/>
<ellipse cx="523.5" cy="213.9" rx="1.4" ry="0.6" fill="#4a1004"/>
<ellipse cx="447.9" cy="216.7" rx="1.3" ry="0.6" fill="#5a1606"/>
<ellipse cx="443.4" cy="194.0" rx="1.1" ry="0.5" fill="#b04416"/>
<ellipse cx="501.0" cy="199.0" rx="1.4" ry="0.6" fill="#862a0c"/>
<ellipse cx="470.0" cy="244.7" rx="0.7" ry="0.3" fill="#8e2c10"/>
<ellipse cx="444.4" cy="163.7" rx="0.9" ry="0.4" fill="#4a1004"/>
<ellipse cx="419.9" cy="225.8" rx="1.2" ry="0.5" fill="#a03816"/>
<ellipse cx="456.9" cy="169.0" rx="1.3" ry="0.6" fill="#661a08"/>
<ellipse cx="498.6" cy="248.1" rx="1.1" ry="0.5" fill="#5a1606"/>
<ellipse cx="518.7" cy="206.5" rx="0.9" ry="0.4" fill="#862a0c"/>
<ellipse cx="415.5" cy="171.9" rx="0.8" ry="0.3" fill="#661a08"/>
<ellipse cx="516.7" cy="198.3" rx="1.1" ry="0.5" fill="#661a08"/>
<ellipse cx="454.8" cy="237.7" rx="0.7" ry="0.3" fill="#a03816"/>
<ellipse cx="526.0" cy="200.0" rx="1.0" ry="0.4" fill="#4a1004"/>
<ellipse cx="443.4" cy="231.6" rx="1.2" ry="0.5" fill="#661a08"/>
<ellipse cx="428.3" cy="156.0" rx="1.1" ry="0.5" fill="#8e2c10"/>
<ellipse cx="436.6" cy="196.6" rx="1.4" ry="0.6" fill="#8e2c10"/>
<ellipse cx="479.7" cy="235.8" rx="1.1" ry="0.5" fill="#4a1004"/>
<ellipse cx="526.9" cy="187.1" rx="1.0" ry="0.4" fill="#4a1004"/>
<ellipse cx="398.8" cy="207.5" rx="0.9" ry="0.4" fill="#8e2c10"/>
<ellipse cx="479.0" cy="247.9" rx="1.2" ry="0.5" fill="#a03816"/>
<ellipse cx="441.8" cy="166.1" rx="0.8" ry="0.4" fill="#4a1004"/>
<ellipse cx="413.8" cy="168.4" rx="1.1" ry="0.5" fill="#5a1606"/>
<ellipse cx="393.7" cy="208.1" rx="0.8" ry="0.3" fill="#8e2c10"/>
<ellipse cx="516.6" cy="191.3" rx="0.7" ry="0.3" fill="#8e2c10"/>
<ellipse cx="395.5" cy="190.5" rx="1.2" ry="0.5" fill="#8e2c10"/>
<ellipse cx="472.3" cy="191.4" rx="1.1" ry="0.5" fill="#661a08"/>
<ellipse cx="511.5" cy="190.3" rx="0.8" ry="0.4" fill="#8e2c10"/>
<ellipse cx="468.7" cy="242.7" rx="0.7" ry="0.3" fill="#4a1004"/>
<ellipse cx="443.3" cy="150.8" rx="1.4" ry="0.6" fill="#b04416"/>
<ellipse cx="432.4" cy="160.2" rx="1.1" ry="0.5" fill="#5a1606"/>
<ellipse cx="470.2" cy="188.8" rx="1.3" ry="0.6" fill="#b04416"/>
<ellipse cx="417.1" cy="171.4" rx="0.6" ry="0.3" fill="#862a0c"/>
<ellipse cx="494.2" cy="221.4" rx="1.3" ry="0.6" fill="#862a0c"/>
<ellipse cx="437.3" cy="213.1" rx="1.1" ry="0.5" fill="#8e2c10"/>
<ellipse cx="464.7" cy="166.5" rx="1.1" ry="0.5" fill="#b04416"/>
<ellipse cx="497.2" cy="189.1" rx="1.3" ry="0.6" fill="#b04416"/>
<ellipse cx="415.0" cy="199.0" rx="0.8" ry="0.4" fill="#a03816"/>
<ellipse cx="509.6" cy="206.8" rx="0.9" ry="0.4" fill="#661a08"/>
<ellipse cx="462.2" cy="223.4" rx="1.3" ry="0.6" fill="#4a1004"/>
<ellipse cx="458.8" cy="190.2" rx="0.7" ry="0.3" fill="#8e2c10"/>
<ellipse cx="495.0" cy="229.0" rx="1.1" ry="0.5" fill="#661a08"/>
<ellipse cx="473.4" cy="169.9" rx="1.1" ry="0.5" fill="#862a0c"/>
<ellipse cx="403.5" cy="209.7" rx="1.2" ry="0.5" fill="#862a0c"/>
<ellipse cx="416.5" cy="180.6" rx="0.7" ry="0.3" fill="#a03816"/>
<ellipse cx="429.5" cy="161.8" rx="1.1" ry="0.5" fill="#b04416"/>
<ellipse cx="477.5" cy="255.5" rx="1.3" ry="0.6" fill="#4a1004"/>
<ellipse cx="456.2" cy="214.2" rx="1.2" ry="0.5" fill="#862a0c"/>
<ellipse cx="412.7" cy="216.9" rx="0.9" ry="0.4" fill="#b04416"/>
<ellipse cx="420.7" cy="184.7" rx="1.3" ry="0.6" fill="#a03816"/>
<ellipse cx="512.5" cy="184.2" rx="1.4" ry="0.6" fill="#4a1004"/>
<ellipse cx="484.6" cy="225.3" rx="0.7" ry="0.3" fill="#862a0c"/>
<ellipse cx="455.0" cy="196.3" rx="1.4" ry="0.6" fill="#4a1004"/>
<ellipse cx="478.5" cy="173.4" rx="1.1" ry="0.5" fill="#862a0c"/>
<ellipse cx="469.4" cy="210.5" rx="0.8" ry="0.4" fill="#b04416"/>
<ellipse cx="507.0" cy="195.2" rx="1.0" ry="0.4" fill="#862a0c"/>
<ellipse cx="430.6" cy="230.2" rx="0.9" ry="0.4" fill="#b04416"/>
<ellipse cx="532.9" cy="198.5" rx="0.9" ry="0.4" fill="#b04416"/>
<ellipse cx="418.1" cy="204.6" rx="0.8" ry="0.3" fill="#a03816"/>
<ellipse cx="461.2" cy="170.3" rx="0.7" ry="0.3" fill="#862a0c"/>
<ellipse cx="466.5" cy="227.0" rx="1.3" ry="0.6" fill="#4a1004"/>
<ellipse cx="406.1" cy="214.2" rx="0.7" ry="0.3" fill="#b04416"/>
<ellipse cx="434.7" cy="150.5" rx="0.7" ry="0.3" fill="#8e2c10"/>
<ellipse cx="448.1" cy="228.5" rx="1.1" ry="0.5" fill="#a03816"/>
<ellipse cx="434.7" cy="184.6" rx="0.7" ry="0.3" fill="#a03816"/>
<ellipse cx="443.7" cy="192.2" rx="1.4" ry="0.6" fill="#4a1004"/>
<ellipse cx="496.3" cy="196.5" rx="0.7" ry="0.3" fill="#661a08"/>
<ellipse cx="476.1" cy="181.6" rx="0.8" ry="0.3" fill="#661a08"/>
<ellipse cx="486.1" cy="212.5" rx="0.9" ry="0.4" fill="#4a1004"/>
<ellipse cx="452.3" cy="231.7" rx="1.1" ry="0.5" fill="#5a1606"/>
<ellipse cx="467.0" cy="217.7" rx="1.2" ry="0.5" fill="#a03816"/>
<ellipse cx="495.7" cy="249.4" rx="0.7" ry="0.3" fill="#8e2c10"/>
<ellipse cx="487.0" cy="187.8" rx="1.1" ry="0.5" fill="#b04416"/>
<ellipse cx="400.9" cy="199.7" rx="1.1" ry="0.5" fill="#8e2c10"/>
<ellipse cx="479.6" cy="247.6" rx="1.0" ry="0.4" fill="#a03816"/>
<ellipse cx="470.0" cy="170.7" rx="1.1" ry="0.5" fill="#b04416"/>
<ellipse cx="490.4" cy="192.3" rx="0.8" ry="0.4" fill="#a03816"/>
<ellipse cx="499.7" cy="203.5" rx="0.8" ry="0.3" fill="#5a1606"/>
<ellipse cx="503.8" cy="233.7" rx="0.7" ry="0.3" fill="#661a08"/>
<ellipse cx="466.6" cy="241.0" rx="0.9" ry="0.4" fill="#8e2c10"/>
<ellipse cx="440.9" cy="205.4" rx="1.1" ry="0.5" fill="#661a08"/>
<ellipse cx="529.6" cy="210.7" rx="1.3" ry="0.6" fill="#661a08"/>
<ellipse cx="512.9" cy="230.8" rx="0.7" ry="0.3" fill="#862a0c"/>
<ellipse cx="412.8" cy="172.3" rx="1.1" ry="0.5" fill="#a03816"/>
<ellipse cx="419.4" cy="181.5" rx="1.0" ry="0.4" fill="#b04416"/>
<ellipse cx="400.4" cy="205.3" rx="1.3" ry="0.6" fill="#5a1606"/>
<ellipse cx="426.9" cy="237.7" rx="0.8" ry="0.3" fill="#5a1606"/>
<ellipse cx="470.2" cy="165.2" rx="0.7" ry="0.3" fill="#5a1606"/>
<ellipse cx="460.1" cy="238.2" rx="0.7" ry="0.3" fill="#862a0c"/>
<ellipse cx="511.0" cy="202.1" rx="1.2" ry="0.5" fill="#a03816"/>
<ellipse cx="522.1" cy="211.5" rx="0.7" ry="0.3" fill="#b04416"/>
<ellipse cx="485.2" cy="175.2" rx="1.2" ry="0.5" fill="#4a1004"/>
<ellipse cx="499.6" cy="234.9" rx="1.0" ry="0.4" fill="#862a0c"/>
<ellipse cx="467.9" cy="161.4" rx="0.9" ry="0.4" fill="#b04416"/>
<ellipse cx="438.5" cy="178.0" rx="1.3" ry="0.6" fill="#8e2c10"/>
<ellipse cx="421.7" cy="200.9" rx="1.0" ry="0.4" fill="#661a08"/>
<ellipse cx="477.4" cy="237.9" rx="0.7" ry="0.3" fill="#8e2c10"/>
<ellipse cx="462.4" cy="203.6" rx="1.0" ry="0.4" fill="#b04416"/>
<ellipse cx="482.5" cy="182.3" rx="0.7" ry="0.3" fill="#b04416"/>
<ellipse cx="443.8" cy="205.1" rx="1.2" ry="0.5" fill="#5a1606"/>
<ellipse cx="487.2" cy="231.1" rx="1.1" ry="0.5" fill="#661a08"/>
<ellipse cx="400.0" cy="193.5" rx="0.9" ry="0.4" fill="#5a1606"/>
<ellipse cx="405.5" cy="216.2" rx="0.8" ry="0.3" fill="#8e2c10"/>
<ellipse cx="421.7" cy="211.6" rx="1.0" ry="0.5" fill="#b04416"/>
<ellipse cx="470.4" cy="246.3" rx="1.3" ry="0.6" fill="#a03816"/>
<ellipse cx="511.3" cy="214.0" rx="0.9" ry="0.4" fill="#862a0c"/>
<ellipse cx="498.1" cy="190.4" rx="1.3" ry="0.6" fill="#8e2c10"/>
<ellipse cx="494.6" cy="195.2" rx="1.1" ry="0.5" fill="#5a1606"/>
<ellipse cx="479.7" cy="252.8" rx="1.4" ry="0.6" fill="#862a0c"/>
<ellipse cx="425.6" cy="233.3" rx="0.7" ry="0.3" fill="#862a0c"/>
<ellipse cx="436.4" cy="224.8" rx="1.3" ry="0.6" fill="#4a1004"/>
<ellipse cx="481.2" cy="216.6" rx="0.6" ry="0.3" fill="#a03816"/>
<ellipse cx="410.0" cy="227.2" rx="1.0" ry="0.4" fill="#a03816"/>
<ellipse cx="527.4" cy="211.1" rx="0.6" ry="0.3" fill="#862a0c"/>
<ellipse cx="431.1" cy="189.1" rx="0.9" ry="0.4" fill="#8e2c10"/>
<ellipse cx="460.2" cy="245.7" rx="0.8" ry="0.4" fill="#661a08"/>
<ellipse cx="482.0" cy="206.1" rx="0.8" ry="0.4" fill="#862a0c"/>
<ellipse cx="493.3" cy="228.0" rx="1.2" ry="0.5" fill="#5a1606"/>
<ellipse cx="392.2" cy="202.5" rx="1.4" ry="0.6" fill="#b04416"/>
<ellipse cx="425.6" cy="180.7" rx="0.9" ry="0.4" fill="#4a1004"/>
<ellipse cx="488.6" cy="233.2" rx="1.4" ry="0.6" fill="#5a1606"/>
<ellipse cx="423.7" cy="160.4" rx="1.3" ry="0.6" fill="#862a0c"/>
<ellipse cx="457.6" cy="177.5" rx="1.3" ry="0.6" fill="#4a1004"/>
<ellipse cx="474.2" cy="233.7" rx="1.3" ry="0.6" fill="#b04416"/>
<ellipse cx="392.9" cy="217.5" rx="0.9" ry="0.4" fill="#5a1606"/>
<ellipse cx="447.2" cy="220.4" rx="1.1" ry="0.5" fill="#8e2c10"/>
<ellipse cx="429.7" cy="209.2" rx="1.0" ry="0.4" fill="#4a1004"/>
<ellipse cx="418.6" cy="214.3" rx="1.3" ry="0.6" fill="#b04416"/>
<ellipse cx="408.5" cy="183.3" rx="0.8" ry="0.4" fill="#b04416"/>
<ellipse cx="442.2" cy="163.6" rx="1.1" ry="0.5" fill="#b04416"/>
<ellipse cx="434.4" cy="227.8" rx="1.4" ry="0.6" fill="#8e2c10"/>
<ellipse cx="411.9" cy="205.0" rx="1.2" ry="0.5" fill="#5a1606"/>
<ellipse cx="493.0" cy="230.7" rx="1.1" ry="0.5" fill="#5a1606"/>
<ellipse cx="464.1" cy="182.3" rx="1.0" ry="0.5" fill="#a03816"/>
<ellipse cx="440.8" cy="191.3" rx="0.7" ry="0.3" fill="#8e2c10"/>
<ellipse cx="409.8" cy="220.8" rx="0.9" ry="0.4" fill="#661a08"/>
<ellipse cx="526.9" cy="212.1" rx="0.8" ry="0.3" fill="#862a0c"/>
<ellipse cx="484.8" cy="219.6" rx="1.2" ry="0.5" fill="#a03816"/>
<ellipse cx="459.2" cy="162.7" rx="1.1" ry="0.5" fill="#862a0c"/>
<ellipse cx="397.7" cy="217.6" rx="1.0" ry="0.4" fill="#4a1004"/>
<ellipse cx="490.1" cy="219.0" rx="0.8" ry="0.3" fill="#a03816"/>
<ellipse cx="461.1" cy="219.6" rx="1.1" ry="0.5" fill="#862a0c"/>
<ellipse cx="467.0" cy="195.1" rx="1.0" ry="0.4" fill="#661a08"/>
<ellipse cx="445.3" cy="168.7" rx="1.3" ry="0.6" fill="#862a0c"/>
<ellipse cx="432.8" cy="236.7" rx="1.3" ry="0.6" fill="#8e2c10"/>
<ellipse cx="434.1" cy="150.2" rx="1.4" ry="0.6" fill="#4a1004"/>
<ellipse cx="449.9" cy="206.4" rx="1.1" ry="0.5" fill="#661a08"/>
<ellipse cx="425.1" cy="186.6" rx="0.8" ry="0.3" fill="#b04416"/>
<ellipse cx="406.2" cy="198.5" rx="1.0" ry="0.4" fill="#b04416"/>
<ellipse cx="491.6" cy="209.8" rx="1.1" ry="0.5" fill="#862a0c"/>
<ellipse cx="506.4" cy="191.8" rx="1.4" ry="0.6" fill="#862a0c"/>
<ellipse cx="458.0" cy="162.4" rx="1.0" ry="0.5" fill="#661a08"/>
<ellipse cx="505.8" cy="180.3" rx="1.3" ry="0.6" fill="#8e2c10"/>
<ellipse cx="477.7" cy="248.0" rx="0.9" ry="0.4" fill="#b04416"/>
<ellipse cx="469.1" cy="207.8" rx="1.1" ry="0.5" fill="#a03816"/>
<ellipse cx="479.6" cy="196.3" rx="0.7" ry="0.3" fill="#8e2c10"/>
<ellipse cx="408.8" cy="203.6" rx="0.7" ry="0.3" fill="#661a08"/>
<ellipse cx="455.0" cy="204.9" rx="0.7" ry="0.3" fill="#a03816"/>
<ellipse cx="489.7" cy="232.1" rx="1.2" ry="0.5" fill="#b04416"/>
<ellipse cx="438.2" cy="207.7" rx="1.2" ry="0.5" fill="#a03816"/>
<ellipse cx="429.0" cy="208.0" rx="0.8" ry="0.4" fill="#4a1004"/>
<ellipse cx="401.5" cy="208.0" rx="1.3" ry="0.6" fill="#a03816"/>
<ellipse cx="385.0" cy="218.9" rx="0.8" ry="0.4" fill="#4a1004"/>
<ellipse cx="458.5" cy="195.8" rx="0.8" ry="0.4" fill="#b04416"/>
<ellipse cx="470.9" cy="216.8" rx="0.7" ry="0.3" fill="#661a08"/>
<ellipse cx="496.3" cy="202.3" rx="0.9" ry="0.4" fill="#b04416"/>
<ellipse cx="491.6" cy="198.9" rx="0.8" ry="0.3" fill="#5a1606"/>
<ellipse cx="451.5" cy="188.0" rx="0.6" ry="0.3" fill="#661a08"/>
<ellipse cx="412.0" cy="196.8" rx="1.4" ry="0.6" fill="#4a1004"/>
<ellipse cx="473.2" cy="217.1" rx="1.2" ry="0.5" fill="#4a1004"/>
<ellipse cx="454.0" cy="206.4" rx="0.7" ry="0.3" fill="#661a08"/>
<ellipse cx="432.0" cy="225.5" rx="1.2" ry="0.5" fill="#5a1606"/>
<ellipse cx="452.6" cy="211.7" rx="0.9" ry="0.4" fill="#a03816"/>
<ellipse cx="428.5" cy="165.2" rx="1.3" ry="0.6" fill="#8e2c10"/>
<ellipse cx="397.0" cy="188.8" rx="0.8" ry="0.3" fill="#862a0c"/>
<ellipse cx="512.4" cy="206.6" rx="1.1" ry="0.5" fill="#661a08"/>
<ellipse cx="502.3" cy="239.1" rx="0.8" ry="0.4" fill="#a03816"/>
<ellipse cx="461.9" cy="222.1" rx="0.7" ry="0.3" fill="#661a08"/>
<ellipse cx="484.7" cy="212.4" rx="0.7" ry="0.3" fill="#b04416"/>
<ellipse cx="410.0" cy="176.6" rx="1.2" ry="0.5" fill="#862a0c"/>
<ellipse cx="469.4" cy="183.9" rx="0.8" ry="0.3" fill="#661a08"/>
<ellipse cx="474.2" cy="236.9" rx="1.0" ry="0.4" fill="#8e2c10"/>
<ellipse cx="467.8" cy="244.6" rx="0.7" ry="0.3" fill="#4a1004"/>
<ellipse cx="479.4" cy="212.5" rx="0.7" ry="0.3" fill="#4a1004"/>
<ellipse cx="418.4" cy="164.8" rx="1.3" ry="0.6" fill="#5a1606"/>
<ellipse cx="528.3" cy="195.5" rx="1.3" ry="0.6" fill="#b04416"/>
<ellipse cx="487.8" cy="183.6" rx="1.3" ry="0.6" fill="#b04416"/>
<ellipse cx="481.3" cy="232.1" rx="0.8" ry="0.4" fill="#4a1004"/>
<ellipse cx="436.0" cy="171.7" rx="1.1" ry="0.5" fill="#5a1606"/>
<ellipse cx="459.8" cy="211.6" rx="0.9" ry="0.4" fill="#4a1004"/>
<ellipse cx="471.8" cy="201.9" rx="1.0" ry="0.5" fill="#b04416"/>
<ellipse cx="458.2" cy="200.6" rx="1.3" ry="0.6" fill="#4a1004"/>
<ellipse cx="450.8" cy="211.8" rx="1.2" ry="0.5" fill="#862a0c"/>
<ellipse cx="420.2" cy="187.0" rx="0.9" ry="0.4" fill="#8e2c10"/>
<ellipse cx="508.0" cy="205.1" rx="1.0" ry="0.4" fill="#a03816"/>
<ellipse cx="483.4" cy="223.4" rx="1.4" ry="0.6" fill="#4a1004"/>
<ellipse cx="482.5" cy="258.0" rx="0.6" ry="0.3" fill="#b04416"/>
<ellipse cx="388.5" cy="217.2" rx="1.4" ry="0.6" fill="#8e2c10"/>
<ellipse cx="447.7" cy="238.4" rx="1.1" ry="0.5" fill="#a03816"/>
<ellipse cx="497.7" cy="223.9" rx="1.1" ry="0.5" fill="#661a08"/>
<ellipse cx="513.5" cy="227.4" rx="0.6" ry="0.3" fill="#862a0c"/>
<ellipse cx="481.3" cy="185.7" rx="1.1" ry="0.5" fill="#8e2c10"/>
<ellipse cx="403.2" cy="225.7" rx="0.7" ry="0.3" fill="#8e2c10"/>
<ellipse cx="482.9" cy="233.7" rx="1.0" ry="0.4" fill="#862a0c"/>
<ellipse cx="449.2" cy="217.6" rx="1.1" ry="0.5" fill="#4a1004"/>
<ellipse cx="433.3" cy="217.3" rx="1.1" ry="0.5" fill="#8e2c10"/>
<ellipse cx="388.8" cy="219.1" rx="1.2" ry="0.5" fill="#862a0c"/>
<ellipse cx="480.2" cy="179.4" rx="1.4" ry="0.6" fill="#862a0c"/>
<ellipse cx="430.4" cy="214.0" rx="1.0" ry="0.4" fill="#862a0c"/>
<ellipse cx="470.7" cy="211.8" rx="1.1" ry="0.5" fill="#a03816"/>
<ellipse cx="477.2" cy="249.2" rx="0.8" ry="0.3" fill="#862a0c"/>
<ellipse cx="475.0" cy="183.0" rx="1.3" ry="0.6" fill="#661a08"/>
<ellipse cx="522.4" cy="193.4" rx="1.4" ry="0.6" fill="#4a1004"/>
<ellipse cx="399.4" cy="208.6" rx="0.8" ry="0.4" fill="#4a1004"/>
<ellipse cx="437.7" cy="212.4" rx="1.0" ry="0.5" fill="#a03816"/>
<ellipse cx="457.4" cy="200.1" rx="1.2" ry="0.5" fill="#b04416"/>
<ellipse cx="453.8" cy="174.1" rx="1.1" ry="0.5" fill="#661a08"/>
<ellipse cx="397.1" cy="198.4" rx="0.8" ry="0.3" fill="#b04416"/>
<ellipse cx="463.5" cy="241.0" rx="0.9" ry="0.4" fill="#5a1606"/>
<ellipse cx="402.2" cy="184.7" rx="1.0" ry="0.4" fill="#5a1606"/>
<ellipse cx="476.6" cy="219.9" rx="1.4" ry="0.6" fill="#862a0c"/>
<ellipse cx="430.9" cy="239.4" rx="1.0" ry="0.5" fill="#a03816"/>
<ellipse cx="481.6" cy="224.1" rx="1.0" ry="0.4" fill="#862a0c"/>
<ellipse cx="494.7" cy="227.3" rx="1.0" ry="0.4" fill="#862a0c"/>
<ellipse cx="458.4" cy="203.4" rx="0.9" ry="0.4" fill="#a03816"/>
<ellipse cx="434.0" cy="196.4" rx="1.0" ry="0.4" fill="#661a08"/>
<ellipse cx="405.1" cy="194.3" rx="1.4" ry="0.6" fill="#5a1606"/>
<ellipse cx="478.4" cy="251.9" rx="1.4" ry="0.6" fill="#5a1606"/>
<ellipse cx="502.6" cy="179.9" rx="1.3" ry="0.6" fill="#8e2c10"/>
<ellipse cx="478.6" cy="198.1" rx="1.1" ry="0.5" fill="#a03816"/>
<ellipse cx="502.6" cy="180.3" rx="1.4" ry="0.6" fill="#862a0c"/>
<ellipse cx="472.4" cy="210.7" rx="0.7" ry="0.3" fill="#b04416"/>
<ellipse cx="430.4" cy="164.0" rx="0.6" ry="0.3" fill="#5a1606"/>
<ellipse cx="416.1" cy="205.9" rx="1.1" ry="0.5" fill="#661a08"/>
<ellipse cx="497.8" cy="224.8" rx="1.0" ry="0.4" fill="#5a1606"/>
<ellipse cx="497.0" cy="248.1" rx="0.8" ry="0.3" fill="#5a1606"/>
<ellipse cx="429.1" cy="237.2" rx="1.1" ry="0.5" fill="#8e2c10"/>
<ellipse cx="395.8" cy="200.4" rx="0.9" ry="0.4" fill="#a03816"/>
<ellipse cx="469.3" cy="184.4" rx="1.4" ry="0.6" fill="#b04416"/>
<ellipse cx="484.8" cy="250.0" rx="0.9" ry="0.4" fill="#b04416"/>
<ellipse cx="491.3" cy="174.1" rx="1.3" ry="0.6" fill="#8e2c10"/>
<ellipse cx="489.5" cy="219.2" rx="1.3" ry="0.6" fill="#b04416"/>
<ellipse cx="442.5" cy="205.7" rx="0.8" ry="0.4" fill="#4a1004"/>
<ellipse cx="513.1" cy="197.3" rx="0.9" ry="0.4" fill="#b04416"/>
<ellipse cx="454.2" cy="177.7" rx="0.7" ry="0.3" fill="#5a1606"/>
<ellipse cx="456.7" cy="227.2" rx="1.4" ry="0.6" fill="#8e2c10"/>
<ellipse cx="428.8" cy="148.9" rx="1.2" ry="0.5" fill="#862a0c"/>
<ellipse cx="471.3" cy="172.1" rx="1.1" ry="0.5" fill="#862a0c"/>
<ellipse cx="480.2" cy="179.8" rx="0.9" ry="0.4" fill="#661a08"/>
<ellipse cx="395.7" cy="222.5" rx="1.2" ry="0.5" fill="#8e2c10"/>
<ellipse cx="454.8" cy="221.4" rx="0.9" ry="0.4" fill="#a03816"/>
<ellipse cx="383.0" cy="206.3" rx="1.3" ry="0.6" fill="#4a1004"/>
<ellipse cx="444.4" cy="198.9" rx="1.0" ry="0.4" fill="#a03816"/>
<ellipse cx="498.0" cy="231.2" rx="1.4" ry="0.6" fill="#5a1606"/>
<ellipse cx="425.4" cy="179.4" rx="0.8" ry="0.4" fill="#a03816"/>
<ellipse cx="448.7" cy="203.3" rx="0.8" ry="0.3" fill="#661a08"/>
<ellipse cx="417.5" cy="203.2" rx="0.8" ry="0.3" fill="#a03816"/>
<ellipse cx="463.3" cy="191.5" rx="1.4" ry="0.6" fill="#8e2c10"/>
<ellipse cx="479.1" cy="211.5" rx="1.0" ry="0.5" fill="#a03816"/>
<ellipse cx="480.7" cy="170.9" rx="0.7" ry="0.3" fill="#661a08"/>
<ellipse cx="451.5" cy="165.7" rx="0.9" ry="0.4" fill="#862a0c"/>
<ellipse cx="491.5" cy="250.4" rx="1.4" ry="0.6" fill="#661a08"/>
<ellipse cx="440.1" cy="227.4" rx="0.7" ry="0.3" fill="#a03816"/>
<ellipse cx="440.2" cy="160.1" rx="0.7" ry="0.3" fill="#b04416"/>
<ellipse cx="393.5" cy="206.0" rx="1.4" ry="0.6" fill="#4a1004"/>
<ellipse cx="426.8" cy="158.0" rx="0.7" ry="0.3" fill="#a03816"/>
<ellipse cx="513.8" cy="211.0" rx="0.8" ry="0.4" fill="#661a08"/>
<ellipse cx="507.1" cy="208.3" rx="1.0" ry="0.4" fill="#b04416"/>
<ellipse cx="460.1" cy="232.2" rx="1.1" ry="0.5" fill="#5a1606"/>
<ellipse cx="471.6" cy="192.6" rx="1.1" ry="0.5" fill="#b04416"/>
<ellipse cx="455.7" cy="230.6" rx="1.0" ry="0.4" fill="#4a1004"/>
<ellipse cx="501.0" cy="221.5" rx="1.3" ry="0.5" fill="#b04416"/>
<ellipse cx="476.8" cy="204.4" rx="0.9" ry="0.4" fill="#5a1606"/>
<ellipse cx="461.7" cy="203.2" rx="1.0" ry="0.4" fill="#5a1606"/>
<ellipse cx="508.8" cy="193.3" rx="1.4" ry="0.6" fill="#b04416"/>
<ellipse cx="426.6" cy="198.9" rx="0.9" ry="0.4" fill="#a03816"/>
<ellipse cx="486.3" cy="200.7" rx="1.3" ry="0.6" fill="#8e2c10"/>
<ellipse cx="452.3" cy="215.9" rx="0.9" ry="0.4" fill="#8e2c10"/>
<ellipse cx="471.7" cy="166.5" rx="1.2" ry="0.5" fill="#5a1606"/>
<ellipse cx="417.1" cy="185.5" rx="1.0" ry="0.4" fill="#661a08"/>
<ellipse cx="467.6" cy="234.4" rx="1.2" ry="0.5" fill="#862a0c"/>
<ellipse cx="411.9" cy="216.4" rx="1.3" ry="0.6" fill="#8e2c10"/>
<ellipse cx="425.6" cy="203.1" rx="0.8" ry="0.4" fill="#862a0c"/>
<ellipse cx="491.0" cy="251.2" rx="0.8" ry="0.3" fill="#8e2c10"/>
<ellipse cx="471.7" cy="178.3" rx="0.9" ry="0.4" fill="#a03816"/>
<ellipse cx="505.5" cy="182.4" rx="0.8" ry="0.3" fill="#862a0c"/>
<ellipse cx="426.4" cy="236.3" rx="0.8" ry="0.3" fill="#862a0c"/>
<ellipse cx="466.2" cy="204.2" rx="0.9" ry="0.4" fill="#a03816"/>
<ellipse cx="418.6" cy="182.5" rx="1.0" ry="0.5" fill="#5a1606"/>
<ellipse cx="411.5" cy="216.9" rx="0.8" ry="0.3" fill="#661a08"/>
<ellipse cx="456.1" cy="241.6" rx="0.6" ry="0.3" fill="#b04416"/>
<ellipse cx="480.4" cy="231.5" rx="1.0" ry="0.4" fill="#5a1606"/>
<ellipse cx="431.8" cy="210.3" rx="0.9" ry="0.4" fill="#4a1004"/>
<ellipse cx="424.6" cy="210.4" rx="0.9" ry="0.4" fill="#661a08"/>
<ellipse cx="421.3" cy="223.0" rx="1.1" ry="0.5" fill="#8e2c10"/>
<ellipse cx="433.0" cy="191.9" rx="1.1" ry="0.5" fill="#661a08"/>
<ellipse cx="387.7" cy="201.6" rx="1.0" ry="0.4" fill="#5a1606"/>
<ellipse cx="465.6" cy="198.6" rx="0.8" ry="0.3" fill="#a03816"/>
<ellipse cx="474.9" cy="256.4" rx="1.2" ry="0.5" fill="#5a1606"/>
<ellipse cx="430.4" cy="196.2" rx="0.8" ry="0.4" fill="#5a1606"/>
<ellipse cx="460.3" cy="217.8" rx="1.1" ry="0.5" fill="#4a1004"/>
<ellipse cx="422.9" cy="219.5" rx="1.3" ry="0.6" fill="#862a0c"/>
<ellipse cx="404.7" cy="187.0" rx="1.0" ry="0.4" fill="#4a1004"/>
<ellipse cx="464.9" cy="215.3" rx="1.0" ry="0.4" fill="#8e2c10"/>
<ellipse cx="519.9" cy="219.7" rx="0.8" ry="0.4" fill="#661a08"/>
<ellipse cx="497.3" cy="228.2" rx="1.1" ry="0.5" fill="#4a1004"/>
<ellipse cx="400.9" cy="217.6" rx="0.9" ry="0.4" fill="#b04416"/>
<ellipse cx="500.0" cy="228.5" rx="1.3" ry="0.6" fill="#4a1004"/>
<ellipse cx="456.3" cy="232.9" rx="0.8" ry="0.4" fill="#862a0c"/>
<ellipse cx="473.0" cy="198.5" rx="0.6" ry="0.3" fill="#4a1004"/>
<ellipse cx="535.8" cy="200.4" rx="0.7" ry="0.3" fill="#862a0c"/>
<ellipse cx="481.4" cy="198.4" rx="1.1" ry="0.5" fill="#862a0c"/>
<ellipse cx="505.0" cy="225.3" rx="1.3" ry="0.6" fill="#b04416"/>
<ellipse cx="417.7" cy="206.7" rx="1.3" ry="0.6" fill="#5a1606"/>
<ellipse cx="440.6" cy="154.2" rx="1.3" ry="0.6" fill="#5a1606"/>
<ellipse cx="445.5" cy="242.4" rx="1.0" ry="0.4" fill="#a03816"/>
<ellipse cx="495.7" cy="177.9" rx="0.7" ry="0.3" fill="#8e2c10"/>
<ellipse cx="447.4" cy="246.2" rx="1.1" ry="0.5" fill="#5a1606"/>
<ellipse cx="443.4" cy="212.8" rx="1.2" ry="0.5" fill="#5a1606"/>
<ellipse cx="409.0" cy="206.6" rx="0.9" ry="0.4" fill="#a03816"/>
<ellipse cx="437.0" cy="227.7" rx="0.8" ry="0.4" fill="#a03816"/>
<ellipse cx="424.2" cy="194.4" rx="0.7" ry="0.3" fill="#661a08"/>
<ellipse cx="460.5" cy="243.7" rx="1.1" ry="0.5" fill="#b04416"/>
<ellipse cx="509.5" cy="190.3" rx="1.3" ry="0.6" fill="#4a1004"/>
<ellipse cx="529.4" cy="190.2" rx="1.1" ry="0.5" fill="#661a08"/>
<ellipse cx="513.4" cy="214.0" rx="1.1" ry="0.5" fill="#8e2c10"/>
<ellipse cx="471.0" cy="217.5" rx="1.3" ry="0.6" fill="#b04416"/>
<ellipse cx="449.3" cy="210.4" rx="0.8" ry="0.3" fill="#661a08"/>
<ellipse cx="469.7" cy="234.7" rx="1.0" ry="0.4" fill="#8e2c10"/>
<ellipse cx="438.7" cy="189.3" rx="1.2" ry="0.5" fill="#b04416"/>
<ellipse cx="487.1" cy="192.0" rx="1.4" ry="0.6" fill="#5a1606"/>
<ellipse cx="425.7" cy="184.0" rx="1.0" ry="0.4" fill="#661a08"/>
<ellipse cx="509.1" cy="192.2" rx="0.7" ry="0.3" fill="#5a1606"/>
<ellipse cx="412.1" cy="206.0" rx="1.1" ry="0.5" fill="#862a0c"/>
<ellipse cx="503.8" cy="238.9" rx="1.1" ry="0.5" fill="#8e2c10"/>
<ellipse cx="448.7" cy="155.7" rx="0.9" ry="0.4" fill="#661a08"/>
<ellipse cx="463.8" cy="166.4" rx="0.6" ry="0.3" fill="#862a0c"/>
<ellipse cx="476.4" cy="182.6" rx="1.1" ry="0.5" fill="#a03816"/>
<ellipse cx="438.2" cy="160.2" rx="1.3" ry="0.6" fill="#862a0c"/>
<ellipse cx="500.2" cy="228.1" rx="0.7" ry="0.3" fill="#a03816"/>
<ellipse cx="474.5" cy="194.8" rx="1.4" ry="0.6" fill="#4a1004"/>
<ellipse cx="478.8" cy="196.3" rx="0.9" ry="0.4" fill="#b04416"/>
<ellipse cx="484.8" cy="229.1" rx="1.0" ry="0.4" fill="#b04416"/>
<ellipse cx="488.3" cy="228.4" rx="1.4" ry="0.6" fill="#a03816"/>
<ellipse cx="440.9" cy="243.7" rx="0.8" ry="0.3" fill="#b04416"/>
<ellipse cx="445.1" cy="166.2" rx="1.2" ry="0.5" fill="#a03816"/>
<ellipse cx="443.7" cy="211.3" rx="1.1" ry="0.5" fill="#b04416"/>
<ellipse cx="505.8" cy="195.4" rx="1.0" ry="0.4" fill="#661a08"/>
<ellipse cx="466.6" cy="184.4" rx="1.3" ry="0.6" fill="#661a08"/>
<ellipse cx="484.2" cy="205.3" rx="0.7" ry="0.3" fill="#8e2c10"/>
<ellipse cx="491.0" cy="210.2" rx="1.1" ry="0.5" fill="#b04416"/>
<ellipse cx="428.7" cy="155.6" rx="1.2" ry="0.5" fill="#661a08"/>
<ellipse cx="427.9" cy="174.0" rx="0.9" ry="0.4" fill="#a03816"/>
<ellipse cx="442.7" cy="193.8" rx="1.2" ry="0.5" fill="#862a0c"/>
<ellipse cx="462.6" cy="221.8" rx="0.9" ry="0.4" fill="#862a0c"/>
<ellipse cx="473.6" cy="249.6" rx="1.4" ry="0.6" fill="#4a1004"/>
<ellipse cx="497.8" cy="186.1" rx="1.0" ry="0.4" fill="#4a1004"/>
<ellipse cx="399.1" cy="219.8" rx="0.9" ry="0.4" fill="#661a08"/>
<ellipse cx="427.0" cy="172.5" rx="1.2" ry="0.5" fill="#b04416"/>
<ellipse cx="433.0" cy="191.7" rx="1.3" ry="0.6" fill="#8e2c10"/>
<ellipse cx="440.8" cy="177.4" rx="0.8" ry="0.4" fill="#a03816"/>
<ellipse cx="466.9" cy="253.2" rx="1.2" ry="0.5" fill="#5a1606"/>
<ellipse cx="418.6" cy="219.5" rx="1.2" ry="0.5" fill="#661a08"/>
<ellipse cx="385.8" cy="206.7" rx="1.3" ry="0.5" fill="#a03816"/>
<ellipse cx="384.8" cy="207.9" rx="0.7" ry="0.3" fill="#a03816"/>
<ellipse cx="416.9" cy="232.4" rx="1.2" ry="0.5" fill="#a03816"/>
<ellipse cx="447.3" cy="178.4" rx="0.9" ry="0.4" fill="#661a08"/>
<ellipse cx="404.6" cy="213.9" rx="1.3" ry="0.6" fill="#a03816"/>
<ellipse cx="447.3" cy="188.6" rx="1.4" ry="0.6" fill="#4a1004"/>
<ellipse cx="425.9" cy="201.6" rx="0.8" ry="0.3" fill="#b04416"/>
<ellipse cx="484.1" cy="187.7" rx="0.9" ry="0.4" fill="#4a1004"/>
<ellipse cx="496.3" cy="196.5" rx="1.1" ry="0.5" fill="#a03816"/>
<ellipse cx="435.6" cy="162.6" rx="1.2" ry="0.5" fill="#661a08"/>
<ellipse cx="439.0" cy="151.7" rx="1.2" ry="0.5" fill="#a03816"/>
<ellipse cx="459.2" cy="179.3" rx="1.1" ry="0.5" fill="#b04416"/>
<ellipse cx="487.1" cy="203.6" rx="1.1" ry="0.5" fill="#5a1606"/>
<ellipse cx="444.6" cy="202.5" rx="0.9" ry="0.4" fill="#a03816"/>
<ellipse cx="427.1" cy="230.2" rx="1.4" ry="0.6" fill="#862a0c"/>
<ellipse cx="501.9" cy="187.3" rx="1.0" ry="0.5" fill="#8e2c10"/>
<ellipse cx="430.0" cy="239.3" rx="1.0" ry="0.4" fill="#661a08"/>
<ellipse cx="516.4" cy="225.6" rx="0.9" ry="0.4" fill="#4a1004"/>
<ellipse cx="392.9" cy="220.4" rx="0.7" ry="0.3" fill="#4a1004"/>
<ellipse cx="512.2" cy="218.9" rx="1.2" ry="0.5" fill="#a03816"/>
<ellipse cx="502.6" cy="194.5" rx="1.4" ry="0.6" fill="#661a08"/>
<ellipse cx="504.9" cy="187.4" rx="1.3" ry="0.6" fill="#4a1004"/>
<ellipse cx="461.4" cy="188.4" rx="0.7" ry="0.3" fill="#b04416"/>
<ellipse cx="411.3" cy="175.2" rx="1.0" ry="0.4" fill="#8e2c10"/>
<ellipse cx="517.1" cy="215.7" rx="1.0" ry="0.4" fill="#862a0c"/>
<ellipse cx="501.7" cy="203.0" rx="0.7" ry="0.3" fill="#4a1004"/>
<ellipse cx="490.9" cy="191.0" rx="1.4" ry="0.6" fill="#b04416"/>
<ellipse cx="437.9" cy="213.8" rx="1.1" ry="0.5" fill="#a03816"/>
<ellipse cx="488.2" cy="224.9" rx="1.3" ry="0.5" fill="#661a08"/>
<ellipse cx="386.1" cy="216.1" rx="0.7" ry="0.3" fill="#5a1606"/>
<ellipse cx="445.9" cy="229.6" rx="0.9" ry="0.4" fill="#b04416"/>
<ellipse cx="532.5" cy="189.9" rx="1.3" ry="0.6" fill="#b04416"/>
<ellipse cx="517.2" cy="198.6" rx="0.7" ry="0.3" fill="#a03816"/>
<ellipse cx="445.5" cy="179.5" rx="0.9" ry="0.4" fill="#862a0c"/>
<ellipse cx="460.9" cy="208.2" rx="0.9" ry="0.4" fill="#b04416"/>
<ellipse cx="399.2" cy="200.6" rx="1.2" ry="0.5" fill="#a03816"/>
<ellipse cx="426.6" cy="168.7" rx="1.0" ry="0.4" fill="#4a1004"/>
<ellipse cx="496.9" cy="229.1" rx="1.0" ry="0.4" fill="#b04416"/>
<ellipse cx="456.7" cy="189.6" rx="1.3" ry="0.6" fill="#5a1606"/>
<ellipse cx="473.8" cy="216.2" rx="1.0" ry="0.4" fill="#4a1004"/>
<ellipse cx="428.5" cy="197.8" rx="0.6" ry="0.3" fill="#8e2c10"/>
<ellipse cx="384.1" cy="220.4" rx="1.2" ry="0.5" fill="#5a1606"/>
<ellipse cx="415.6" cy="191.1" rx="1.3" ry="0.6" fill="#8e2c10"/>
<ellipse cx="465.0" cy="209.0" rx="0.8" ry="0.4" fill="#a03816"/>
<ellipse cx="492.1" cy="245.4" rx="1.0" ry="0.4" fill="#862a0c"/>
<ellipse cx="468.0" cy="170.2" rx="1.4" ry="0.6" fill="#4a1004"/>
<ellipse cx="411.8" cy="200.7" rx="0.7" ry="0.3" fill="#8e2c10"/>
<ellipse cx="401.2" cy="201.2" rx="1.1" ry="0.5" fill="#a03816"/>
<ellipse cx="487.2" cy="251.5" rx="1.4" ry="0.6" fill="#661a08"/>
<ellipse cx="445.6" cy="184.5" rx="0.9" ry="0.4" fill="#661a08"/>
<ellipse cx="419.7" cy="173.3" rx="0.8" ry="0.3" fill="#661a08"/>
<ellipse cx="451.8" cy="234.9" rx="1.3" ry="0.6" fill="#862a0c"/>
<ellipse cx="399.7" cy="222.8" rx="1.3" ry="0.5" fill="#b04416"/>
<ellipse cx="452.1" cy="187.7" rx="0.7" ry="0.3" fill="#661a08"/>
<ellipse cx="453.7" cy="215.2" rx="0.8" ry="0.4" fill="#661a08"/>
<ellipse cx="428.1" cy="154.7" rx="1.2" ry="0.5" fill="#862a0c"/>
<ellipse cx="450.1" cy="242.3" rx="1.4" ry="0.6" fill="#862a0c"/>
<ellipse cx="427.5" cy="163.4" rx="1.1" ry="0.5" fill="#8e2c10"/>
<ellipse cx="442.8" cy="241.7" rx="0.7" ry="0.3" fill="#862a0c"/>
<ellipse cx="485.7" cy="184.2" rx="1.2" ry="0.5" fill="#5a1606"/>
<ellipse cx="478.2" cy="168.9" rx="1.0" ry="0.5" fill="#661a08"/>
<ellipse cx="493.1" cy="187.3" rx="0.8" ry="0.3" fill="#8e2c10"/>
<ellipse cx="386.6" cy="201.9" rx="1.1" ry="0.5" fill="#4a1004"/>
<ellipse cx="443.7" cy="187.0" rx="1.1" ry="0.5" fill="#b04416"/>
<ellipse cx="490.2" cy="254.6" rx="1.3" ry="0.6" fill="#661a08"/>
<ellipse cx="436.2" cy="216.9" rx="0.8" ry="0.3" fill="#a03816"/>
<ellipse cx="505.6" cy="192.7" rx="1.3" ry="0.6" fill="#5a1606"/>
<ellipse cx="396.8" cy="209.2" rx="1.2" ry="0.5" fill="#4a1004"/>
<ellipse cx="427.2" cy="234.5" rx="1.2" ry="0.5" fill="#b04416"/>
<ellipse cx="421.6" cy="185.3" rx="1.0" ry="0.5" fill="#661a08"/>
<ellipse cx="483.5" cy="186.9" rx="1.2" ry="0.5" fill="#b04416"/>
<ellipse cx="444.7" cy="239.8" rx="0.9" ry="0.4" fill="#862a0c"/>
<ellipse cx="404.1" cy="223.2" rx="1.4" ry="0.6" fill="#8e2c10"/>
<ellipse cx="438.0" cy="220.3" rx="1.1" ry="0.5" fill="#b04416"/>
<ellipse cx="498.4" cy="243.9" rx="1.3" ry="0.6" fill="#8e2c10"/>
<ellipse cx="495.5" cy="192.3" rx="0.8" ry="0.3" fill="#b04416"/>
<ellipse cx="482.3" cy="243.4" rx="1.3" ry="0.6" fill="#862a0c"/>
<ellipse cx="459.3" cy="177.0" rx="1.0" ry="0.4" fill="#862a0c"/>
<ellipse cx="482.8" cy="188.7" rx="0.7" ry="0.3" fill="#8e2c10"/>
<ellipse cx="412.1" cy="171.9" rx="1.4" ry="0.6" fill="#b04416"/>
<ellipse cx="445.8" cy="178.1" rx="1.3" ry="0.6" fill="#5a1606"/>
<ellipse cx="433.5" cy="230.9" rx="0.7" ry="0.3" fill="#4a1004"/>
<ellipse cx="505.4" cy="194.4" rx="0.6" ry="0.3" fill="#661a08"/>
<ellipse cx="405.2" cy="218.7" rx="1.3" ry="0.6" fill="#b04416"/>
<ellipse cx="440.0" cy="197.5" rx="0.9" ry="0.4" fill="#4a1004"/>
<ellipse cx="408.7" cy="227.8" rx="0.7" ry="0.3" fill="#661a08"/>
<ellipse cx="541.9" cy="195.5" rx="0.7" ry="0.3" fill="#661a08"/>
<ellipse cx="427.9" cy="215.2" rx="0.8" ry="0.4" fill="#661a08"/>
<ellipse cx="517.9" cy="224.7" rx="0.7" ry="0.3" fill="#862a0c"/>
<ellipse cx="463.9" cy="223.0" rx="0.7" ry="0.3" fill="#661a08"/>
<ellipse cx="425.3" cy="180.4" rx="0.7" ry="0.3" fill="#a03816"/>
<ellipse cx="407.6" cy="184.7" rx="1.0" ry="0.4" fill="#4a1004"/>
<ellipse cx="446.6" cy="230.2" rx="0.9" ry="0.4" fill="#8e2c10"/>
<ellipse cx="443.9" cy="190.0" rx="1.1" ry="0.5" fill="#661a08"/>
<ellipse cx="417.6" cy="196.0" rx="1.2" ry="0.5" fill="#b04416"/>
<ellipse cx="413.1" cy="188.5" rx="0.9" ry="0.4" fill="#5a1606"/>
<ellipse cx="410.0" cy="181.1" rx="1.4" ry="0.6" fill="#a03816"/>
<ellipse cx="451.7" cy="244.5" rx="0.8" ry="0.3" fill="#4a1004"/>
<ellipse cx="460.1" cy="241.0" rx="1.3" ry="0.6" fill="#8e2c10"/>
<ellipse cx="463.0" cy="183.0" rx="0.8" ry="0.4" fill="#4a1004"/>
<ellipse cx="385.2" cy="208.7" rx="0.6" ry="0.3" fill="#4a1004"/>
<ellipse cx="408.0" cy="185.5" rx="1.0" ry="0.4" fill="#862a0c"/>
<ellipse cx="474.5" cy="187.4" rx="1.3" ry="0.6" fill="#661a08"/>
<ellipse cx="411.5" cy="208.0" rx="0.7" ry="0.3" fill="#4a1004"/>
<ellipse cx="398.6" cy="192.0" rx="0.7" ry="0.3" fill="#661a08"/>
<ellipse cx="487.1" cy="229.6" rx="0.9" ry="0.4" fill="#862a0c"/>
<ellipse cx="458.5" cy="202.1" rx="1.4" ry="0.6" fill="#5a1606"/>
<ellipse cx="453.5" cy="160.1" rx="1.3" ry="0.6" fill="#661a08"/>
<ellipse cx="408.0" cy="210.3" rx="1.0" ry="0.4" fill="#5a1606"/>
<ellipse cx="458.3" cy="190.3" rx="1.3" ry="0.6" fill="#5a1606"/>
<ellipse cx="488.2" cy="252.2" rx="1.0" ry="0.4" fill="#b04416"/>
<ellipse cx="455.3" cy="241.4" rx="1.0" ry="0.4" fill="#862a0c"/>
<ellipse cx="432.1" cy="178.3" rx="1.3" ry="0.6" fill="#8e2c10"/>
<ellipse cx="504.8" cy="190.1" rx="1.1" ry="0.5" fill="#661a08"/>
<ellipse cx="488.0" cy="238.2" rx="0.9" ry="0.4" fill="#b04416"/>
<ellipse cx="430.9" cy="165.2" rx="1.3" ry="0.6" fill="#862a0c"/>
<ellipse cx="411.9" cy="225.9" rx="0.7" ry="0.3" fill="#a03816"/>
<ellipse cx="396.0" cy="205.3" rx="0.8" ry="0.3" fill="#661a08"/>
<ellipse cx="470.2" cy="189.8" rx="0.9" ry="0.4" fill="#b04416"/>
<ellipse cx="420.0" cy="190.7" rx="0.8" ry="0.3" fill="#8e2c10"/>
<ellipse cx="529.0" cy="209.6" rx="0.9" ry="0.4" fill="#5a1606"/>
<ellipse cx="515.8" cy="221.9" rx="0.9" ry="0.4" fill="#661a08"/>
<ellipse cx="496.9" cy="207.0" rx="1.1" ry="0.5" fill="#4a1004"/>
<ellipse cx="445.1" cy="200.4" rx="1.1" ry="0.5" fill="#4a1004"/>
<ellipse cx="472.9" cy="214.9" rx="1.0" ry="0.4" fill="#b04416"/>
<ellipse cx="460.7" cy="207.7" rx="1.3" ry="0.6" fill="#a03816"/>
<ellipse cx="495.1" cy="205.3" rx="0.9" ry="0.4" fill="#4a1004"/>
<ellipse cx="469.1" cy="184.3" rx="1.0" ry="0.4" fill="#5a1606"/>
<ellipse cx="501.8" cy="215.7" rx="0.7" ry="0.3" fill="#a03816"/>
<ellipse cx="430.5" cy="190.5" rx="1.4" ry="0.6" fill="#b04416"/>
<ellipse cx="492.9" cy="181.6" rx="0.9" ry="0.4" fill="#a03816"/>
<ellipse cx="473.6" cy="229.9" rx="0.9" ry="0.4" fill="#b04416"/>
<ellipse cx="408.9" cy="211.5" rx="1.3" ry="0.6" fill="#5a1606"/>
<ellipse cx="509.1" cy="215.0" rx="0.9" ry="0.4" fill="#5a1606"/>
<ellipse cx="438.5" cy="223.1" rx="1.2" ry="0.5" fill="#661a08"/>
<ellipse cx="463.4" cy="198.4" rx="1.3" ry="0.6" fill="#a03816"/>
<ellipse cx="459.0" cy="198.4" rx="0.8" ry="0.3" fill="#4a1004"/>
<ellipse cx="488.3" cy="216.3" rx="1.3" ry="0.6" fill="#8e2c10"/>
<ellipse cx="404.9" cy="219.0" rx="0.9" ry="0.4" fill="#5a1606"/>
<ellipse cx="456.6" cy="172.5" rx="0.9" ry="0.4" fill="#4a1004"/>
<ellipse cx="514.9" cy="213.0" rx="1.4" ry="0.6" fill="#5a1606"/>
<ellipse cx="440.7" cy="170.7" rx="1.1" ry="0.5" fill="#5a1606"/>
<ellipse cx="391.4" cy="218.9" rx="0.8" ry="0.4" fill="#5a1606"/>
<ellipse cx="427.0" cy="154.0" rx="1.0" ry="0.5" fill="#661a08"/>
<ellipse cx="463.3" cy="243.0" rx="1.2" ry="0.5" fill="#8e2c10"/>
<ellipse cx="460.3" cy="206.7" rx="1.4" ry="0.6" fill="#862a0c"/>
<ellipse cx="458.7" cy="223.8" rx="0.8" ry="0.3" fill="#862a0c"/>
<ellipse cx="461.6" cy="203.6" rx="1.0" ry="0.4" fill="#8e2c10"/>
<ellipse cx="485.3" cy="245.2" rx="0.9" ry="0.4" fill="#5a1606"/>
<ellipse cx="456.6" cy="231.9" rx="1.4" ry="0.6" fill="#a03816"/>
<ellipse cx="432.9" cy="201.8" rx="1.4" ry="0.6" fill="#661a08"/>
<ellipse cx="485.9" cy="169.8" rx="1.2" ry="0.5" fill="#4a1004"/>
<ellipse cx="420.5" cy="183.3" rx="0.7" ry="0.3" fill="#a03816"/>
<ellipse cx="426.7" cy="152.1" rx="1.3" ry="0.6" fill="#a03816"/>
<ellipse cx="450.6" cy="175.2" rx="1.2" ry="0.5" fill="#8e2c10"/>
<ellipse cx="441.1" cy="152.8" rx="1.0" ry="0.4" fill="#661a08"/>
<ellipse cx="457.7" cy="169.5" rx="1.2" ry="0.5" fill="#862a0c"/>
<ellipse cx="465.0" cy="218.8" rx="1.1" ry="0.5" fill="#b04416"/>
<ellipse cx="509.3" cy="180.3" rx="0.7" ry="0.3" fill="#4a1004"/>
<ellipse cx="487.2" cy="248.6" rx="1.0" ry="0.5" fill="#862a0c"/>
<ellipse cx="434.5" cy="234.0" rx="0.7" ry="0.3" fill="#a03816"/>
<ellipse cx="502.8" cy="188.8" rx="1.0" ry="0.4" fill="#5a1606"/>
<ellipse cx="405.1" cy="224.6" rx="1.0" ry="0.4" fill="#661a08"/>
<ellipse cx="440.0" cy="154.5" rx="0.9" ry="0.4" fill="#8e2c10"/>
<ellipse cx="388.6" cy="218.2" rx="1.3" ry="0.6" fill="#4a1004"/>
<ellipse cx="487.8" cy="210.1" rx="0.6" ry="0.3" fill="#862a0c"/>
<ellipse cx="446.6" cy="192.5" rx="0.9" ry="0.4" fill="#b04416"/>
<ellipse cx="457.8" cy="191.6" rx="1.2" ry="0.5" fill="#862a0c"/>
<ellipse cx="403.0" cy="204.5" rx="0.9" ry="0.4" fill="#5a1606"/>
<ellipse cx="407.7" cy="187.7" rx="0.7" ry="0.3" fill="#862a0c"/>
<ellipse cx="523.7" cy="199.6" rx="1.4" ry="0.6" fill="#661a08"/>
<ellipse cx="432.5" cy="229.8" rx="0.7" ry="0.3" fill="#4a1004"/>
<ellipse cx="508.9" cy="210.7" rx="1.4" ry="0.6" fill="#4a1004"/>
<ellipse cx="491.6" cy="244.8" rx="0.7" ry="0.3" fill="#862a0c"/>
<ellipse cx="471.0" cy="178.3" rx="1.1" ry="0.5" fill="#a03816"/>
<ellipse cx="443.7" cy="226.3" rx="0.7" ry="0.3" fill="#862a0c"/>
<ellipse cx="488.0" cy="193.8" rx="1.3" ry="0.6" fill="#4a1004"/>
<ellipse cx="490.6" cy="228.8" rx="1.1" ry="0.5" fill="#4a1004"/>
<ellipse cx="517.1" cy="220.1" rx="1.3" ry="0.6" fill="#5a1606"/>
<ellipse cx="383.2" cy="212.9" rx="1.1" ry="0.5" fill="#a03816"/>
<ellipse cx="399.3" cy="188.3" rx="0.7" ry="0.3" fill="#8e2c10"/>
<ellipse cx="446.9" cy="201.0" rx="1.3" ry="0.6" fill="#8e2c10"/>
<ellipse cx="495.3" cy="246.0" rx="0.9" ry="0.4" fill="#661a08"/>
<ellipse cx="479.6" cy="225.1" rx="0.9" ry="0.4" fill="#661a08"/>
<ellipse cx="387.6" cy="213.2" rx="0.9" ry="0.4" fill="#661a08"/>
<ellipse cx="487.2" cy="192.7" rx="1.3" ry="0.6" fill="#661a08"/>
<ellipse cx="444.0" cy="196.9" rx="1.4" ry="0.6" fill="#4a1004"/>
<ellipse cx="492.4" cy="177.2" rx="1.3" ry="0.6" fill="#661a08"/>
<ellipse cx="441.4" cy="184.1" rx="1.2" ry="0.5" fill="#b04416"/>
<ellipse cx="436.0" cy="152.4" rx="0.8" ry="0.4" fill="#661a08"/>
<ellipse cx="500.5" cy="224.2" rx="1.2" ry="0.5" fill="#4a1004"/>
<ellipse cx="504.4" cy="222.5" rx="0.8" ry="0.4" fill="#a03816"/>
<ellipse cx="479.5" cy="180.8" rx="1.3" ry="0.6" fill="#5a1606"/>
<ellipse cx="394.7" cy="219.1" rx="0.8" ry="0.4" fill="#5a1606"/>
<ellipse cx="482.6" cy="235.7" rx="1.2" ry="0.5" fill="#661a08"/>
<ellipse cx="426.6" cy="206.9" rx="0.9" ry="0.4" fill="#661a08"/>
<ellipse cx="480.7" cy="171.9" rx="0.8" ry="0.3" fill="#661a08"/>
<ellipse cx="390.8" cy="203.5" rx="1.2" ry="0.5" fill="#862a0c"/>
<ellipse cx="528.8" cy="199.1" rx="1.3" ry="0.6" fill="#4a1004"/>
<ellipse cx="433.9" cy="149.2" rx="1.0" ry="0.5" fill="#661a08"/>
<ellipse cx="501.3" cy="214.2" rx="1.2" ry="0.5" fill="#b04416"/>
<ellipse cx="432.5" cy="208.7" rx="0.7" ry="0.3" fill="#661a08"/>
<ellipse cx="446.8" cy="243.3" rx="0.8" ry="0.3" fill="#4a1004"/>
<ellipse cx="498.1" cy="246.8" rx="1.0" ry="0.5" fill="#8e2c10"/>
<ellipse cx="536.1" cy="196.4" rx="1.1" ry="0.5" fill="#4a1004"/>
<path d="M429.1,148.3C430.8,147.3 430.8,141.9 431.8,141.9C432.7,141.9 432.7,147.3 434.4,148.3Z" fill="url(#g23q)"/>
<path d="M437.0,153.9C440.0,152.3 440.0,143.2 441.7,143.2C443.3,143.2 443.3,152.3 446.3,153.9Z" fill="url(#g23p)"/>
<path d="M422.9,155.9C425.0,155.2 424.9,151.7 426.1,151.7C427.2,151.7 427.2,155.2 429.2,155.9Z" fill="url(#g23q)"/>
<path d="M427.5,159.1C430.6,157.0 430.5,145.0 432.2,145.0C434.0,145.0 433.9,157.0 437.0,159.1Z" fill="url(#g23p)"/>
<path d="M456.7,160.9C459.2,158.7 459.2,146.4 460.6,146.4C462.0,146.4 461.9,158.7 464.4,160.9Z" fill="url(#g23p)"/>
<path d="M416.1,161.9C418.6,160.1 418.6,149.9 420.0,149.9C421.4,149.9 421.4,160.1 423.9,161.9Z" fill="url(#g23p)"/>
<path d="M428.4,163.4C430.7,162.4 430.7,156.6 431.9,156.6C433.2,156.6 433.2,162.4 435.5,163.4Z" fill="url(#g23q)"/>
<path d="M438.7,163.9C441.4,161.8 441.4,150.4 442.9,150.4C444.5,150.4 444.4,161.8 447.2,163.9Z" fill="url(#g23p)"/>
<path d="M460.8,165.1C463.9,163.2 463.8,152.9 465.5,152.9C467.2,152.9 467.2,163.2 470.3,165.1Z" fill="url(#g23p)"/>
<path d="M416.9,166.4C419.9,163.9 419.9,150.2 421.6,150.2C423.2,150.2 423.2,163.9 426.3,166.4Z" fill="url(#g23p)"/>
<path d="M436.9,166.8C439.5,164.4 439.4,151.2 440.8,151.2C442.3,151.2 442.2,164.4 444.8,166.8Z" fill="url(#g23p)"/>
<path d="M450.0,166.9C452.8,164.9 452.7,153.6 454.3,153.6C455.8,153.6 455.8,164.9 458.5,166.9Z" fill="url(#g23p)"/>
<path d="M409.6,170.4C412.6,169.0 412.6,160.8 414.3,160.8C415.9,160.8 415.9,169.0 418.9,170.4Z" fill="url(#g23p)"/>
<path d="M447.0,171.5C450.1,169.3 450.0,156.7 451.7,156.7C453.4,156.7 453.4,169.3 456.5,171.5Z" fill="url(#g23p)"/>
<path d="M458.6,172.3C461.3,170.4 461.3,159.5 462.8,159.5C464.4,159.5 464.3,170.4 467.1,172.3Z" fill="url(#g23p)"/>
<path d="M429.9,174.5C433.0,172.8 433.0,163.6 434.7,163.6C436.4,163.6 436.3,172.8 439.4,174.5Z" fill="url(#g23p)"/>
<path d="M451.7,174.7C454.4,172.8 454.4,162.2 455.8,162.2C457.3,162.2 457.3,172.8 459.9,174.7Z" fill="url(#g23p)"/>
<path d="M404.4,175.3C406.9,173.8 406.9,165.7 408.3,165.7C409.7,165.7 409.7,173.8 412.2,175.3Z" fill="url(#g23p)"/>
<path d="M468.3,175.5C470.8,173.5 470.7,162.2 472.1,162.2C473.5,162.2 473.4,173.5 475.9,175.5Z" fill="url(#g23p)"/>
<path d="M473.6,176.5C476.7,174.4 476.6,162.8 478.3,162.8C480.0,162.8 480.0,174.4 483.0,176.5Z" fill="url(#g23p)"/>
<path d="M487.2,177.0C490.4,174.9 490.3,163.0 492.1,163.0C493.8,163.0 493.7,174.9 496.9,177.0Z" fill="url(#g23p)"/>
<path d="M419.8,177.2C423.0,175.7 423.0,167.4 424.7,167.4C426.5,167.4 426.5,175.7 429.6,177.2Z" fill="url(#g23p)"/>
<path d="M459.8,178.7C463.0,176.3 462.9,162.7 464.7,162.7C466.4,162.7 466.4,176.3 469.6,178.7Z" fill="url(#g23p)"/>
<path d="M427.6,179.1C430.1,176.6 430.0,163.0 431.4,163.0C432.8,163.0 432.8,176.6 435.3,179.1Z" fill="url(#g23p)"/>
<path d="M441.4,179.8C444.5,177.4 444.4,164.3 446.2,164.3C447.9,164.3 447.9,177.4 451.0,179.8Z" fill="url(#g23p)"/>
<path d="M500.7,180.0C503.8,178.4 503.8,169.8 505.5,169.8C507.2,169.8 507.2,178.4 510.3,180.0Z" fill="url(#g23p)"/>
<path d="M413.7,181.1C416.7,179.0 416.7,167.4 418.4,167.4C420.1,167.4 420.0,179.0 423.1,181.1Z" fill="url(#g23p)"/>
<path d="M481.6,181.5C484.3,179.3 484.3,166.3 485.8,166.3C487.4,166.3 487.3,179.3 490.1,181.5Z" fill="url(#g23p)"/>
<path d="M507.1,182.5C510.0,180.8 510.0,171.1 511.6,171.1C513.2,171.1 513.2,180.8 516.1,182.5Z" fill="url(#g23p)"/>
<path d="M451.0,182.7C453.9,181.2 453.8,173.2 455.4,173.2C457.0,173.2 456.9,181.2 459.8,182.7Z" fill="url(#g23p)"/>
<path d="M399.1,183.1C402.1,181.1 402.0,169.6 403.7,169.6C405.3,169.6 405.3,181.1 408.3,183.1Z" fill="url(#g23p)"/>
<path d="M493.7,183.1C496.3,181.1 496.2,169.3 497.6,169.3C499.0,169.3 499.0,181.1 501.5,183.1Z" fill="url(#g23p)"/>
<path d="M467.6,183.8C470.4,181.8 470.4,170.4 471.9,170.4C473.5,170.4 473.5,181.8 476.3,183.8Z" fill="url(#g23p)"/>
<path d="M422.3,184.0C424.8,182.0 424.7,170.4 426.1,170.4C427.5,170.4 427.5,182.0 430.0,184.0Z" fill="url(#g23p)"/>
<path d="M433.2,184.2C436.2,182.7 436.1,174.1 437.8,174.1C439.4,174.1 439.4,182.7 442.3,184.2Z" fill="url(#g23p)"/>
<path d="M461.5,184.7C464.4,182.6 464.4,170.5 466.0,170.5C467.7,170.5 467.6,182.6 470.6,184.7Z" fill="url(#g23p)"/>
<path d="M408.5,185.6C411.6,183.7 411.5,172.9 413.2,172.9C414.9,172.9 414.8,183.7 417.8,185.6Z" fill="url(#g23p)"/>
<path d="M517.9,185.8C520.7,183.9 520.6,172.8 522.2,172.8C523.8,172.8 523.7,183.9 526.5,185.8Z" fill="url(#g23p)"/>
<path d="M443.8,186.5C446.8,184.0 446.8,170.3 448.4,170.3C450.1,170.3 450.0,184.0 453.1,186.5Z" fill="url(#g23p)"/>
<path d="M481.0,186.5C484.1,184.5 484.1,172.9 485.8,172.9C487.5,172.9 487.5,184.5 490.6,186.5Z" fill="url(#g23p)"/>
<path d="M467.0,187.8C469.9,186.0 469.8,176.1 471.4,176.1C473.0,176.1 472.9,186.0 475.8,187.8Z" fill="url(#g23p)"/>
<path d="M488.3,188.9C491.5,186.8 491.5,174.8 493.2,174.8C495.0,174.8 495.0,186.8 498.2,188.9Z" fill="url(#g23p)"/>
<path d="M434.1,189.3C436.6,187.7 436.6,178.7 438.0,178.7C439.4,178.7 439.3,187.7 441.9,189.3Z" fill="url(#g23p)"/>
<path d="M505.6,189.3C508.3,186.9 508.3,173.4 509.7,173.4C511.2,173.4 511.2,186.9 513.8,189.3Z" fill="url(#g23p)"/>
<path d="M417.0,189.6C419.9,187.7 419.8,177.3 421.4,177.3C423.0,177.3 423.0,187.7 425.8,189.6Z" fill="url(#g23p)"/>
<path d="M455.3,190.5C457.9,188.1 457.8,174.2 459.2,174.2C460.6,174.2 460.6,188.1 463.1,190.5Z" fill="url(#g23p)"/>
<path d="M440.3,191.2C442.8,189.0 442.8,176.4 444.2,176.4C445.6,176.4 445.6,189.0 448.1,191.2Z" fill="url(#g23p)"/>
<path d="M525.5,191.2C528.2,189.5 528.2,179.9 529.7,179.9C531.1,179.9 531.1,189.5 533.8,191.2Z" fill="url(#g23p)"/>
<path d="M396.6,191.2C399.3,189.8 399.3,181.8 400.7,181.8C402.2,181.8 402.2,189.8 404.9,191.2Z" fill="url(#g23p)"/>
<path d="M474.8,192.9C477.9,191.5 477.9,183.6 479.6,183.6C481.3,183.6 481.3,191.5 484.3,192.9Z" fill="url(#g23p)"/>
<path d="M508.4,193.2C511.0,191.5 511.0,182.0 512.5,182.0C514.0,182.0 513.9,191.5 516.6,193.2Z" fill="url(#g23p)"/>
<path d="M391.1,193.9C393.7,191.5 393.7,177.9 395.1,177.9C396.6,177.9 396.5,191.5 399.1,193.9Z" fill="url(#g23p)"/>
<path d="M402.2,193.9C405.1,191.8 405.0,179.5 406.6,179.5C408.2,179.5 408.1,191.8 411.0,193.9Z" fill="url(#g23p)"/>
<path d="M463.5,194.0C466.1,191.8 466.1,179.7 467.5,179.7C468.9,179.7 468.8,191.8 471.4,194.0Z" fill="url(#g23p)"/>
<path d="M532.9,194.7C535.8,192.7 535.8,181.7 537.4,181.7C539.0,181.7 539.0,192.7 541.9,194.7Z" fill="url(#g23p)"/>
<path d="M413.7,194.8C416.2,192.8 416.2,181.5 417.5,181.5C418.9,181.5 418.9,192.8 421.4,194.8Z" fill="url(#g23p)"/>
<path d="M500.4,195.2C502.2,194.2 502.1,188.5 503.1,188.5C504.1,188.5 504.1,194.2 505.9,195.2Z" fill="url(#g23q)"/>
<path d="M428.0,196.3C430.6,194.7 430.6,186.0 432.0,186.0C433.4,186.0 433.4,194.7 436.0,196.3Z" fill="url(#g23p)"/>
<path d="M471.7,196.5C474.3,194.4 474.2,182.4 475.7,182.4C477.1,182.4 477.0,194.4 479.6,196.5Z" fill="url(#g23p)"/>
<path d="M399.4,196.8C401.9,194.9 401.9,184.4 403.3,184.4C404.7,184.4 404.7,194.9 407.2,196.8Z" fill="url(#g23p)"/>
<path d="M504.7,197.2C507.5,195.0 507.5,182.8 509.0,182.8C510.6,182.8 510.6,195.0 513.4,197.2Z" fill="url(#g23p)"/>
<path d="M422.6,197.4C424.5,196.6 424.4,191.8 425.5,191.8C426.5,191.8 426.5,196.6 428.3,197.4Z" fill="url(#g23q)"/>
<path d="M449.2,198.0C451.7,196.5 451.6,188.3 453.0,188.3C454.4,188.3 454.4,196.5 456.9,198.0Z" fill="url(#g23p)"/>
<path d="M522.5,198.1C525.0,196.1 525.0,184.7 526.4,184.7C527.8,184.7 527.7,196.1 530.2,198.1Z" fill="url(#g23p)"/>
<path d="M485.8,198.8C488.6,196.5 488.6,183.9 490.1,183.9C491.7,183.9 491.6,196.5 494.4,198.8Z" fill="url(#g23p)"/>
<path d="M494.2,199.3C496.9,197.8 496.9,189.3 498.4,189.3C499.9,189.3 499.9,197.8 502.6,199.3Z" fill="url(#g23p)"/>
<path d="M528.7,199.6C530.6,198.8 530.6,194.2 531.6,194.2C532.7,194.2 532.7,198.8 534.6,199.6Z" fill="url(#g23q)"/>
<path d="M387.4,200.1C390.3,198.1 390.2,187.1 391.8,187.1C393.5,187.1 393.4,198.1 396.3,200.1Z" fill="url(#g23p)"/>
<path d="M459.5,201.6C461.7,200.7 461.7,195.8 463.0,195.8C464.2,195.8 464.2,200.7 466.4,201.6Z" fill="url(#g23q)"/>
<path d="M481.8,201.6C484.8,199.3 484.7,186.3 486.4,186.3C488.0,186.3 488.0,199.3 491.0,201.6Z" fill="url(#g23p)"/>
<path d="M444.1,202.3C446.2,201.5 446.2,196.7 447.3,196.7C448.5,196.7 448.5,201.5 450.6,202.3Z" fill="url(#g23q)"/>
<path d="M411.8,202.7C413.8,202.1 413.8,198.9 414.9,198.9C416.0,198.9 416.0,202.1 418.0,202.7Z" fill="url(#g23q)"/>
<path d="M514.0,202.7C516.5,200.8 516.5,189.9 517.8,189.9C519.2,189.9 519.2,200.8 521.7,202.7Z" fill="url(#g23p)"/>
<path d="M467.0,202.9C469.5,200.4 469.4,186.5 470.8,186.5C472.2,186.5 472.2,200.4 474.7,202.9Z" fill="url(#g23p)"/>
<path d="M399.2,203.6C401.8,202.1 401.7,194.0 403.1,194.0C404.5,194.0 404.5,202.1 407.0,203.6Z" fill="url(#g23p)"/>
<path d="M432.3,203.8C434.2,203.3 434.1,199.9 435.2,199.9C436.2,199.9 436.2,203.3 438.1,203.8Z" fill="url(#g23q)"/>
<path d="M525.0,205.6C527.0,205.0 527.0,201.8 528.1,201.8C529.2,201.8 529.1,205.0 531.1,205.6Z" fill="url(#g23q)"/>
<path d="M490.9,205.7C493.7,203.5 493.7,191.0 495.2,191.0C496.8,191.0 496.8,203.5 499.6,205.7Z" fill="url(#g23p)"/>
<path d="M381.6,206.1C384.6,203.6 384.5,189.4 386.2,189.4C387.8,189.4 387.8,203.6 390.8,206.1Z" fill="url(#g23p)"/>
<path d="M455.7,206.4C458.3,203.9 458.3,190.0 459.7,190.0C461.2,190.0 461.1,203.9 463.7,206.4Z" fill="url(#g23p)"/>
<path d="M441.8,206.7C444.6,204.6 444.5,192.3 446.0,192.3C447.6,192.3 447.5,204.6 450.3,206.7Z" fill="url(#g23p)"/>
<path d="M406.1,206.8C409.2,205.4 409.1,197.7 410.9,197.7C412.6,197.7 412.5,205.4 415.6,206.8Z" fill="url(#g23p)"/>
<path d="M479.1,206.9C480.8,206.3 480.8,203.3 481.7,203.3C482.7,203.3 482.7,206.3 484.4,206.9Z" fill="url(#g23q)"/>
<path d="M419.5,206.9C421.7,205.8 421.7,199.9 422.9,199.9C424.1,199.9 424.0,205.8 426.2,206.9Z" fill="url(#g23q)"/>
<path d="M512.4,207.1C515.4,205.1 515.3,193.4 517.0,193.4C518.6,193.4 518.6,205.1 521.5,207.1Z" fill="url(#g23p)"/>
<path d="M390.3,207.9C393.5,206.5 393.4,198.5 395.2,198.5C396.9,198.5 396.9,206.5 400.1,207.9Z" fill="url(#g23p)"/>
<path d="M447.8,209.6C450.9,207.3 450.9,194.4 452.6,194.4C454.4,194.4 454.3,207.3 457.5,209.6Z" fill="url(#g23p)"/>
<path d="M377.0,209.8C379.7,208.3 379.6,199.9 381.2,199.9C382.7,199.9 382.6,208.3 385.4,209.8Z" fill="url(#g23p)"/>
<path d="M424.9,210.0C427.8,207.9 427.7,196.0 429.3,196.0C430.9,196.0 430.9,207.9 433.7,210.0Z" fill="url(#g23p)"/>
<path d="M464.0,210.3C467.1,208.3 467.1,196.5 468.8,196.5C470.6,196.5 470.5,208.3 473.7,210.3Z" fill="url(#g23p)"/>
<path d="M417.3,210.6C419.9,208.7 419.9,198.1 421.4,198.1C422.8,198.1 422.8,208.7 425.5,210.6Z" fill="url(#g23p)"/>
<path d="M499.3,211.2C502.4,209.6 502.3,200.5 504.0,200.5C505.7,200.5 505.7,209.6 508.7,211.2Z" fill="url(#g23p)"/>
<path d="M399.9,211.3C402.8,208.8 402.8,194.9 404.4,194.9C406.0,194.9 406.0,208.8 408.9,211.3Z" fill="url(#g23p)"/>
<path d="M521.4,211.4C524.3,210.0 524.2,201.8 525.8,201.8C527.4,201.8 527.3,210.0 530.2,211.4Z" fill="url(#g23p)"/>
<path d="M483.8,212.1C486.3,210.3 486.3,200.0 487.7,200.0C489.0,200.0 489.0,210.3 491.5,212.1Z" fill="url(#g23p)"/>
<path d="M385.9,212.7C388.4,211.3 388.3,203.6 389.7,203.6C391.1,203.6 391.1,211.3 393.6,212.7Z" fill="url(#g23p)"/>
<path d="M433.8,213.9C436.5,211.6 436.4,198.9 437.9,198.9C439.4,198.9 439.3,211.6 442.0,213.9Z" fill="url(#g23p)"/>
<path d="M497.6,213.9C499.8,213.1 499.8,208.5 501.0,208.5C502.3,208.5 502.3,213.1 504.5,213.9Z" fill="url(#g23q)"/>
<path d="M515.7,214.5C518.7,212.6 518.6,201.4 520.2,201.4C521.9,201.4 521.8,212.6 524.8,214.5Z" fill="url(#g23p)"/>
<path d="M481.5,215.0C484.2,212.9 484.1,201.1 485.6,201.1C487.0,201.1 487.0,212.9 489.6,215.0Z" fill="url(#g23p)"/>
<path d="M472.4,215.4C475.2,213.2 475.1,200.6 476.6,200.6C478.1,200.6 478.1,213.2 480.8,215.4Z" fill="url(#g23p)"/>
<path d="M419.9,215.9C422.6,213.5 422.6,199.5 424.1,199.5C425.7,199.5 425.6,213.5 428.4,215.9Z" fill="url(#g23p)"/>
<path d="M429.6,216.1C432.8,213.8 432.7,200.8 434.5,200.8C436.3,200.8 436.2,213.8 439.4,216.1Z" fill="url(#g23p)"/>
<path d="M444.5,216.3C447.1,214.2 447.1,202.2 448.6,202.2C450.0,202.2 450.0,214.2 452.6,216.3Z" fill="url(#g23p)"/>
<path d="M370.3,217.6C373.1,215.7 373.0,205.0 374.5,205.0C376.1,205.0 376.0,215.7 378.8,217.6Z" fill="url(#g23p)"/>
<path d="M382.2,219.2C385.2,217.4 385.2,207.3 386.8,207.3C388.5,207.3 388.4,217.4 391.4,219.2Z" fill="url(#g23p)"/>
<path d="M398.2,219.7C400.7,217.6 400.7,205.6 402.0,205.6C403.4,205.6 403.4,217.6 405.8,219.7Z" fill="url(#g23p)"/>
<path d="M416.4,219.8C419.1,217.3 419.1,203.0 420.6,203.0C422.1,203.0 422.1,217.3 424.8,219.8Z" fill="url(#g23p)"/>
<path d="M440.3,220.1C442.2,219.1 442.2,213.3 443.2,213.3C444.3,213.3 444.3,219.1 446.2,220.1Z" fill="url(#g23q)"/>
<path d="M491.9,220.5C494.4,219.1 494.4,211.4 495.8,211.4C497.2,211.4 497.2,219.1 499.7,220.5Z" fill="url(#g23p)"/>
<path d="M468.8,220.7C471.0,220.0 471.0,215.9 472.2,215.9C473.4,215.9 473.4,220.0 475.6,220.7Z" fill="url(#g23q)"/>
<path d="M450.8,220.9C453.8,219.4 453.7,211.1 455.3,211.1C456.9,211.1 456.9,219.4 459.8,220.9Z" fill="url(#g23p)"/>
<path d="M497.9,221.3C499.9,220.4 499.9,215.0 501.0,215.0C502.1,215.0 502.0,220.4 504.0,221.3Z" fill="url(#g23q)"/>
<path d="M476.4,222.6C479.0,220.9 479.0,211.0 480.4,211.0C481.9,211.0 481.8,220.9 484.4,222.6Z" fill="url(#g23p)"/>
<path d="M388.8,222.8C391.7,220.7 391.6,208.5 393.2,208.5C394.7,208.5 394.7,220.7 397.5,222.8Z" fill="url(#g23p)"/>
<path d="M406.3,222.9C408.3,222.2 408.3,218.4 409.3,218.4C410.4,218.4 410.4,222.2 412.4,222.9Z" fill="url(#g23q)"/>
<path d="M511.1,223.4C513.7,221.8 513.7,213.0 515.2,213.0C516.6,213.0 516.6,221.8 519.2,223.4Z" fill="url(#g23p)"/>
<path d="M463.2,223.4C466.2,221.7 466.1,211.9 467.7,211.9C469.4,211.9 469.3,221.7 472.2,223.4Z" fill="url(#g23p)"/>
<path d="M449.4,225.5C452.5,224.1 452.4,215.7 454.1,215.7C455.8,215.7 455.7,224.1 458.8,225.5Z" fill="url(#g23p)"/>
<path d="M487.4,225.6C490.3,223.1 490.2,209.2 491.8,209.2C493.4,209.2 493.4,223.1 496.3,225.6Z" fill="url(#g23p)"/>
<path d="M507.2,226.0C510.0,224.3 509.9,214.6 511.5,214.6C513.0,214.6 513.0,224.3 515.8,226.0Z" fill="url(#g23p)"/>
<path d="M426.9,226.1C430.0,224.5 430.0,215.0 431.6,215.0C433.3,215.0 433.3,224.5 436.3,226.1Z" fill="url(#g23p)"/>
<path d="M434.6,227.0C436.5,226.0 436.5,220.5 437.5,220.5C438.6,220.5 438.6,226.0 440.5,227.0Z" fill="url(#g23q)"/>
<path d="M413.4,227.2C416.3,224.9 416.3,211.3 417.9,211.3C419.5,211.3 419.5,224.9 422.4,227.2Z" fill="url(#g23p)"/>
<path d="M472.3,227.6C474.8,226.1 474.8,217.3 476.2,217.3C477.6,217.3 477.6,226.1 480.1,227.6Z" fill="url(#g23p)"/>
<path d="M397.6,227.7C400.7,225.8 400.6,215.3 402.3,215.3C404.0,215.3 404.0,225.8 407.1,227.7Z" fill="url(#g23p)"/>
<path d="M426.4,228.7C428.1,228.1 428.1,224.3 429.0,224.3C430.0,224.3 429.9,228.1 431.7,228.7Z" fill="url(#g23q)"/>
<path d="M479.4,229.0C482.1,227.5 482.1,219.6 483.6,219.6C485.1,219.6 485.1,227.5 487.8,229.0Z" fill="url(#g23p)"/>
<path d="M494.1,229.1C497.0,227.6 496.9,219.0 498.5,219.0C500.1,219.0 500.0,227.6 502.9,229.1Z" fill="url(#g23p)"/>
<path d="M454.4,229.6C457.0,227.3 456.9,214.1 458.4,214.1C459.8,214.1 459.7,227.3 462.3,229.6Z" fill="url(#g23p)"/>
<path d="M500.6,231.0C503.4,229.6 503.4,221.4 504.9,221.4C506.4,221.4 506.4,229.6 509.2,231.0Z" fill="url(#g23p)"/>
<path d="M409.4,231.9C411.3,231.2 411.2,227.5 412.3,227.5C413.3,227.5 413.3,231.2 415.1,231.9Z" fill="url(#g23q)"/>
<path d="M443.6,232.1C445.3,231.2 445.3,225.6 446.2,225.6C447.2,225.6 447.1,231.2 448.9,232.1Z" fill="url(#g23q)"/>
<path d="M432.7,232.6C435.3,230.4 435.3,218.0 436.8,218.0C438.2,218.0 438.2,230.4 440.8,232.6Z" fill="url(#g23p)"/>
<path d="M415.5,234.5C418.4,232.9 418.4,224.0 420.0,224.0C421.6,224.0 421.5,232.9 424.4,234.5Z" fill="url(#g23p)"/>
<path d="M487.6,235.8C490.2,233.8 490.1,222.0 491.6,222.0C493.0,222.0 493.0,233.8 495.6,235.8Z" fill="url(#g23p)"/>
<path d="M460.8,235.9C463.3,233.6 463.3,220.5 464.7,220.5C466.1,220.5 466.1,233.6 468.6,235.9Z" fill="url(#g23p)"/>
<path d="M477.0,236.7C479.8,234.3 479.8,221.2 481.3,221.2C482.9,221.2 482.9,234.3 485.7,236.7Z" fill="url(#g23p)"/>
<path d="M441.0,236.8C443.5,235.5 443.5,227.7 444.9,227.7C446.3,227.7 446.3,235.5 448.8,236.8Z" fill="url(#g23p)"/>
<path d="M425.9,238.1C428.1,237.5 428.1,234.0 429.3,234.0C430.5,234.0 430.4,237.5 432.6,238.1Z" fill="url(#g23q)"/>
<path d="M447.2,238.7C449.7,236.3 449.7,222.7 451.0,222.7C452.4,222.7 452.4,236.3 454.9,238.7Z" fill="url(#g23p)"/>
<path d="M498.4,239.5C500.7,238.7 500.7,234.4 502.0,234.4C503.3,234.4 503.2,238.7 505.6,239.5Z" fill="url(#g23q)"/>
<path d="M487.8,239.9C490.5,238.2 490.5,228.8 492.0,228.8C493.5,228.8 493.5,238.2 496.2,239.9Z" fill="url(#g23p)"/>
<path d="M471.8,241.0C473.8,240.3 473.8,236.2 474.8,236.2C475.9,236.2 475.9,240.3 477.9,241.0Z" fill="url(#g23q)"/>
<path d="M490.9,243.1C493.5,241.7 493.4,233.5 494.8,233.5C496.2,233.5 496.2,241.7 498.8,243.1Z" fill="url(#g23p)"/>
<path d="M459.0,244.9C461.6,242.4 461.6,228.1 463.0,228.1C464.5,228.1 464.4,242.4 467.0,244.9Z" fill="url(#g23p)"/>
<path d="M481.5,245.6C484.3,243.3 484.2,229.8 485.7,229.8C487.2,229.8 487.2,243.3 489.9,245.6Z" fill="url(#g23p)"/>
<path d="M465.3,245.7C468.4,243.7 468.3,232.6 470.0,232.6C471.7,232.6 471.6,243.7 474.7,245.7Z" fill="url(#g23p)"/>
<path d="M445.9,246.9C448.6,244.4 448.5,230.1 450.0,230.1C451.4,230.1 451.4,244.4 454.0,246.9Z" fill="url(#g23p)"/>
<path d="M487.0,248.7C490.1,246.3 490.1,232.6 491.8,232.6C493.5,232.6 493.4,246.3 496.5,248.7Z" fill="url(#g23p)"/>
<path d="M453.6,249.8C456.5,247.7 456.4,235.6 458.0,235.6C459.6,235.6 459.6,247.7 462.4,249.8Z" fill="url(#g23p)"/>
<path d="M474.6,251.8C477.8,249.5 477.7,236.8 479.5,236.8C481.2,236.8 481.1,249.5 484.3,251.8Z" fill="url(#g23p)"/>
<path d="M463.4,251.9C466.0,250.1 466.0,239.9 467.5,239.9C469.0,239.9 468.9,250.1 471.6,251.9Z" fill="url(#g23p)"/>
<path d="M472.8,255.8C475.3,253.5 475.2,240.6 476.6,240.6C478.0,240.6 478.0,253.5 480.5,255.8Z" fill="url(#g23p)"/>
<path d="M486.2,256.2C488.7,254.0 488.7,241.9 490.1,241.9C491.5,241.9 491.5,254.0 494.0,256.2Z" fill="url(#g23p)"/>
<path d="M476.6,260.7C479.1,258.5 479.1,246.0 480.5,246.0C481.9,246.0 481.8,258.5 484.4,260.7Z" fill="url(#g23p)"/>
</g>
<polyline points="373.60,217.40 486.80,262.60 545.00,194.50" fill="none" stroke="#eeeeee" stroke-width="0.7"/>
<line x1="375.70" y1="186.80" x2="376.90" y2="186.80" stroke="#999" stroke-width="0.4"/>
<line x1="375.70" y1="196.70" x2="376.90" y2="196.70" stroke="#999" stroke-width="0.4"/>
<line x1="375.70" y1="206.60" x2="376.90" y2="206.60" stroke="#999" stroke-width="0.4"/>
<line x1="375.70" y1="216.50" x2="376.90" y2="216.50" stroke="#999" stroke-width="0.4"/>
<text x="375.3" y="192.8" font-size="2.6" fill="#aaa" text-anchor="middle" transform="rotate(-90 375.3 192.8)">[nm]</text>
<text x="397.2" y="231.6" font-size="3" fill="#aaa" text-anchor="middle" transform="rotate(22 397.2 231.6)">200</text>
<text x="419.9" y="240.7" font-size="3" fill="#aaa" text-anchor="middle" transform="rotate(22 419.9 240.7)">400</text>
<text x="442.5" y="249.7" font-size="3" fill="#aaa" text-anchor="middle" transform="rotate(22 442.5 249.7)">600</text>
<text x="465.2" y="258.8" font-size="3" fill="#aaa" text-anchor="middle" transform="rotate(22 465.2 258.8)">800</text>
<text x="503.0" y="251.4" font-size="3" fill="#aaa" text-anchor="middle" transform="rotate(-48 503.0 251.4)">200</text>
<text x="514.7" y="237.8" font-size="3" fill="#aaa" text-anchor="middle" transform="rotate(-48 514.7 237.8)">400</text>
<text x="526.3" y="224.1" font-size="3" fill="#aaa" text-anchor="middle" transform="rotate(-48 526.3 224.1)">600</text>
<text x="538.0" y="210.5" font-size="3" fill="#aaa" text-anchor="middle" transform="rotate(-48 538.0 210.5)">800</text>
<text x="535.40" y="262.40" font-size="23.6" text-anchor="middle" stroke="#000" stroke-width="0.5">2</text>
</svg></body></html>
